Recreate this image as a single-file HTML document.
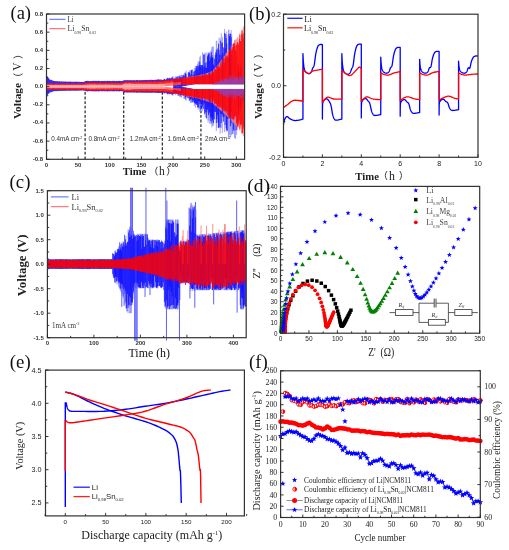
<!DOCTYPE html>
<html><head><meta charset="utf-8"><style>
html,body{margin:0;padding:0;background:#fff;width:509px;height:550px;overflow:hidden}
svg{display:block;filter:blur(0.4px)}
</style></head><body>
<svg width="509" height="550" viewBox="0 0 509 550">
<rect width="509" height="550" fill="#fff"/>
<path d="M85.11 92 V159.3" stroke="#222" stroke-width="1.2" stroke-dasharray="2.8 1.8" fill="none"/>
<path d="M123.71 92 V159.3" stroke="#222" stroke-width="1.2" stroke-dasharray="2.8 1.8" fill="none"/>
<path d="M162.32 92 V159.3" stroke="#222" stroke-width="1.2" stroke-dasharray="2.8 1.8" fill="none"/>
<path d="M200.93 92 V159.3" stroke="#222" stroke-width="1.2" stroke-dasharray="2.8 1.8" fill="none"/>
<path d="M175.05 77.17V86.65M175.05 86.65V94.20M175.60 76.30V86.65M175.60 86.65V95.19M177.80 76.42V86.65M177.80 86.65V95.83M180.00 74.83V86.65M180.00 86.65V96.52M181.10 74.66V86.57M181.10 86.73V97.88M181.65 74.89V86.47M181.65 86.83V97.25M183.85 73.84V86.07M183.85 87.23V98.98M185.50 72.55V85.77M185.50 87.53V100.11M186.05 70.58V85.67M186.05 87.63V100.89M189.35 70.49V85.07M189.35 88.23V100.60M190.45 70.15V84.87M190.45 88.43V102.67M191.00 70.41V84.76M191.00 88.54V102.98M192.10 69.20V84.56M192.10 88.74V103.03M194.30 67.89V84.16M194.30 89.14V106.01M195.40 65.73V84.11M195.40 89.19V107.73M197.60 63.74V84.11M197.60 89.19V107.11M198.15 61.16V84.11M198.15 89.19V109.59M198.70 62.51V84.11M198.70 89.19V107.94M199.25 60.79V84.11M199.25 89.19V108.34M199.80 57.04V84.11M199.80 89.19V111.61M200.35 55.65V84.11M200.35 89.19V111.68M202.55 52.13V84.11M202.55 89.19V111.26M204.75 53.34V84.11M204.75 89.19V114.65M205.30 52.66V84.11M205.30 89.19V117.34M206.95 52.34V84.11M206.95 89.19V119.42M208.05 53.32V84.11M208.05 89.19V122.65M208.60 52.35V84.11M208.60 89.19V120.47M209.70 53.18V84.11M209.70 89.19V123.50M210.25 51.12V84.11M210.25 89.19V123.95M211.35 49.70V84.11M211.35 89.19V123.97M211.90 46.81V84.11M211.90 89.19V127.38M212.45 46.69V84.11M212.45 89.19V125.93M213.55 46.44V84.11M213.55 89.19V125.68M216.30 40.96V84.11M216.30 89.19V131.09M216.85 40.61V84.11M216.85 89.19V127.82M219.05 37.58V84.11M219.05 89.19V127.51M220.15 38.03V84.11M220.15 89.19V133.83M221.25 33.13V84.11M221.25 89.19V128.02M222.35 36.69V84.11M222.35 89.19V133.04M224.55 28.99V84.11M224.55 89.19V132.08M226.20 31.56V84.11M226.20 89.19V131.62M226.75 34.65V84.11M226.75 89.19V130.32M228.40 30.06V84.11M228.40 89.19V137.41M228.95 29.51V84.11M228.95 89.19V138.92M229.50 33.69V84.11M229.50 89.19V134.77M230.60 32.91V84.11M230.60 89.19V137.10M231.15 30.07V84.11M231.15 89.19V135.22M231.70 34.47V84.11M231.70 89.19V134.89M234.45 40.51V84.11M234.45 89.19V138.15M235.00 39.51V84.11M235.00 89.19V137.26M235.55 45.17V84.11M235.55 89.19V138.88M236.65 58.25V84.11M236.65 89.19V134.83M237.20 63.36V84.11M237.20 89.19V130.14M237.75 62.98V84.11M237.75 89.19V123.55M238.30 63.76V84.11M238.30 89.19V123.65M238.85 63.62V84.11M238.85 89.19V118.65M240.50 66.96V84.11M240.50 89.19V112.48M241.05 65.58V84.11M241.05 89.19V110.55M241.60 67.36V84.11M241.60 89.19V109.58" stroke="#8080ff" stroke-width="0.7" fill="none"/>
<path d="M46.90 76.06V83.87M46.90 89.20V95.27M47.45 76.68V83.87M47.45 89.20V94.98M48.00 77.77V83.87M48.00 89.20V94.18M48.55 78.48V83.87M48.55 89.20V93.54M49.10 78.68V83.87M49.10 89.20V93.34M49.65 79.50V83.87M49.65 89.20V92.61M50.20 79.98V83.87M50.20 89.20V92.17M50.75 79.88V83.87M50.75 89.20V92.23M51.30 79.90V83.87M51.30 89.20V92.20M51.85 80.24V83.87M51.85 89.20V91.90M52.40 80.66V83.87M52.40 89.20V91.54M52.95 80.65V83.87M52.95 89.20V91.53M53.50 80.98V83.87M53.50 89.20V91.24M54.05 81.22V83.87M54.05 89.20V91.03M54.60 81.10V83.87M54.60 89.20V91.13M55.15 81.13V83.87M55.15 89.20V91.12M55.70 81.19V83.87M55.70 89.20V91.07M56.25 81.27V83.87M56.25 89.20V91.02M56.80 81.10V83.87M56.80 89.20V91.17M57.35 81.23V83.87M57.35 89.20V91.07M57.90 81.51V83.87M57.90 89.20V90.85M58.45 81.58V83.87M58.45 89.20V90.81M59.00 81.44V83.87M59.00 89.20V90.93M59.55 81.43V83.87M59.55 89.20V90.94M60.10 81.39V83.87M60.10 89.20V90.97M60.65 81.79V83.87M60.65 89.20V90.64M61.20 81.43V83.87M61.20 89.20V90.93M61.75 81.41V83.87M61.75 89.20V90.95M62.30 81.78V83.87M62.30 89.20V90.64M62.85 81.51V83.87M62.85 89.20V90.87M63.40 81.79V83.87M63.40 89.20V90.63M63.95 81.45V83.87M63.95 89.20V90.91M64.50 81.79V83.87M64.50 89.20V90.62M65.05 81.81V83.87M65.05 89.20V90.61M65.60 81.54V83.87M65.60 89.20V90.83M66.15 81.64V83.87M66.15 89.20V90.75M66.70 81.80V83.87M66.70 89.20V90.62M67.25 81.83V83.87M67.25 89.20V90.59M67.80 81.84V83.87M67.80 89.20V90.58M68.35 81.81V83.87M68.35 89.20V90.60M68.90 81.52V83.87M68.90 89.20V90.84M69.45 81.79V83.87M69.45 89.20V90.62M70.00 81.83V83.87M70.00 89.20V90.58M70.55 81.59V83.87M70.55 89.20V90.78M71.10 81.89V83.87M71.10 89.20V90.53M71.65 81.86V83.87M71.65 89.20V90.56M72.20 81.65V83.87M72.20 89.20V90.73M72.75 81.84V83.87M72.75 89.20V90.57M73.30 81.93V83.87M73.30 89.20V90.49M73.85 81.88V83.87M73.85 89.20V90.53M74.40 81.83V83.87M74.40 89.20V90.57M74.95 81.61V83.87M74.95 89.20V90.75M75.50 81.77V83.87M75.50 89.20V90.62M76.05 81.93V83.87M76.05 89.20V90.48M76.60 81.66V83.87M76.60 89.20V90.70M77.15 81.92V83.87M77.15 89.20V90.49M77.70 81.74V83.87M77.70 89.20V90.64M78.25 81.96V83.87M78.25 89.20V90.46M78.80 81.70V83.87M78.80 89.20V90.66M79.35 81.89V83.87M79.35 89.20V90.51M79.90 82.04V83.87M79.90 89.20V90.39M80.45 81.97V83.87M80.45 89.20V90.44M81.00 81.97V83.87M81.00 89.20V90.44M81.55 81.85V83.87M81.55 89.20V90.54M82.10 82.02V83.87M82.10 89.20V90.40M82.65 82.07V83.87M82.65 89.20V90.36M83.20 81.89V83.87M83.20 89.20V90.50M83.75 81.87V83.87M83.75 89.20V90.51M84.30 81.77V83.87M84.30 89.20V90.59M84.85 81.59V83.46M84.85 89.61V90.73M85.40 81.04V83.18M85.40 89.89V91.17M85.95 81.17V83.18M85.95 89.89V91.07M86.50 80.99V83.18M86.50 89.89V91.22M87.05 81.08V83.18M87.05 89.89V91.14M87.60 80.80V83.18M87.60 89.89V91.36M88.15 80.93V83.18M88.15 89.89V91.26M88.70 81.18V83.18M88.70 89.89V91.06M89.25 81.24V83.18M89.25 89.89V91.01M89.80 80.93V83.18M89.80 89.89V91.26M90.35 81.24V83.18M90.35 89.89V91.02M90.90 81.03V83.18M90.90 89.89V91.18M91.45 81.10V83.18M91.45 89.89V91.12M92.00 81.21V83.18M92.00 89.89V91.04M92.55 80.91V83.18M92.55 89.89V91.28M93.10 80.91V83.18M93.10 89.89V91.28M93.65 80.89V83.18M93.65 89.89V91.30M94.20 81.09V83.18M94.20 89.89V91.14M94.75 80.84V83.18M94.75 89.89V91.34M95.30 81.06V83.18M95.30 89.89V91.16M95.85 80.86V83.18M95.85 89.89V91.32M96.40 80.96V83.18M96.40 89.89V91.24M96.95 80.98V83.18M96.95 89.89V91.22M97.50 81.21V83.18M97.50 89.89V91.04M98.05 80.80V83.18M98.05 89.89V91.37M98.60 80.92V83.18M98.60 89.89V91.27M99.15 80.91V83.18M99.15 89.89V91.28M99.70 81.05V83.18M99.70 89.89V91.17M100.25 81.21V83.18M100.25 89.89V91.04M100.80 81.23V83.18M100.80 89.89V91.02M101.35 81.03V83.18M101.35 89.89V91.18M101.90 80.93V83.18M101.90 89.89V91.26M102.45 80.97V83.18M102.45 89.89V91.23M103.00 81.13V83.18M103.00 89.89V91.10M103.55 81.11V83.18M103.55 89.89V91.12M104.10 81.15V83.18M104.10 89.89V91.08M104.65 80.84V83.18M104.65 89.89V91.34M105.20 81.05V83.18M105.20 89.89V91.17M105.75 81.10V83.18M105.75 89.89V91.13M106.30 81.16V83.18M106.30 89.89V91.08M106.85 80.88V83.18M106.85 89.89V91.30M107.40 80.85V83.18M107.40 89.89V91.33M107.95 80.98V83.18M107.95 89.89V91.22M108.50 81.18V83.18M108.50 89.89V91.06M109.05 80.87V83.18M109.05 89.89V91.31M109.60 80.93V83.18M109.60 89.89V91.27M110.15 81.12V83.18M110.15 89.89V91.11M110.70 81.04V83.18M110.70 89.89V91.17M111.25 81.15V83.18M111.25 89.89V91.09M111.80 80.96V83.18M111.80 89.89V91.24M112.35 81.10V83.18M112.35 89.89V91.12M112.90 80.80V83.18M112.90 89.89V91.37M113.45 81.21V83.18M113.45 89.89V91.04M114.00 80.85V83.18M114.00 89.89V91.33M114.55 80.93V83.18M114.55 89.89V91.27M115.10 81.11V83.18M115.10 89.89V91.12M115.65 81.24V83.18M115.65 89.89V91.02M116.20 81.04V83.18M116.20 89.89V91.17M116.75 80.87V83.18M116.75 89.89V91.31M117.30 81.18V83.18M117.30 89.89V91.06M117.85 80.96V83.18M117.85 89.89V91.24M118.40 80.96V83.18M118.40 89.89V91.24M118.95 80.88V83.18M118.95 89.89V91.30M119.50 80.94V83.18M119.50 89.89V91.26M120.05 81.03V83.18M120.05 89.89V91.18M120.60 81.24V83.18M120.60 89.89V91.01M121.15 80.92V83.18M121.15 89.89V91.27M121.70 81.12V83.18M121.70 89.89V91.11M122.25 80.93V83.18M122.25 89.89V91.26M122.80 80.97V83.18M122.80 89.89V91.23M123.35 80.80V82.82M123.35 90.29V91.61M123.90 80.18V82.33M123.90 90.82V92.47M124.45 80.16V82.32M124.45 90.82V92.49M125.00 80.56V82.31M125.00 90.82V92.13M125.55 80.31V82.30M125.55 90.82V92.36M126.10 80.43V82.29M126.10 90.83V92.26M126.65 80.18V82.29M126.65 90.83V92.49M127.20 80.14V82.28M127.20 90.83V92.53M127.75 80.29V82.27M127.75 90.83V92.41M128.30 80.25V82.26M128.30 90.83V92.45M128.85 80.29V82.26M128.85 90.84V92.42M129.40 80.50V82.25M129.40 90.84V92.23M129.95 80.11V82.24M129.95 90.84V92.59M130.50 80.33V82.23M130.50 90.84V92.39M131.05 80.44V82.23M131.05 90.84V92.30M131.60 80.16V82.22M131.60 90.85V92.55M132.15 80.55V82.21M132.15 90.85V92.21M132.70 80.31V82.20M132.70 90.85V92.43M133.25 80.34V82.20M133.25 90.85V92.41M133.80 80.18V82.19M133.80 90.85V92.56M134.35 80.18V82.18M134.35 90.85V92.57M134.90 80.41V82.17M134.90 90.86V92.36M135.45 80.51V82.16M135.45 90.86V92.28M136.00 80.31V82.16M136.00 90.86V92.46M136.55 80.15V82.15M136.55 90.86V92.62M137.10 80.09V82.14M137.10 90.86V92.68M137.65 80.09V82.13M137.65 90.87V92.69M138.20 80.45V82.13M138.20 90.87V92.35M138.75 80.41V82.12M138.75 90.87V92.39M139.30 80.23V82.11M139.30 90.87V92.56M139.85 80.13V82.10M139.85 90.87V92.67M140.40 80.39V82.10M140.40 90.88V92.43M140.95 80.12V82.09M140.95 90.88V92.69M141.50 80.44V82.08M141.50 90.88V92.39M142.05 80.03V82.07M142.05 90.88V92.76M142.60 80.22V82.06M142.60 90.88V92.58M143.15 80.22V82.06M143.15 90.89V92.57M143.70 80.16V82.05M143.70 90.89V92.61M144.25 79.95V82.04M144.25 90.89V92.79M144.80 80.23V82.03M144.80 90.89V92.53M145.35 80.13V82.03M145.35 90.89V92.61M145.90 80.04V82.02M145.90 90.90V92.68M146.45 80.10V82.01M146.45 90.90V92.62M147.00 79.86V82.00M147.00 90.91V92.83M147.55 80.20V81.99M147.55 90.92V92.51M148.10 80.26V81.98M148.10 90.93V92.45M148.65 79.88V81.97M148.65 90.93V92.78M149.20 80.04V81.96M149.20 90.94V92.63M149.75 80.17V81.95M149.75 90.95V92.50M150.30 79.76V81.94M150.30 90.96V92.86M150.85 79.82V81.93M150.85 90.97V92.80M151.40 80.11V81.92M151.40 90.97V92.52M151.95 79.83V81.91M151.95 90.98V92.77M152.50 79.99V81.89M152.50 90.99V92.62M153.05 80.10V81.88M153.05 91.00V92.50M153.60 80.08V81.87M153.60 91.00V92.52M154.15 79.99V81.86M154.15 91.01V92.59M154.70 79.82V81.85M154.70 91.02V92.73M155.25 79.88V81.84M155.25 91.03V92.66M155.80 79.78V81.83M155.80 91.03V92.75M156.35 79.94V81.82M156.35 91.04V92.60M156.90 79.68V81.81M156.90 91.05V92.82M157.45 79.54V81.80M157.45 91.06V92.93M158.00 79.52V81.79M158.00 91.07V92.94M158.55 79.56V81.78M158.55 91.07V92.89M159.10 79.46V81.77M159.10 91.08V92.98M159.65 79.76V81.76M159.65 91.09V92.70M160.20 79.80V81.75M160.20 91.10V92.66M160.75 79.40V81.74M160.75 91.10V92.99M161.30 79.75V81.73M161.30 91.11V92.68M161.85 79.72V81.72M161.85 91.12V92.70M162.40 80.01V81.70M162.40 91.13V92.43M162.95 79.91V81.63M162.95 91.19V92.52M163.50 80.08V81.57M163.50 91.24V92.37M164.05 78.80V81.50M164.05 91.30V93.48M164.60 78.98V81.43M164.60 91.35V93.32M165.15 79.73V81.37M165.15 91.41V92.66M165.70 79.84V81.30M165.70 91.46V92.56M166.25 78.87V81.23M166.25 91.51V93.40M166.80 79.33V81.16M166.80 91.57V93.00M167.35 78.00V81.10M167.35 91.62V94.15M167.90 77.82V81.03M167.90 91.68V94.30M168.45 78.75V80.96M168.45 91.73V93.49M169.00 78.44V80.90M169.00 91.79V93.75M169.55 77.83V80.83M169.55 91.84V94.28M170.10 78.14V80.76M170.10 91.89V94.01M170.65 78.48V80.69M170.65 91.95V93.71M171.20 78.69V80.63M171.20 92.00V93.52M171.75 77.27V80.56M171.75 92.06V94.75M172.30 77.71V80.49M172.30 92.11V94.37M172.85 76.45V80.43M172.85 92.17V95.45M173.40 80.72V86.65M173.40 86.65V94.01M173.95 78.38V86.65M173.95 86.65V92.34M174.50 78.76V86.65M174.50 86.65V93.70M175.05 78.54V86.65M175.05 86.65V91.29M175.60 78.78V86.65M175.60 86.65V93.37M176.15 78.47V86.65M176.15 86.65V93.38M176.70 76.72V86.65M176.70 86.65V93.87M177.25 76.54V86.65M177.25 86.65V91.61M177.80 79.68V86.65M177.80 86.65V93.31M178.35 79.53V86.65M178.35 86.65V95.62M178.90 75.80V86.65M178.90 86.65V94.41M179.45 76.34V86.65M179.45 86.65V92.43M180.00 80.06V86.65M180.00 86.65V96.48M180.55 76.90V86.65M180.55 86.65V92.64M181.10 77.13V86.57M181.10 86.73V95.38M181.65 78.21V86.47M181.65 86.83V92.72M182.20 75.45V86.37M182.20 86.93V93.05M182.75 77.06V86.27M182.75 87.03V95.39M183.30 75.12V86.17M183.30 87.13V95.54M183.85 75.48V86.07M183.85 87.23V95.67M184.40 76.30V85.97M184.40 87.33V94.80M184.95 72.69V85.87M184.95 87.43V98.85M185.50 73.79V85.77M185.50 87.53V97.22M186.05 73.76V85.67M186.05 87.63V94.90M186.60 76.73V85.57M186.60 87.73V96.46M187.15 77.80V85.47M187.15 87.83V98.18M187.70 76.79V85.37M187.70 87.93V96.34M188.25 72.44V85.27M188.25 88.03V98.28M188.80 72.20V85.17M188.80 88.13V96.86M189.35 72.42V85.07M189.35 88.23V100.65M189.90 73.53V84.97M189.90 88.33V98.00M190.45 75.94V84.87M190.45 88.43V99.40M191.00 74.67V84.76M191.00 88.54V100.12M191.55 70.21V84.66M191.55 88.64V98.48M192.10 69.79V84.56M192.10 88.74V102.17M192.65 75.41V84.46M192.65 88.84V100.11M193.20 75.16V84.36M193.20 88.94V102.00M193.75 71.61V84.26M193.75 89.04V100.88M194.30 71.06V84.16M194.30 89.14V103.06M194.85 74.21V84.11M194.85 89.19V103.12M195.40 70.25V84.11M195.40 89.19V103.69M195.95 67.79V84.11M195.95 89.19V103.61M196.50 65.88V84.11M196.50 89.19V104.89M197.05 68.66V84.11M197.05 89.19V104.43M197.60 65.84V84.11M197.60 89.19V107.47M198.15 72.68V84.11M198.15 89.19V101.37M198.70 66.27V84.11M198.70 89.19V107.59M199.25 65.32V84.11M199.25 89.19V101.16M199.80 61.77V84.11M199.80 89.19V104.07M200.35 65.08V84.11M200.35 89.19V101.73M200.90 67.03V84.11M200.90 89.19V110.22M201.45 65.03V84.11M201.45 89.19V108.87M202.00 65.00V84.11M202.00 89.19V103.49M202.55 65.09V84.11M202.55 89.19V107.25M203.10 67.40V84.11M203.10 89.19V104.68M203.65 54.30V84.11M203.65 89.19V109.16M204.20 54.67V84.11M204.20 89.19V103.46M204.75 65.89V84.11M204.75 89.19V113.69M205.30 62.70V84.11M205.30 89.19V112.47M205.85 67.84V84.11M205.85 89.19V108.85M206.40 67.75V84.11M206.40 89.19V118.18M206.95 61.99V84.11M206.95 89.19V112.38M207.50 56.32V84.11M207.50 89.19V109.86M208.05 54.64V84.11M208.05 89.19V106.79M208.60 54.29V84.11M208.60 89.19V115.11M209.15 52.77V84.11M209.15 89.19V113.10M209.70 61.07V84.11M209.70 89.19V112.13M210.25 56.54V84.11M210.25 89.19V117.33M210.80 58.80V84.11M210.80 89.19V121.07M211.35 52.27V84.11M211.35 89.19V117.37M211.90 55.13V84.11M211.90 89.19V122.60M212.45 57.22V84.11M212.45 89.19V120.42M213.00 57.60V84.11M213.00 89.19V118.23M213.55 64.40V84.11M213.55 89.19V123.16M214.10 65.43V84.11M214.10 89.19V111.83M214.65 58.87V84.11M214.65 89.19V119.45M215.20 54.90V84.11M215.20 89.19V112.06M215.75 52.34V84.11M215.75 89.19V111.70M216.30 49.98V84.11M216.30 89.19V123.06M216.85 53.58V84.11M216.85 89.19V119.09M217.40 48.51V84.11M217.40 89.19V115.19M217.95 61.53V84.11M217.95 89.19V122.71M218.50 43.73V84.11M218.50 89.19V128.09M219.05 49.96V84.11M219.05 89.19V127.15M219.60 54.32V84.11M219.60 89.19V111.29M220.15 59.96V84.11M220.15 89.19V127.57M220.70 40.70V84.11M220.70 89.19V114.18M221.25 55.21V84.11M221.25 89.19V122.89M221.80 43.17V84.11M221.80 89.19V113.33M222.35 42.48V84.11M222.35 89.19V114.72M222.90 52.92V84.11M222.90 89.19V116.97M223.45 47.35V84.11M223.45 89.19V121.71M224.00 55.19V84.11M224.00 89.19V117.02M224.55 33.04V84.11M224.55 89.19V112.11M225.10 48.33V84.11M225.10 89.19V124.99M225.65 34.06V84.11M225.65 89.19V115.28M226.20 38.11V84.11M226.20 89.19V128.17M226.75 43.34V84.11M226.75 89.19V130.10M227.30 55.45V84.11M227.30 89.19V131.07M227.85 56.22V84.11M227.85 89.19V118.88M228.40 53.15V84.11M228.40 89.19V117.81M228.95 34.02V84.11M228.95 89.19V113.47M229.50 36.02V84.11M229.50 89.19V115.74M230.05 51.89V84.11M230.05 89.19V118.29M230.60 33.97V84.11M230.60 89.19V126.18M231.15 37.16V84.11M231.15 89.19V123.18M231.70 54.82V84.11M231.70 89.19V117.73M232.25 50.59V84.11M232.25 89.19V115.03M232.80 51.18V84.11M232.80 89.19V133.93M233.35 43.99V84.11M233.35 89.19V129.75M233.90 54.22V84.11M233.90 89.19V131.03M234.45 49.47V84.11M234.45 89.19V114.73M235.00 59.33V84.11M235.00 89.19V118.77M235.55 61.07V84.11M235.55 89.19V115.22M236.10 64.74V84.11M236.10 89.19V130.12M236.65 65.74V84.11M236.65 89.19V121.69M237.20 71.49V84.11M237.20 89.19V123.54M237.75 66.28V84.11M237.75 89.19V108.30M238.30 70.74V84.11M238.30 89.19V109.12M238.85 68.35V84.11M238.85 89.19V115.11M239.40 72.21V84.11M239.40 89.19V112.07M239.95 72.38V84.11M239.95 89.19V105.41M240.50 75.64V84.11M240.50 89.19V106.65M241.05 67.63V84.11M241.05 89.19V103.44M241.60 75.10V84.11M241.60 89.19V105.56M242.15 74.21V84.11M242.15 89.19V100.27M242.70 76.34V84.11M242.70 89.19V102.04M243.25 75.72V84.11M243.25 89.19V101.63M243.80 75.63V84.11M243.80 89.19V102.75" stroke="#0000ff" stroke-width="0.7" fill="none"/>
<path d="M183.30 77.83V84.71M183.30 88.59V95.25M184.40 77.67V84.66M184.40 88.64V95.51M186.05 77.40V84.59M186.05 88.71V95.89M186.60 77.29V84.56M186.60 88.74V96.02M187.15 77.19V84.54M187.15 88.76V96.15M187.70 77.09V84.51M187.70 88.79V96.28M188.25 76.99V84.49M188.25 88.81V96.41M188.80 76.89V84.46M188.80 88.84V96.53M189.35 76.78V84.44M189.35 88.86V96.66M189.90 76.68V84.41M189.90 88.89V96.79M190.45 76.58V84.39M190.45 88.91V96.92M191.55 76.38V84.33M191.55 88.97V97.18M192.10 76.28V84.31M192.10 88.99V97.30M192.65 76.17V84.28M192.65 89.02V97.43M193.20 76.07V84.26M193.20 89.04V97.56M193.75 75.97V84.23M193.75 89.07V97.69M195.40 75.66V84.16M195.40 89.14V98.07M197.05 75.36V84.11M197.05 89.19V98.46M198.15 75.16V84.11M198.15 89.19V98.71M199.25 74.95V84.11M199.25 89.19V98.97M200.35 74.75V84.11M200.35 89.19V99.23M200.90 74.65V84.11M200.90 89.19V99.36M201.45 74.54V84.11M201.45 89.19V99.53M203.10 74.24V84.11M203.10 89.19V100.05M203.65 74.14V84.11M203.65 89.19V100.23M204.20 74.04V84.11M204.20 89.19V100.41M205.85 73.51V84.11M205.85 89.19V100.93M206.40 73.30V84.11M206.40 89.19V101.11M206.95 73.09V84.11M206.95 89.19V101.28M207.50 72.88V84.11M207.50 89.19V101.46M208.05 72.67V84.11M208.05 89.19V101.63M208.60 72.46V84.11M208.60 89.19V101.81M210.25 71.82V84.11M210.25 89.19V102.33M211.35 71.40V84.11M211.35 89.19V102.68M211.90 71.19V84.11M211.90 89.19V102.86M213.55 69.66V84.11M213.55 89.19V104.09M214.10 69.04V84.11M214.10 89.19V104.58M214.65 68.42V84.11M214.65 89.19V105.06M215.20 67.81V84.11M215.20 89.19V105.55M215.75 67.19V84.11M215.75 89.19V106.04M216.30 66.58V84.11M216.30 89.19V106.53M217.40 65.35V84.11M217.40 89.19V107.51M217.95 64.73V84.11M217.95 89.19V107.99M219.05 63.37V84.11M219.05 89.19V108.97M219.60 62.59V84.11M219.60 89.19V109.46M220.15 61.80V84.11M220.15 89.19V109.95M220.70 61.01V84.11M220.70 89.19V110.44M221.25 60.22V84.11M221.25 89.19V110.93M221.80 59.43V84.11M221.80 89.19V111.41M223.45 57.06V84.11M223.45 89.19V112.88M224.00 56.27V84.11M224.00 89.19V113.37M224.55 55.48V84.11M224.55 89.19V113.86M225.65 53.91V84.11M225.65 89.19V114.84M226.20 53.17V84.11M226.20 89.19V115.39M226.75 52.42V84.11M226.75 89.19V115.95M227.30 51.68V84.11M227.30 89.19V116.51M227.85 50.94V84.11M227.85 89.19V117.07M228.40 50.20V84.11M228.40 89.19V117.62M231.15 46.48V84.11M231.15 89.19V120.41M232.25 45.00V84.11M232.25 89.19V121.52M232.80 44.25V84.11M232.80 89.19V122.08M233.35 43.51V84.11M233.35 89.19V122.64M233.90 42.77V84.11M233.90 89.19V123.19M234.45 42.03V84.11M234.45 89.19V123.75M235.00 41.28V84.11M235.00 89.19V124.31M235.55 40.54V84.11M235.55 89.19V124.86M236.10 39.80V84.11M236.10 89.19V125.42M236.65 38.94V84.11M236.65 89.19V126.10M237.20 37.97V84.11M237.20 89.19V126.88M237.75 37.00V84.11M237.75 89.19V127.67M239.40 34.08V84.11M239.40 89.19V130.04M239.95 33.11V84.11M239.95 89.19V130.83M241.60 30.20V84.11M241.60 89.19V133.20M242.15 29.23V84.11M242.15 89.19V133.99M243.25 27.29V84.11M243.25 89.19V135.56M243.80 26.31V84.11M243.80 89.19V136.35" stroke="#ff8080" stroke-width="0.7" fill="none"/>
<path d="M46.90 83.36V85.26M46.90 87.76V89.66M47.45 83.39V85.29M47.45 87.74V89.64M48.00 83.35V85.25M48.00 87.77V89.67M48.55 83.38V85.28M48.55 87.75V89.65M49.10 83.29V85.19M49.10 87.83V89.73M49.65 83.45V85.35M49.65 87.69V89.59M50.20 83.28V85.18M50.20 87.84V89.74M50.75 83.53V85.43M50.75 87.61V89.51M51.30 83.23V85.13M51.30 87.89V89.79M51.85 83.34V85.24M51.85 87.78V89.68M52.40 83.54V85.44M52.40 87.60V89.50M52.95 83.53V85.43M52.95 87.61V89.51M53.50 83.47V85.37M53.50 87.67V89.57M54.05 83.39V85.29M54.05 87.74V89.64M54.60 83.27V85.17M54.60 87.85V89.75M55.15 83.34V85.24M55.15 87.79V89.69M55.70 83.33V85.23M55.70 87.80V89.70M56.25 83.45V85.35M56.25 87.68V89.58M56.80 83.22V85.12M56.80 87.89V89.79M57.35 83.31V85.21M57.35 87.81V89.71M57.90 83.47V85.37M57.90 87.67V89.57M58.45 83.52V85.42M58.45 87.62V89.52M59.00 83.41V85.31M59.00 87.72V89.62M59.55 83.42V85.32M59.55 87.71V89.61M60.10 83.27V85.17M60.10 87.85V89.75M60.65 83.48V85.38M60.65 87.66V89.56M61.20 83.39V85.29M61.20 87.74V89.64M61.75 83.41V85.31M61.75 87.72V89.62M62.30 83.34V85.24M62.30 87.79V89.69M62.85 83.46V85.36M62.85 87.68V89.58M63.40 83.44V85.34M63.40 87.70V89.60M63.95 83.30V85.20M63.95 87.82V89.72M64.50 83.46V85.36M64.50 87.67V89.57M65.05 83.53V85.43M65.05 87.61V89.51M65.60 83.49V85.39M65.60 87.65V89.55M66.15 83.40V85.30M66.15 87.73V89.63M66.70 83.31V85.21M66.70 87.82V89.72M67.25 83.33V85.23M67.25 87.79V89.69M67.80 83.41V85.31M67.80 87.72V89.62M68.35 83.46V85.36M68.35 87.68V89.58M68.90 83.28V85.18M68.90 87.84V89.74M69.45 83.26V85.16M69.45 87.86V89.76M70.00 83.42V85.32M70.00 87.71V89.61M70.55 83.33V85.23M70.55 87.79V89.69M71.10 83.22V85.12M71.10 87.89V89.79M71.65 83.46V85.36M71.65 87.67V89.57M72.20 83.44V85.34M72.20 87.70V89.60M72.75 83.52V85.42M72.75 87.62V89.52M73.30 83.35V85.25M73.30 87.77V89.67M73.85 83.35V85.25M73.85 87.78V89.68M74.40 83.40V85.30M74.40 87.73V89.63M74.95 83.39V85.29M74.95 87.74V89.64M75.50 83.26V85.16M75.50 87.86V89.76M76.05 83.49V85.39M76.05 87.64V89.54M76.60 83.28V85.18M76.60 87.84V89.74M77.15 83.48V85.38M77.15 87.65V89.55M77.70 83.24V85.14M77.70 87.88V89.78M78.25 83.23V85.13M78.25 87.88V89.78M78.80 83.35V85.25M78.80 87.78V89.68M79.35 83.51V85.41M79.35 87.63V89.53M79.90 83.23V85.13M79.90 87.89V89.79M80.45 83.31V85.21M80.45 87.81V89.71M81.00 83.28V85.18M81.00 87.84V89.74M81.55 83.45V85.35M81.55 87.68V89.58M82.10 83.31V85.21M82.10 87.81V89.71M82.65 83.47V85.37M82.65 87.67V89.57M83.20 83.27V85.17M83.20 87.85V89.75M83.75 83.45V85.35M83.75 87.68V89.58M84.30 83.48V85.38M84.30 87.66V89.56M84.85 82.98V84.88M84.85 88.15V90.05M85.40 82.74V85.04M85.40 88.00V90.30M85.95 82.62V84.92M85.95 88.11V90.41M86.50 82.71V85.01M86.50 88.02V90.32M87.05 82.40V84.70M87.05 88.31V90.61M87.60 82.50V84.80M87.60 88.22V90.52M88.15 82.53V84.83M88.15 88.20V90.50M88.70 82.75V85.05M88.70 87.99V90.29M89.25 82.40V84.70M89.25 88.32V90.62M89.80 82.37V84.67M89.80 88.34V90.64M90.35 82.51V84.81M90.35 88.22V90.52M90.90 82.47V84.77M90.90 88.25V90.55M91.45 82.36V84.66M91.45 88.35V90.65M92.00 82.55V84.85M92.00 88.18V90.48M92.55 82.40V84.70M92.55 88.32V90.62M93.10 82.48V84.78M93.10 88.24V90.54M93.65 82.39V84.69M93.65 88.32V90.62M94.20 82.49V84.79M94.20 88.23V90.53M94.75 82.41V84.71M94.75 88.31V90.61M95.30 82.45V84.75M95.30 88.27V90.57M95.85 82.53V84.83M95.85 88.19V90.49M96.40 82.61V84.91M96.40 88.12V90.42M96.95 82.52V84.82M96.95 88.21V90.51M97.50 82.51V84.81M97.50 88.22V90.52M98.05 82.41V84.71M98.05 88.31V90.61M98.60 82.61V84.91M98.60 88.12V90.42M99.15 82.53V84.83M99.15 88.19V90.49M99.70 82.43V84.73M99.70 88.29V90.59M100.25 82.46V84.76M100.25 88.26V90.56M100.80 82.52V84.82M100.80 88.20V90.50M101.35 82.67V84.97M101.35 88.06V90.36M101.90 82.57V84.87M101.90 88.16V90.46M102.45 82.39V84.69M102.45 88.32V90.62M103.00 82.76V85.06M103.00 87.98V90.28M103.55 82.49V84.79M103.55 88.23V90.53M104.10 82.70V85.00M104.10 88.04V90.34M104.65 82.50V84.80M104.65 88.22V90.52M105.20 82.40V84.70M105.20 88.31V90.61M105.75 82.50V84.80M105.75 88.23V90.53M106.30 82.59V84.89M106.30 88.14V90.44M106.85 82.39V84.69M106.85 88.32V90.62M107.40 82.61V84.91M107.40 88.12V90.42M107.95 82.64V84.94M107.95 88.09V90.39M108.50 82.57V84.87M108.50 88.16V90.46M109.05 82.42V84.72M109.05 88.30V90.60M109.60 82.38V84.68M109.60 88.34V90.64M110.15 82.70V85.00M110.15 88.04V90.34M110.70 82.66V84.96M110.70 88.08V90.38M111.25 82.60V84.90M111.25 88.13V90.43M111.80 82.57V84.87M111.80 88.16V90.46M112.35 82.43V84.73M112.35 88.29V90.59M112.90 82.58V84.88M112.90 88.15V90.45M113.45 82.76V85.06M113.45 87.98V90.28M114.00 82.75V85.05M114.00 87.99V90.29M114.55 82.54V84.84M114.55 88.19V90.49M115.10 82.44V84.74M115.10 88.27V90.57M115.65 82.71V85.01M115.65 88.02V90.32M116.20 82.76V85.06M116.20 87.98V90.28M116.75 82.67V84.97M116.75 88.06V90.36M117.30 82.75V85.05M117.30 87.99V90.29M117.85 82.59V84.89M117.85 88.14V90.44M118.40 82.50V84.80M118.40 88.22V90.52M118.95 82.38V84.68M118.95 88.34V90.64M119.50 82.69V84.99M119.50 88.05V90.35M120.05 82.70V85.00M120.05 88.04V90.34M120.60 82.58V84.88M120.60 88.15V90.45M121.15 82.70V85.00M121.15 88.04V90.34M121.70 82.63V84.93M121.70 88.10V90.40M122.25 82.56V84.86M122.25 88.17V90.47M122.80 82.46V84.76M122.80 88.26V90.56M123.35 82.01V84.31M123.35 88.75V91.05M123.90 81.77V84.08M123.90 89.05V91.35M124.45 81.44V83.76M124.45 89.35V91.67M125.00 81.57V83.90M125.00 89.20V91.54M125.55 81.33V83.67M125.55 89.42V91.76M126.10 81.49V83.85M126.10 89.24V91.60M126.65 81.36V83.74M126.65 89.34V91.71M127.20 81.53V83.91M127.20 89.16V91.55M127.75 81.65V84.05M127.75 89.03V91.42M128.30 81.33V83.74M128.30 89.32V91.73M128.85 81.37V83.79M128.85 89.26V91.68M129.40 81.26V83.70M129.40 89.33V91.77M129.95 81.22V83.67M129.95 89.36V91.81M130.50 81.30V83.77M130.50 89.26V91.72M131.05 81.23V83.71M131.05 89.31V91.79M131.60 81.51V84.01M131.60 89.02V91.51M132.15 81.46V83.97M132.15 89.05V91.56M132.70 81.28V83.80M132.70 89.20V91.72M133.25 81.66V84.19M133.25 88.82V91.36M133.80 81.63V84.18M133.80 88.83V91.38M134.35 81.56V84.12M134.35 88.87V91.43M134.90 81.23V83.81M134.90 89.17V91.74M135.45 81.56V84.15M135.45 88.84V91.43M136.00 81.25V83.85M136.00 89.11V91.71M136.55 81.25V83.87M136.55 89.08V91.70M137.10 81.35V83.98M137.10 88.98V91.60M137.65 81.56V84.20M137.65 88.76V91.40M138.20 81.31V83.97M138.20 88.97V91.63M138.75 81.20V83.87M138.75 89.06V91.73M139.30 81.30V83.98M139.30 88.95V91.63M139.85 81.27V83.97M139.85 88.95V91.65M140.40 81.36V84.07M140.40 88.85V91.56M140.95 81.07V83.79M140.95 89.10V91.82M141.50 81.08V83.82M141.50 89.06V91.80M142.05 81.25V84.00M142.05 88.89V91.64M142.60 81.42V84.18M142.60 88.72V91.48M143.15 81.24V84.02M143.15 88.86V91.63M143.70 81.49V84.28M143.70 88.61V91.40M144.25 81.22V84.02M144.25 88.84V91.65M144.80 81.06V83.87M144.80 88.97V91.79M145.35 81.22V84.05M145.35 88.81V91.64M145.90 81.44V84.28M145.90 88.58V91.43M146.45 81.24V84.09M146.45 88.75V91.61M147.00 80.95V83.82M147.00 89.00V91.88M147.55 81.18V84.07M147.55 88.77V91.66M148.10 81.19V84.09M148.10 88.75V91.65M148.65 80.92V83.83M148.65 88.98V91.89M149.20 81.23V84.16M149.20 88.68V91.61M149.75 81.05V83.99M149.75 88.83V91.77M150.30 81.31V84.26M150.30 88.58V91.53M150.85 81.36V84.32M150.85 88.52V91.48M151.40 81.23V84.21M151.40 88.62V91.60M151.95 81.17V84.16M151.95 88.66V91.65M152.50 80.99V84.00M152.50 88.81V91.81M153.05 80.91V83.94M153.05 88.86V91.88M153.60 81.03V84.06M153.60 88.74V91.78M154.15 81.19V84.24M154.15 88.58V91.63M154.70 81.04V84.10M154.70 88.70V91.76M155.25 81.04V84.12M155.25 88.68V91.75M155.80 81.18V84.26M155.80 88.54V91.63M156.35 80.90V84.00M156.35 88.78V91.89M156.90 80.94V84.06M156.90 88.73V91.84M157.45 80.88V84.01M157.45 88.76V91.89M158.00 81.09V84.23M158.00 88.56V91.71M158.55 80.74V83.90M158.55 88.86V92.02M159.10 81.02V84.19M159.10 88.60V91.77M159.65 80.65V83.84M159.65 88.91V92.09M160.20 80.60V83.80M160.20 88.95V92.14M160.75 81.08V84.30M160.75 88.49V91.70M161.30 80.73V83.95M161.30 88.79V92.02M161.85 81.08V84.32M161.85 88.46V91.70M162.40 80.66V83.91M162.40 88.83V92.08M162.95 80.64V83.90M162.95 88.82V92.09M163.50 80.56V83.84M163.50 88.87V92.15M164.05 80.82V84.12M164.05 88.62V91.91M164.60 80.51V83.81M164.60 88.88V92.18M165.15 80.70V84.02M165.15 88.69V92.00M165.70 80.32V83.65M165.70 89.01V92.34M166.25 80.50V83.85M166.25 88.83V92.17M166.80 79.98V83.34M166.80 89.27V92.63M167.35 80.38V83.75M167.35 88.89V92.26M167.90 80.06V83.45M167.90 89.16V92.54M168.45 79.98V83.38M168.45 89.21V92.61M169.00 79.81V83.23M169.00 89.34V92.75M169.55 79.57V82.99M169.55 89.54V92.97M170.10 79.56V83.00M170.10 89.53V92.97M170.65 79.88V83.33M170.65 89.22V92.67M171.20 79.29V82.75M171.20 89.73V93.20M171.75 79.23V82.71M171.75 89.76V93.24M172.30 79.33V82.83M172.30 89.65V93.14M172.85 79.11V82.61M172.85 89.83V93.34M173.40 79.04V82.56M173.40 89.86V93.39M173.95 78.89V82.42M173.95 89.98V93.52M174.50 79.16V82.71M174.50 89.72V93.27M175.05 79.12V82.68M175.05 89.74V93.30M175.60 79.06V82.63M175.60 89.77V93.35M176.15 78.94V82.53M176.15 89.92V93.51M176.70 78.57V82.17M176.70 90.30V93.90M177.25 78.51V82.12M177.25 90.40V94.01M177.80 78.94V82.57M177.80 90.05V93.68M178.35 78.53V82.18M178.35 90.46V94.10M178.90 78.35V82.00M178.90 90.67V94.33M179.45 78.17V81.84M179.45 90.88V94.55M180.00 78.31V81.99M180.00 90.80V94.48M180.55 78.29V81.99M180.55 90.85V94.55M181.10 78.16V84.81M181.10 88.49V94.73M181.65 78.13V84.79M181.65 88.51V94.84M182.20 78.11V84.76M182.20 88.54V94.99M182.75 77.95V84.74M182.75 88.56V95.03M183.30 78.02V84.71M183.30 88.59V95.12M183.85 77.78V84.69M183.85 88.61V95.26M184.40 77.81V84.66M184.40 88.64V95.26M184.95 77.68V84.64M184.95 88.66V95.59M185.50 77.74V84.61M185.50 88.69V95.51M186.05 77.83V84.59M186.05 88.71V95.87M186.60 77.35V84.56M186.60 88.74V95.72M187.15 77.57V84.54M187.15 88.76V95.92M187.70 77.65V84.51M187.70 88.79V96.23M188.25 77.14V84.49M188.25 88.81V96.10M188.80 77.66V84.46M188.80 88.84V96.28M189.35 77.52V84.44M189.35 88.86V96.60M189.90 76.95V84.41M189.90 88.89V96.07M190.45 77.26V84.39M190.45 88.91V96.64M191.00 77.07V84.36M191.00 88.94V96.07M191.55 76.71V84.33M191.55 88.97V96.82M192.10 76.70V84.31M192.10 88.99V96.83M192.65 76.84V84.28M192.65 89.02V96.37M193.20 76.44V84.26M193.20 89.04V97.53M193.75 76.87V84.23M193.75 89.07V96.54M194.30 77.17V84.21M194.30 89.09V97.69M194.85 76.14V84.18M194.85 89.12V97.60M195.40 76.74V84.16M195.40 89.14V97.25M195.95 76.25V84.13M195.95 89.17V96.76M196.50 77.01V84.11M196.50 89.19V96.58M197.05 76.13V84.11M197.05 89.19V97.66M197.60 76.07V84.11M197.60 89.19V98.00M198.15 75.51V84.11M198.15 89.19V98.58M198.70 75.50V84.11M198.70 89.19V98.33M199.25 76.58V84.11M199.25 89.19V98.27M199.80 75.61V84.11M199.80 89.19V97.81M200.35 75.64V84.11M200.35 89.19V97.94M200.90 75.22V84.11M200.90 89.19V99.33M201.45 76.05V84.11M201.45 89.19V99.11M202.00 75.77V84.11M202.00 89.19V97.95M202.55 76.52V84.11M202.55 89.19V97.46M203.10 74.51V84.11M203.10 89.19V98.63M203.65 75.00V84.11M203.65 89.19V97.80M204.20 74.65V84.11M204.20 89.19V98.67M204.75 74.85V84.11M204.75 89.19V99.03M205.30 76.76V84.11M205.30 89.19V97.91M205.85 74.28V84.11M205.85 89.19V98.93M206.40 73.99V84.11M206.40 89.19V98.88M206.95 75.35V84.11M206.95 89.19V100.34M207.50 74.81V84.11M207.50 89.19V98.78M208.05 75.14V84.11M208.05 89.19V100.96M208.60 72.90V84.11M208.60 89.19V100.27M209.15 74.58V84.11M209.15 89.19V99.04M209.70 74.59V84.11M209.70 89.19V98.35M210.25 74.24V84.11M210.25 89.19V101.92M210.80 73.91V84.11M210.80 89.19V101.88M211.35 74.12V84.11M211.35 89.19V98.73M211.90 71.96V84.11M211.90 89.19V102.52M212.45 72.71V84.11M212.45 89.19V102.60M213.00 71.35V84.11M213.00 89.19V99.75M213.55 72.09V84.11M213.55 89.19V100.47M214.10 73.18V84.11M214.10 89.19V101.62M214.65 68.50V84.11M214.65 89.19V104.14M215.20 69.05V84.11M215.20 89.19V102.87M215.75 70.11V84.11M215.75 89.19V103.76M216.30 70.87V84.11M216.30 89.19V104.50M216.85 66.25V84.11M216.85 89.19V103.32M217.40 65.72V84.11M217.40 89.19V106.86M217.95 66.04V84.11M217.95 89.19V106.36M218.50 69.00V84.11M218.50 89.19V106.18M219.05 66.50V84.11M219.05 89.19V103.66M219.60 67.49V84.11M219.60 89.19V107.19M220.15 67.87V84.11M220.15 89.19V107.20M220.70 63.28V84.11M220.70 89.19V107.63M221.25 60.92V84.11M221.25 89.19V106.52M221.80 65.81V84.11M221.80 89.19V108.66M222.35 64.18V84.11M222.35 89.19V109.55M222.90 62.65V84.11M222.90 89.19V110.61M223.45 57.40V84.11M223.45 89.19V108.95M224.00 58.14V84.11M224.00 89.19V111.50M224.55 62.72V84.11M224.55 89.19V110.46M225.10 58.82V84.11M225.10 89.19V110.84M225.65 55.26V84.11M225.65 89.19V110.55M226.20 58.02V84.11M226.20 89.19V111.81M226.75 56.67V84.11M226.75 89.19V112.77M227.30 56.43V84.11M227.30 89.19V110.60M227.85 55.63V84.11M227.85 89.19V115.05M228.40 57.37V84.11M228.40 89.19V117.15M228.95 50.80V84.11M228.95 89.19V114.59M229.50 49.44V84.11M229.50 89.19V118.46M230.05 50.30V84.11M230.05 89.19V115.53M230.60 47.80V84.11M230.60 89.19V117.00M231.15 54.33V84.11M231.15 89.19V118.59M231.70 50.31V84.11M231.70 89.19V112.44M232.25 48.78V84.11M232.25 89.19V119.13M232.80 47.10V84.11M232.80 89.19V118.88M233.35 43.73V84.11M233.35 89.19V119.74M233.90 43.37V84.11M233.90 89.19V119.59M234.45 43.54V84.11M234.45 89.19V117.20M235.00 45.67V84.11M235.00 89.19V116.15M235.55 49.86V84.11M235.55 89.19V115.54M236.10 50.99V84.11M236.10 89.19V117.00M236.65 44.87V84.11M236.65 89.19V123.34M237.20 43.11V84.11M237.20 89.19V125.37M237.75 42.02V84.11M237.75 89.19V127.11M238.30 43.19V84.11M238.30 89.19V125.73M238.85 45.01V84.11M238.85 89.19V122.57M239.40 39.10V84.11M239.40 89.19V120.17M239.95 35.12V84.11M239.95 89.19V128.70M240.50 41.00V84.11M240.50 89.19V125.46M241.05 41.10V84.11M241.05 89.19V124.45M241.60 34.23V84.11M241.60 89.19V124.48M242.15 31.04V84.11M242.15 89.19V133.24M242.70 35.27V84.11M242.70 89.19V132.82M243.25 33.11V84.11M243.25 89.19V126.81M243.80 38.81V84.11M243.80 89.19V129.30" stroke="#ff0000" stroke-width="0.75" fill="none"/>
<path d="M212.45 84.07V84.47M212.45 88.83V89.27M213.00 83.76V84.47M213.00 88.83V89.51M213.55 83.59V84.47M213.55 88.83V89.51M214.10 83.29V84.47M214.10 88.83V90.13M214.65 83.46V84.47M214.65 88.83V90.09M215.20 82.81V84.47M215.20 88.83V89.90M215.75 82.58V84.47M215.75 88.83V90.93M216.30 82.42V84.47M216.30 88.83V91.55M216.85 81.93V84.47M216.85 88.83V91.32M217.40 82.06V84.47M217.40 88.83V91.17M217.95 82.36V84.47M217.95 88.83V90.64M218.50 82.22V84.47M218.50 88.83V92.46M219.05 82.00V84.47M219.05 88.83V91.55M219.60 80.97V84.47M219.60 88.83V91.00M220.15 81.51V84.47M220.15 88.83V93.89M220.70 79.65V84.47M220.70 88.83V94.47M221.25 79.29V84.47M221.25 88.83V94.36M221.80 81.20V84.47M221.80 88.83V92.54M222.35 78.75V84.47M222.35 88.83V93.87M222.90 81.35V84.47M222.90 88.83V95.80M223.45 80.59V84.47M223.45 88.83V95.34M224.00 80.68V84.47M224.00 88.83V96.08M224.55 78.96V84.47M224.55 88.83V95.17M225.10 78.16V84.47M225.10 88.83V94.80M225.65 79.03V84.47M225.65 88.83V96.39M226.20 78.07V84.47M226.20 88.83V96.36M226.75 79.49V84.47M226.75 88.83V97.13M227.30 79.91V84.47M227.30 88.83V94.50M227.85 80.07V84.47M227.85 88.83V97.88M228.40 78.49V84.47M228.40 88.83V94.20M228.95 80.26V84.47M228.95 88.83V94.35M229.50 76.32V84.47M229.50 88.83V97.49M230.05 78.49V84.47M230.05 88.83V94.97M230.60 75.77V84.47M230.60 88.83V96.58M231.15 79.48V84.47M231.15 88.83V96.32M231.70 75.78V84.47M231.70 88.83V94.12M232.25 79.48V84.47M232.25 88.83V94.49M232.80 75.37V84.47M232.80 88.83V95.11M233.35 80.02V84.47M233.35 88.83V98.43M233.90 80.25V84.47M233.90 88.83V93.78M234.45 76.52V84.47M234.45 88.83V97.06M235.00 78.88V84.47M235.00 88.83V95.02M235.55 76.82V84.47M235.55 88.83V98.67M236.10 77.03V84.47M236.10 88.83V93.40M236.65 78.28V84.47M236.65 88.83V95.84M237.20 76.65V84.47M237.20 88.83V96.34M237.75 77.28V84.47M237.75 88.83V95.80M238.30 79.46V84.47M238.30 88.83V95.81M238.85 78.24V84.47M238.85 88.83V95.47M239.40 79.74V84.47M239.40 88.83V96.05M239.95 76.77V84.47M239.95 88.83V94.32M240.50 77.42V84.47M240.50 88.83V98.11M241.05 75.22V84.47M241.05 88.83V98.06M241.60 79.18V84.47M241.60 88.83V94.41M242.15 79.92V84.47M242.15 88.83V97.30M242.70 75.74V84.47M242.70 88.83V93.16M243.25 76.58V84.47M243.25 88.83V94.90M243.80 76.62V84.47M243.80 88.83V96.78" stroke="#6a5cff" stroke-opacity="0.6" stroke-width="0.7" fill="none"/>
<path d="M46.90 85.26V87.76M47.45 85.29V87.74M48.00 85.25V87.77M48.55 85.28V87.75M49.10 85.19V87.83M49.65 85.35V87.69M50.20 85.18V87.84M50.75 85.43V87.61M51.30 85.13V87.89M51.85 85.24V87.78M52.40 85.44V87.60M52.95 85.43V87.61M53.50 85.37V87.67M54.05 85.29V87.74M54.60 85.17V87.85M55.15 85.24V87.79M55.70 85.23V87.80M56.25 85.35V87.68M56.80 85.12V87.89M57.35 85.21V87.81M57.90 85.37V87.67M58.45 85.42V87.62M59.00 85.31V87.72M59.55 85.32V87.71M60.10 85.17V87.85M60.65 85.38V87.66M61.20 85.29V87.74M61.75 85.31V87.72M62.30 85.24V87.79M62.85 85.36V87.68M63.40 85.34V87.70M63.95 85.20V87.82M64.50 85.36V87.67M65.05 85.43V87.61M65.60 85.39V87.65M66.15 85.30V87.73M66.70 85.21V87.82M67.25 85.23V87.79M67.80 85.31V87.72M68.35 85.36V87.68M68.90 85.18V87.84M69.45 85.16V87.86M70.00 85.32V87.71M70.55 85.23V87.79M71.10 85.12V87.89M71.65 85.36V87.67M72.20 85.34V87.70M72.75 85.42V87.62M73.30 85.25V87.77M73.85 85.25V87.78M74.40 85.30V87.73M74.95 85.29V87.74M75.50 85.16V87.86M76.05 85.39V87.64M76.60 85.18V87.84M77.15 85.38V87.65M77.70 85.14V87.88M78.25 85.13V87.88M78.80 85.25V87.78M79.35 85.41V87.63M79.90 85.13V87.89M80.45 85.21V87.81M81.00 85.18V87.84M81.55 85.35V87.68M82.10 85.21V87.81M82.65 85.37V87.67M83.20 85.17V87.85M83.75 85.35V87.68M84.30 85.38V87.66M84.85 84.88V88.15M85.40 85.04V88.00M85.95 84.92V88.11M86.50 85.01V88.02M87.05 84.70V88.31M87.60 84.80V88.22M88.15 84.83V88.20M88.70 85.05V87.99M89.25 84.70V88.32M89.80 84.67V88.34M90.35 84.81V88.22M90.90 84.77V88.25M91.45 84.66V88.35M92.00 84.85V88.18M92.55 84.70V88.32M93.10 84.78V88.24M93.65 84.69V88.32M94.20 84.79V88.23M94.75 84.71V88.31M95.30 84.75V88.27M95.85 84.83V88.19M96.40 84.91V88.12M96.95 84.82V88.21M97.50 84.81V88.22M98.05 84.71V88.31M98.60 84.91V88.12M99.15 84.83V88.19M99.70 84.73V88.29M100.25 84.76V88.26M100.80 84.82V88.20M101.35 84.97V88.06M101.90 84.87V88.16M102.45 84.69V88.32M103.00 85.06V87.98M103.55 84.79V88.23M104.10 85.00V88.04M104.65 84.80V88.22M105.20 84.70V88.31M105.75 84.80V88.23M106.30 84.89V88.14M106.85 84.69V88.32M107.40 84.91V88.12M107.95 84.94V88.09M108.50 84.87V88.16M109.05 84.72V88.30M109.60 84.68V88.34M110.15 85.00V88.04M110.70 84.96V88.08M111.25 84.90V88.13M111.80 84.87V88.16M112.35 84.73V88.29M112.90 84.88V88.15M113.45 85.06V87.98M114.00 85.05V87.99M114.55 84.84V88.19M115.10 84.74V88.27M115.65 85.01V88.02M116.20 85.06V87.98M116.75 84.97V88.06M117.30 85.05V87.99M117.85 84.89V88.14M118.40 84.80V88.22M118.95 84.68V88.34M119.50 84.99V88.05M120.05 85.00V88.04M120.60 84.88V88.15M121.15 85.00V88.04M121.70 84.93V88.10M122.25 84.86V88.17M122.80 84.76V88.26M123.35 84.31V88.75M123.90 84.08V89.05M124.45 83.76V89.35M125.00 83.90V89.20M125.55 83.67V89.42M126.10 83.85V89.24M126.65 83.74V89.34M127.20 83.91V89.16M127.75 84.05V89.03M128.30 83.74V89.32M128.85 83.79V89.26M129.40 83.70V89.33M129.95 83.67V89.36M130.50 83.77V89.26M131.05 83.71V89.31M131.60 84.01V89.02M132.15 83.97V89.05M132.70 83.80V89.20M133.25 84.19V88.82M133.80 84.18V88.83M134.35 84.12V88.87M134.90 83.81V89.17M135.45 84.15V88.84M136.00 83.85V89.11M136.55 83.87V89.08M137.10 83.98V88.98M137.65 84.20V88.76M138.20 83.97V88.97M138.75 83.87V89.06M139.30 83.98V88.95M139.85 83.97V88.95M140.40 84.07V88.85M140.95 83.79V89.10M141.50 83.82V89.06M142.05 84.00V88.89M142.60 84.18V88.72M143.15 84.02V88.86M143.70 84.28V88.61M144.25 84.02V88.84M144.80 83.87V88.97M145.35 84.05V88.81M145.90 84.28V88.58M146.45 84.09V88.75M147.00 83.82V89.00M147.55 84.07V88.77M148.10 84.09V88.75M148.65 83.83V88.98M149.20 84.16V88.68M149.75 83.99V88.83M150.30 84.26V88.58M150.85 84.32V88.52M151.40 84.21V88.62M151.95 84.16V88.66M152.50 84.00V88.81M153.05 83.94V88.86M153.60 84.06V88.74M154.15 84.24V88.58M154.70 84.10V88.70M155.25 84.12V88.68M155.80 84.26V88.54M156.35 84.00V88.78M156.90 84.06V88.73M157.45 84.01V88.76M158.00 84.23V88.56M158.55 83.90V88.86M159.10 84.19V88.60M159.65 83.84V88.91M160.20 83.80V88.95M160.75 84.30V86.62M160.75 86.68V88.49M161.30 83.95V86.57M161.30 86.73V88.79M161.85 84.32V86.52M161.85 86.78V88.46M162.40 83.91V86.47M162.40 86.83V88.83M162.95 83.90V86.42M162.95 86.88V88.82M163.50 83.84V86.37M163.50 86.93V88.87M164.05 84.12V86.32M164.05 86.98V88.62M164.60 83.81V86.28M164.60 87.02V88.88M165.15 84.02V86.23M165.15 87.07V88.69" stroke="#f59a9c" stroke-width="0.9" fill="none"/>
<path d="M165.70 83.65V86.18M165.70 87.12V89.01M166.25 83.85V86.13M166.25 87.17V88.83M166.80 83.34V86.08M166.80 87.22V89.27M167.35 83.75V86.03M167.35 87.27V88.89M167.90 83.45V85.98M167.90 87.32V89.16M168.45 83.38V85.93M168.45 87.37V89.21M169.00 83.23V85.88M169.00 87.42V89.34M169.55 82.99V85.83M169.55 87.47V89.54M170.10 83.00V85.78M170.10 87.52V89.53M170.65 83.33V85.73M170.65 87.57V89.22M171.20 82.75V85.68M171.20 87.62V89.73M171.75 82.71V85.63M171.75 87.67V89.76M172.30 82.83V85.58M172.30 87.72V89.65M172.85 82.61V85.54M172.85 87.76V89.83" stroke="#f77070" stroke-width="0.9" fill="none"/>
<path d="M173.40 82.56V85.49M173.40 87.81V89.86M173.95 82.42V85.44M173.95 87.86V89.98M174.50 82.71V85.39M174.50 87.91V89.72M175.05 82.68V85.34M175.05 87.96V89.74M175.60 82.63V85.29M175.60 88.01V89.77M176.15 82.53V85.24M176.15 88.06V89.92M176.70 82.17V85.19M176.70 88.11V90.30M177.25 82.12V85.14M177.25 88.16V90.40M177.80 82.57V85.09M177.80 88.21V90.05M178.35 82.18V85.04M178.35 88.26V90.46M178.90 82.00V84.99M178.90 88.31V90.67M179.45 81.84V84.94M179.45 88.36V90.88M180.00 81.99V84.89M180.00 88.41V90.80M180.55 81.99V84.85M180.55 88.45V90.85" stroke="#fa4444" stroke-width="0.9" fill="none"/>
<path d="M47.50 86.29H160.42" stroke="#fbd4d8" stroke-width="1.0" stroke-dasharray="1 0.8" fill="none"/>
<rect x="46.50" y="14.00" width="198.10" height="145.30" fill="none" stroke="#333" stroke-width="1.2"/>
<path d="M46.50 159.29h3.00M46.50 141.13h3.00M46.50 122.97h3.00M46.50 104.81h3.00M46.50 86.65h3.00M46.50 68.49h3.00M46.50 50.33h3.00M46.50 32.17h3.00M46.50 14.01h3.00" stroke="#222" stroke-width="0.9" fill="none"/>
<path d="M46.50 150.21h1.80M46.50 132.05h1.80M46.50 113.89h1.80M46.50 95.73h1.80M46.50 77.57h1.80M46.50 59.41h1.80M46.50 41.25h1.80M46.50 23.09h1.80" stroke="#222" stroke-width="0.9" fill="none"/>
<path d="M46.50 159.30v-3.00M78.14 159.30v-3.00M109.79 159.30v-3.00M141.44 159.30v-3.00M173.08 159.30v-3.00M204.72 159.30v-3.00M236.37 159.30v-3.00" stroke="#222" stroke-width="0.9" fill="none"/>
<path d="M62.32 159.30v-1.80M93.97 159.30v-1.80M125.61 159.30v-1.80M157.26 159.30v-1.80M188.90 159.30v-1.80M220.55 159.30v-1.80" stroke="#222" stroke-width="0.9" fill="none"/>
<text x="43.00" y="160.79" style="font-family:'Liberation Sans',sans-serif;font-size:6px;font-weight:bold" text-anchor="end" fill="#333">-0.8</text>
<text x="43.00" y="142.63" style="font-family:'Liberation Sans',sans-serif;font-size:6px;font-weight:bold" text-anchor="end" fill="#333">-0.6</text>
<text x="43.00" y="124.47" style="font-family:'Liberation Sans',sans-serif;font-size:6px;font-weight:bold" text-anchor="end" fill="#333">-0.4</text>
<text x="43.00" y="106.31" style="font-family:'Liberation Sans',sans-serif;font-size:6px;font-weight:bold" text-anchor="end" fill="#333">-0.2</text>
<text x="43.00" y="88.15" style="font-family:'Liberation Sans',sans-serif;font-size:6px;font-weight:bold" text-anchor="end" fill="#333">0.0</text>
<text x="43.00" y="69.99" style="font-family:'Liberation Sans',sans-serif;font-size:6px;font-weight:bold" text-anchor="end" fill="#333">0.2</text>
<text x="43.00" y="51.83" style="font-family:'Liberation Sans',sans-serif;font-size:6px;font-weight:bold" text-anchor="end" fill="#333">0.4</text>
<text x="43.00" y="33.67" style="font-family:'Liberation Sans',sans-serif;font-size:6px;font-weight:bold" text-anchor="end" fill="#333">0.6</text>
<text x="43.00" y="15.51" style="font-family:'Liberation Sans',sans-serif;font-size:6px;font-weight:bold" text-anchor="end" fill="#333">0.8</text>
<text x="46.50" y="167.20" style="font-family:'Liberation Sans',sans-serif;font-size:6px;font-weight:bold" text-anchor="middle" fill="#333">0</text>
<text x="78.14" y="167.20" style="font-family:'Liberation Sans',sans-serif;font-size:6px;font-weight:bold" text-anchor="middle" fill="#333">50</text>
<text x="109.79" y="167.20" style="font-family:'Liberation Sans',sans-serif;font-size:6px;font-weight:bold" text-anchor="middle" fill="#333">100</text>
<text x="141.44" y="167.20" style="font-family:'Liberation Sans',sans-serif;font-size:6px;font-weight:bold" text-anchor="middle" fill="#333">150</text>
<text x="173.08" y="167.20" style="font-family:'Liberation Sans',sans-serif;font-size:6px;font-weight:bold" text-anchor="middle" fill="#333">200</text>
<text x="204.72" y="167.20" style="font-family:'Liberation Sans',sans-serif;font-size:6px;font-weight:bold" text-anchor="middle" fill="#333">250</text>
<text x="236.37" y="167.20" style="font-family:'Liberation Sans',sans-serif;font-size:6px;font-weight:bold" text-anchor="middle" fill="#333">300</text>
<path d="M49.3 19.3H65.5" stroke="#4050ff" stroke-width="0.9"/>
<path d="M49.3 28.7H65.5" stroke="#ff4848" stroke-width="0.9"/>
<text x="67.50" y="22.10" style="font-family:'Liberation Serif',serif;font-size:8px;font-weight:normal" text-anchor="start" fill="#333" textLength="6.20" lengthAdjust="spacingAndGlyphs">Li</text>
<text x="67.50" y="31.40" style="font-family:'Liberation Serif',serif;font-size:8px;font-weight:normal" text-anchor="start" fill="#333" textLength="28.60" lengthAdjust="spacingAndGlyphs">Li<tspan font-size="4.0" dy="2.4">0.98</tspan><tspan dy="-2.4">Sn</tspan><tspan font-size="4.0" dy="2.4">0.02</tspan></text>
<text x="51.20" y="141.20" style="font-family:'Liberation Sans',sans-serif;font-size:6.8px;font-weight:normal" text-anchor="start" fill="#333" textLength="31.20" lengthAdjust="spacingAndGlyphs">0.4mA cm<tspan font-size="4" dy="-2.2">-2</tspan></text>
<text x="88.40" y="141.20" style="font-family:'Liberation Sans',sans-serif;font-size:6.8px;font-weight:normal" text-anchor="start" fill="#333" textLength="31.20" lengthAdjust="spacingAndGlyphs">0.8mA cm<tspan font-size="4" dy="-2.2">-2</tspan></text>
<text x="129.70" y="141.20" style="font-family:'Liberation Sans',sans-serif;font-size:6.8px;font-weight:normal" text-anchor="start" fill="#333" textLength="31.20" lengthAdjust="spacingAndGlyphs">1.2mA cm<tspan font-size="4" dy="-2.2">-2</tspan></text>
<text x="167.60" y="141.20" style="font-family:'Liberation Sans',sans-serif;font-size:6.8px;font-weight:normal" text-anchor="start" fill="#333" textLength="31.20" lengthAdjust="spacingAndGlyphs">1.6mA cm<tspan font-size="4" dy="-2.2">-2</tspan></text>
<text x="205.00" y="141.20" style="font-family:'Liberation Sans',sans-serif;font-size:6.8px;font-weight:normal" text-anchor="start" fill="#333" textLength="25.50" lengthAdjust="spacingAndGlyphs">2mA cm<tspan font-size="4" dy="-2.2">-2</tspan></text>
<text x="122.80" y="175.00" style="font-family:'Liberation Serif',serif;font-size:10.8px;font-weight:bold" text-anchor="start" fill="#222" textLength="23.50" lengthAdjust="spacingAndGlyphs">Time</text>
<path d="M157.40 166.80Q153.98 171.15 157.40 175.50" stroke="#333" stroke-width="0.9" fill="none"/>
<text x="159.00" y="175.10" style="font-family:'Liberation Serif',serif;font-size:11.5px;font-weight:normal" text-anchor="start" fill="#222">h</text>
<path d="M167.20 166.80Q170.62 171.15 167.20 175.50" stroke="#333" stroke-width="0.9" fill="none"/>
<g transform="translate(21.4 119.0) rotate(-90)">
<text x="0.00" y="0.00" style="font-family:'Liberation Serif',serif;font-size:11.2px;font-weight:bold" text-anchor="start" fill="#222" textLength="36.00" lengthAdjust="spacingAndGlyphs">Voltage</text>
<path d="M45.20 -8.00Q41.78 -3.40 45.20 1.20" stroke="#333" stroke-width="0.9" fill="none"/>
<text x="48.30" y="0.00" style="font-family:'Liberation Serif',serif;font-size:11.5px;font-weight:normal" text-anchor="start" fill="#222">V</text>
<path d="M61.00 -8.00Q64.42 -3.40 61.00 1.20" stroke="#333" stroke-width="0.9" fill="none"/>
</g>
<text x="10.50" y="18.60" style="font-family:'Liberation Serif',serif;font-size:18.5px;font-weight:normal" text-anchor="start" fill="#111">(a)</text>
<path d="M283.50 124.39L283.58 123.99L283.68 123.44L283.80 122.78L283.94 122.06L284.09 121.32L284.27 120.60L284.46 119.94L284.67 119.38L284.90 118.88L285.16 118.39L285.44 117.93L285.74 117.50L286.05 117.13L286.36 116.83L286.68 116.62L287.00 116.52L287.31 116.55L287.61 116.71L287.92 116.97L288.23 117.30L288.56 117.66L288.91 118.03L289.30 118.38L289.72 118.66L290.20 118.92L290.71 119.19L291.26 119.45L291.83 119.71L292.41 119.95L293.01 120.16L293.61 120.33L294.20 120.45L294.79 120.51L295.41 120.53L296.04 120.51L296.67 120.45L297.29 120.37L297.90 120.28L298.50 120.19L299.06 120.09L299.62 119.99L300.19 119.85L300.76 119.70L301.31 119.54L301.82 119.38L302.27 119.23L302.66 119.11L302.95 119.02L302.95 53.55L302.98 54.27L303.03 55.24L303.08 56.40L303.14 57.68L303.20 59.01L303.28 60.31L303.35 61.52L303.44 62.57L303.52 63.48L303.61 64.34L303.71 65.16L303.81 65.92L303.92 66.65L304.04 67.33L304.17 67.97L304.31 68.58L304.46 69.14L304.62 69.65L304.79 70.13L304.96 70.56L305.15 70.95L305.37 71.32L305.60 71.66L305.87 71.98L306.17 72.29L306.51 72.58L306.89 72.85L307.28 73.09L307.67 73.29L308.06 73.44L308.44 73.54L308.79 73.59L309.11 73.57L309.43 73.50L309.74 73.38L310.04 73.22L310.33 73.01L310.60 72.76L310.87 72.47L311.12 72.16L311.35 71.78L311.56 71.33L311.76 70.84L311.95 70.31L312.13 69.76L312.30 69.22L312.49 68.70L312.68 68.22L312.87 67.83L313.06 67.53L313.26 67.27L313.45 67.00L313.65 66.68L313.84 66.25L314.04 65.67L314.23 64.89L314.42 63.86L314.61 62.59L314.80 61.16L314.98 59.63L315.18 58.07L315.37 56.55L315.57 55.13L315.79 53.88L316.01 52.76L316.24 51.68L316.48 50.66L316.72 49.70L316.97 48.81L317.22 47.99L317.48 47.27L317.73 46.64L317.99 46.12L318.24 45.72L318.50 45.41L318.77 45.17L319.03 44.99L319.30 44.85L319.58 44.73L319.87 44.61L320.19 44.51L320.54 44.47L320.90 44.46L321.27 44.48L321.62 44.52L321.94 44.56L322.20 44.59L322.40 44.61L322.40 119.02L322.41 117.87L322.42 116.26L322.43 114.33L322.45 112.23L322.47 110.11L322.50 108.10L322.54 106.35L322.59 105.00L322.66 104.04L322.73 103.33L322.80 102.81L322.89 102.44L322.98 102.17L323.10 101.94L323.22 101.69L323.37 101.39L323.54 101.05L323.74 100.74L323.95 100.45L324.17 100.19L324.41 99.95L324.65 99.74L324.89 99.55L325.12 99.39L325.36 99.24L325.60 99.11L325.84 99.01L326.08 98.93L326.33 98.88L326.58 98.87L326.82 98.90L327.07 98.99L327.31 99.12L327.55 99.30L327.80 99.52L328.04 99.77L328.28 100.07L328.53 100.39L328.77 100.75L329.01 101.13L329.26 101.52L329.50 101.91L329.75 102.32L330.00 102.77L330.24 103.27L330.49 103.85L330.72 104.53L330.96 105.32L331.18 106.29L331.40 107.43L331.62 108.71L331.83 110.04L332.05 111.38L332.26 112.66L332.48 113.83L332.71 114.82L332.94 115.66L333.17 116.41L333.41 117.09L333.64 117.69L333.89 118.23L334.14 118.70L334.39 119.11L334.65 119.46L334.91 119.74L335.15 119.94L335.39 120.07L335.64 120.13L335.91 120.15L336.22 120.15L336.57 120.12L336.99 120.09L337.51 120.04L338.14 119.93L338.84 119.78L339.56 119.62L340.27 119.45L340.92 119.29L341.46 119.15L341.85 119.06L341.85 53.55L341.88 54.29L341.93 55.30L341.98 56.51L342.04 57.83L342.10 59.21L342.18 60.56L342.25 61.81L342.34 62.89L342.42 63.84L342.51 64.73L342.61 65.57L342.71 66.37L342.82 67.11L342.94 67.82L343.07 68.49L343.21 69.11L343.36 69.70L343.52 70.23L343.69 70.72L343.86 71.16L344.05 71.57L344.27 71.95L344.50 72.31L344.77 72.64L345.07 72.96L345.41 73.26L345.79 73.54L346.18 73.78L346.57 73.99L346.96 74.15L347.34 74.26L347.69 74.30L348.01 74.29L348.33 74.22L348.64 74.10L348.94 73.94L349.23 73.73L349.50 73.48L349.77 73.19L350.02 72.87L350.25 72.50L350.46 72.06L350.66 71.57L350.85 71.04L351.03 70.50L351.20 69.96L351.39 69.43L351.57 68.94L351.77 68.52L351.96 68.19L352.16 67.89L352.35 67.58L352.55 67.21L352.74 66.74L352.94 66.11L353.13 65.29L353.32 64.20L353.51 62.89L353.70 61.40L353.88 59.82L354.08 58.20L354.27 56.63L354.47 55.16L354.69 53.87L354.91 52.70L355.14 51.59L355.38 50.53L355.62 49.53L355.87 48.60L356.12 47.76L356.38 47.01L356.63 46.35L356.89 45.82L357.14 45.40L357.40 45.08L357.67 44.83L357.93 44.65L358.20 44.50L358.48 44.38L358.77 44.25L359.09 44.15L359.44 44.10L359.80 44.10L360.17 44.12L360.52 44.16L360.84 44.20L361.10 44.24L361.30 44.25L361.30 117.95L361.31 116.84L361.32 115.28L361.33 113.43L361.35 111.40L361.37 109.35L361.40 107.42L361.44 105.73L361.49 104.42L361.56 103.50L361.63 102.81L361.70 102.32L361.79 101.96L361.88 101.70L362.00 101.47L362.12 101.24L362.27 100.95L362.44 100.62L362.64 100.32L362.85 100.04L363.07 99.79L363.31 99.56L363.55 99.35L363.79 99.17L364.02 99.02L364.26 98.88L364.50 98.75L364.74 98.65L364.98 98.57L365.23 98.52L365.48 98.51L365.72 98.55L365.97 98.63L366.21 98.77L366.45 98.97L366.70 99.22L366.94 99.50L367.18 99.80L367.43 100.13L367.67 100.45L367.91 100.78L368.16 101.07L368.40 101.34L368.65 101.60L368.90 101.89L369.14 102.21L369.39 102.60L369.62 103.08L369.86 103.67L370.08 104.42L370.30 105.33L370.52 106.34L370.73 107.41L370.95 108.48L371.16 109.51L371.38 110.45L371.61 111.24L371.84 111.91L372.07 112.51L372.31 113.05L372.54 113.53L372.79 113.96L373.04 114.33L373.29 114.66L373.55 114.94L373.81 115.16L374.05 115.32L374.29 115.42L374.54 115.48L374.81 115.50L375.12 115.49L375.47 115.47L375.89 115.44L376.41 115.39L377.04 115.30L377.74 115.17L378.46 115.03L379.17 114.88L379.82 114.75L380.36 114.63L380.75 114.55L380.75 57.13L380.78 57.71L380.83 58.49L380.88 59.42L380.94 60.45L381.00 61.52L381.08 62.56L381.15 63.53L381.24 64.37L381.32 65.11L381.41 65.80L381.51 66.45L381.61 67.07L381.72 67.65L381.84 68.20L381.97 68.72L382.11 69.20L382.26 69.66L382.42 70.07L382.59 70.45L382.76 70.79L382.95 71.11L383.17 71.41L383.40 71.68L383.67 71.94L383.97 72.19L384.31 72.43L384.69 72.65L385.08 72.85L385.47 73.01L385.86 73.13L386.24 73.21L386.58 73.23L386.91 73.20L387.23 73.12L387.54 73.00L387.84 72.84L388.13 72.64L388.40 72.40L388.67 72.12L388.92 71.80L389.15 71.41L389.36 70.95L389.56 70.44L389.75 69.89L389.93 69.33L390.10 68.79L390.29 68.30L390.48 67.86L390.67 67.54L390.86 67.34L391.06 67.19L391.25 67.05L391.45 66.86L391.64 66.58L391.84 66.14L392.03 65.50L392.22 64.61L392.41 63.50L392.60 62.23L392.78 60.86L392.98 59.46L393.17 58.10L393.37 56.83L393.59 55.71L393.81 54.72L394.04 53.76L394.28 52.85L394.52 51.99L394.77 51.20L395.02 50.48L395.28 49.83L395.53 49.27L395.79 48.81L396.04 48.45L396.30 48.18L396.57 47.97L396.83 47.81L397.10 47.69L397.38 47.58L397.67 47.47L397.99 47.38L398.34 47.34L398.70 47.34L399.07 47.36L399.42 47.39L399.74 47.43L400.00 47.46L400.20 47.47L400.20 116.16L400.21 115.21L400.22 113.89L400.23 112.31L400.25 110.58L400.27 108.84L400.30 107.19L400.34 105.75L400.39 104.64L400.46 103.85L400.53 103.27L400.60 102.84L400.69 102.54L400.78 102.32L400.90 102.12L401.02 101.93L401.17 101.68L401.34 101.40L401.54 101.14L401.75 100.91L401.97 100.69L402.21 100.49L402.45 100.32L402.69 100.17L402.92 100.03L403.16 99.91L403.40 99.80L403.64 99.70L403.88 99.63L404.13 99.59L404.38 99.58L404.62 99.62L404.87 99.70L405.11 99.85L405.35 100.07L405.60 100.34L405.84 100.63L406.08 100.95L406.33 101.27L406.57 101.57L406.81 101.85L407.06 102.07L407.30 102.25L407.55 102.40L407.80 102.57L408.04 102.76L408.29 103.01L408.52 103.34L408.76 103.78L408.98 104.37L409.20 105.09L409.42 105.91L409.63 106.77L409.85 107.65L410.06 108.49L410.28 109.25L410.51 109.90L410.74 110.44L410.97 110.93L411.21 111.36L411.44 111.75L411.69 112.09L411.94 112.40L412.19 112.66L412.45 112.89L412.71 113.07L412.95 113.20L413.19 113.29L413.44 113.33L413.71 113.35L414.02 113.34L414.37 113.32L414.79 113.30L415.31 113.25L415.94 113.16L416.64 113.04L417.36 112.91L418.07 112.77L418.72 112.65L419.26 112.54L419.65 112.47L419.65 59.28L419.68 59.78L419.73 60.45L419.78 61.26L419.84 62.15L419.90 63.08L419.98 63.99L420.05 64.83L420.14 65.56L420.22 66.19L420.31 66.79L420.41 67.36L420.51 67.89L420.62 68.40L420.74 68.87L420.87 69.32L421.01 69.74L421.16 70.13L421.32 70.49L421.49 70.82L421.66 71.12L421.85 71.39L422.07 71.65L422.30 71.89L422.57 72.11L422.87 72.33L423.21 72.54L423.59 72.74L423.98 72.91L424.37 73.05L424.76 73.16L425.14 73.22L425.49 73.23L425.81 73.19L426.13 73.11L426.44 72.99L426.74 72.83L427.03 72.63L427.30 72.39L427.57 72.11L427.82 71.80L428.05 71.41L428.26 70.93L428.46 70.38L428.65 69.81L428.83 69.25L429.00 68.71L429.19 68.24L429.38 67.86L429.57 67.63L429.76 67.54L429.96 67.53L430.15 67.54L430.35 67.52L430.54 67.41L430.74 67.15L430.93 66.68L431.12 65.97L431.31 65.04L431.50 63.97L431.68 62.80L431.88 61.60L432.07 60.43L432.27 59.34L432.49 58.39L432.71 57.54L432.94 56.73L433.18 55.96L433.42 55.24L433.67 54.57L433.92 53.95L434.18 53.41L434.43 52.93L434.69 52.54L434.94 52.24L435.20 52.01L435.47 51.83L435.73 51.69L436.00 51.59L436.28 51.50L436.57 51.41L436.89 51.33L437.24 51.30L437.60 51.29L437.97 51.31L438.32 51.34L438.64 51.37L438.90 51.40L439.10 51.41L439.10 115.09L439.11 114.18L439.12 112.91L439.13 111.40L439.15 109.75L439.17 108.08L439.20 106.50L439.24 105.13L439.29 104.07L439.36 103.31L439.43 102.75L439.50 102.35L439.59 102.06L439.68 101.84L439.80 101.66L439.92 101.47L440.07 101.23L440.24 100.97L440.44 100.72L440.65 100.50L440.87 100.29L441.11 100.10L441.35 99.93L441.59 99.79L441.82 99.66L442.06 99.54L442.30 99.43L442.54 99.34L442.78 99.27L443.03 99.23L443.28 99.22L443.52 99.26L443.77 99.34L444.01 99.50L444.25 99.73L444.50 100.01L444.74 100.32L444.98 100.65L445.23 100.96L445.47 101.25L445.71 101.49L445.96 101.66L446.20 101.76L446.45 101.84L446.70 101.90L446.94 101.99L447.19 102.13L447.42 102.35L447.66 102.67L447.88 103.13L448.10 103.71L448.32 104.38L448.53 105.09L448.75 105.81L448.96 106.50L449.18 107.13L449.41 107.66L449.64 108.10L449.87 108.50L450.11 108.86L450.34 109.17L450.59 109.45L450.84 109.70L451.09 109.92L451.35 110.10L451.61 110.25L451.85 110.36L452.09 110.43L452.34 110.47L452.61 110.48L452.92 110.48L453.27 110.46L453.69 110.43L454.21 110.39L454.84 110.31L455.54 110.20L456.26 110.09L456.97 109.96L457.62 109.85L458.16 109.76L458.55 109.69L458.55 61.07L458.58 61.50L458.63 62.09L458.68 62.80L458.74 63.57L458.80 64.38L458.88 65.17L458.95 65.90L459.04 66.54L459.12 67.09L459.21 67.62L459.31 68.11L459.41 68.58L459.52 69.02L459.64 69.43L459.77 69.82L459.91 70.19L460.06 70.53L460.22 70.84L460.39 71.13L460.56 71.39L460.75 71.63L460.97 71.85L461.20 72.06L461.47 72.26L461.77 72.45L462.11 72.63L462.49 72.81L462.88 72.96L463.27 73.09L463.66 73.18L464.04 73.23L464.38 73.23L464.71 73.18L465.03 73.10L465.34 72.98L465.64 72.82L465.93 72.62L466.20 72.39L466.47 72.11L466.72 71.80L466.95 71.40L467.16 70.89L467.36 70.32L467.55 69.73L467.73 69.14L467.90 68.61L468.09 68.17L468.27 67.86L468.47 67.74L468.66 67.78L468.86 67.94L469.05 68.13L469.25 68.31L469.44 68.40L469.64 68.34L469.83 68.08L470.02 67.57L470.21 66.87L470.40 66.03L470.58 65.10L470.78 64.13L470.97 63.18L471.17 62.31L471.39 61.55L471.61 60.89L471.84 60.25L472.08 59.64L472.32 59.07L472.57 58.54L472.82 58.06L473.08 57.63L473.33 57.26L473.59 56.95L473.84 56.71L474.10 56.53L474.37 56.39L474.63 56.28L474.90 56.20L475.18 56.13L475.47 56.06L475.79 56.00L476.14 55.97L476.50 55.97L476.87 55.98L477.22 56.00L477.54 56.03L477.80 56.05L478.00 56.06" stroke="#0000ff" stroke-width="1.3" fill="none" stroke-linejoin="round"/>
<path d="M283.50 107.57L283.89 107.28L284.41 106.88L285.04 106.41L285.76 105.88L286.55 105.30L287.39 104.71L288.28 104.02L289.24 103.20L290.27 102.34L291.37 101.53L292.55 100.86L293.81 100.42L295.28 100.26L296.99 100.31L298.78 100.51L300.48 100.76L301.92 101.00L302.95 101.13L302.95 69.29L303.26 69.62L303.68 70.09L304.19 70.64L304.74 71.20L305.31 71.73L305.87 72.16L306.42 72.52L307.00 72.88L307.59 73.21L308.19 73.45L308.79 73.59L309.37 73.59L309.86 73.39L310.25 73.02L310.63 72.54L311.10 72.01L311.75 71.50L312.68 71.08L314.04 70.72L315.80 70.37L317.74 70.03L319.64 69.73L321.27 69.48L322.40 69.29L322.40 102.56L322.72 102.11L323.16 101.45L323.68 100.69L324.24 99.90L324.80 99.19L325.32 98.63L325.77 98.21L326.18 97.85L326.59 97.56L327.05 97.34L327.58 97.22L328.24 97.20L329.02 97.33L329.89 97.62L330.85 98.00L331.87 98.40L332.95 98.75L334.07 98.99L335.34 99.09L336.81 99.12L338.32 99.10L339.76 99.05L340.98 99.01L341.85 98.99L341.85 70.37L342.26 70.73L342.82 71.25L343.49 71.86L344.23 72.50L344.99 73.10L345.74 73.59L346.48 74.05L347.25 74.57L348.04 75.04L348.86 75.39L349.71 75.53L350.60 75.38L351.58 74.82L352.65 73.90L353.75 72.78L354.82 71.60L355.80 70.51L356.63 69.65L357.29 69.00L357.81 68.43L358.25 67.95L358.63 67.57L358.98 67.30L359.36 67.15L359.75 67.17L360.13 67.39L360.50 67.71L360.82 68.06L361.10 68.38L361.30 68.58L361.30 101.13L361.62 100.81L362.06 100.34L362.58 99.79L363.14 99.23L363.70 98.70L364.22 98.27L364.67 97.91L365.08 97.56L365.49 97.24L365.95 97.00L366.48 96.86L367.13 96.84L367.92 97.01L368.79 97.34L369.75 97.78L370.77 98.24L371.85 98.67L372.97 98.99L374.24 99.20L375.71 99.36L377.22 99.48L378.66 99.57L379.88 99.64L380.75 99.70L380.75 72.87L381.17 73.08L381.76 73.39L382.45 73.74L383.20 74.10L383.95 74.42L384.64 74.66L385.27 74.83L385.86 74.98L386.46 75.08L387.09 75.14L387.77 75.12L388.53 75.02L389.39 74.80L390.33 74.46L391.33 74.06L392.35 73.63L393.37 73.22L394.37 72.87L395.41 72.57L396.53 72.29L397.65 72.02L398.69 71.78L399.57 71.59L400.20 71.44L400.20 100.42L400.62 100.13L401.21 99.72L401.90 99.23L402.65 98.73L403.40 98.28L404.09 97.91L404.72 97.62L405.31 97.34L405.91 97.11L406.54 96.93L407.22 96.84L407.98 96.84L408.84 96.98L409.78 97.25L410.78 97.60L411.80 97.98L412.82 98.34L413.81 98.63L414.86 98.86L415.98 99.08L417.10 99.28L418.14 99.45L419.02 99.59L419.65 99.70L419.65 72.87L420.07 73.08L420.66 73.39L421.35 73.74L422.10 74.10L422.85 74.42L423.54 74.66L424.17 74.84L424.76 74.99L425.36 75.11L425.99 75.16L426.67 75.14L427.43 75.02L428.29 74.75L429.23 74.34L430.23 73.85L431.25 73.35L432.27 72.88L433.26 72.51L434.31 72.24L435.43 72.01L436.55 71.82L437.59 71.67L438.47 71.54L439.10 71.44L439.10 100.06L439.63 99.78L440.36 99.37L441.23 98.90L442.16 98.40L443.10 97.94L443.96 97.56L444.76 97.21L445.55 96.87L446.33 96.55L447.13 96.30L447.96 96.14L448.82 96.12L449.76 96.29L450.77 96.63L451.80 97.06L452.82 97.53L453.79 97.95L454.66 98.27L455.47 98.48L456.24 98.64L456.97 98.76L457.61 98.85L458.15 98.93L458.55 98.99L458.55 72.87L458.97 73.08L459.56 73.39L460.25 73.74L461.00 74.10L461.75 74.42L462.44 74.66L463.07 74.81L463.66 74.92L464.26 75.00L464.89 75.03L465.57 75.04L466.33 75.02L467.19 74.96L468.13 74.85L469.13 74.70L470.15 74.55L471.17 74.41L472.16 74.30L473.21 74.22L474.33 74.14L475.45 74.08L476.49 74.02L477.37 73.98L478.00 73.94" stroke="#ff0000" stroke-width="1.3" fill="none" stroke-linejoin="round"/>
<rect x="283.50" y="14.20" width="194.50" height="143.10" fill="none" stroke="#333" stroke-width="1.2"/>
<path d="M283.50 157.30h3.00M283.50 85.75h3.00M283.50 14.20h3.00" stroke="#222" stroke-width="0.9" fill="none"/>
<path d="M283.50 121.53h1.80M283.50 49.98h1.80" stroke="#222" stroke-width="0.9" fill="none"/>
<path d="M283.50 157.30v-3.00M322.40 157.30v-3.00M361.30 157.30v-3.00M400.20 157.30v-3.00M439.10 157.30v-3.00M478.00 157.30v-3.00" stroke="#222" stroke-width="0.9" fill="none"/>
<path d="M302.95 157.30v-1.80M341.85 157.30v-1.80M380.75 157.30v-1.80M419.65 157.30v-1.80M458.55 157.30v-1.80" stroke="#222" stroke-width="0.9" fill="none"/>
<text x="281.00" y="159.80" style="font-family:'Liberation Sans',sans-serif;font-size:7px;font-weight:normal" text-anchor="end" fill="#222">-0.2</text>
<text x="281.00" y="88.25" style="font-family:'Liberation Sans',sans-serif;font-size:7px;font-weight:normal" text-anchor="end" fill="#222">0.0</text>
<text x="281.00" y="16.70" style="font-family:'Liberation Sans',sans-serif;font-size:7px;font-weight:normal" text-anchor="end" fill="#222">0.2</text>
<text x="283.50" y="166.30" style="font-family:'Liberation Sans',sans-serif;font-size:7px;font-weight:normal" text-anchor="middle" fill="#222">0</text>
<text x="322.40" y="166.30" style="font-family:'Liberation Sans',sans-serif;font-size:7px;font-weight:normal" text-anchor="middle" fill="#222">2</text>
<text x="361.30" y="166.30" style="font-family:'Liberation Sans',sans-serif;font-size:7px;font-weight:normal" text-anchor="middle" fill="#222">4</text>
<text x="400.20" y="166.30" style="font-family:'Liberation Sans',sans-serif;font-size:7px;font-weight:normal" text-anchor="middle" fill="#222">6</text>
<text x="439.10" y="166.30" style="font-family:'Liberation Sans',sans-serif;font-size:7px;font-weight:normal" text-anchor="middle" fill="#222">8</text>
<text x="478.00" y="166.30" style="font-family:'Liberation Sans',sans-serif;font-size:7px;font-weight:normal" text-anchor="middle" fill="#222">10</text>
<path d="M287.3 18.3H302.6" stroke="#2020ff" stroke-width="1.3"/>
<path d="M287.3 27.8H302.6" stroke="#ff2020" stroke-width="1.3"/>
<text x="304.20" y="22.20" style="font-family:'Liberation Serif',serif;font-size:8.5px;font-weight:normal" text-anchor="start" fill="#222">Li</text>
<text x="304.00" y="31.40" style="font-family:'Liberation Serif',serif;font-size:8.5px;font-weight:normal" text-anchor="start" fill="#222" textLength="29.30" lengthAdjust="spacingAndGlyphs">Li<tspan font-size="4.2" dy="2.5">0.98</tspan><tspan dy="-2.5">Sn</tspan><tspan font-size="4.2" dy="2.5">0.02</tspan></text>
<text x="355.30" y="179.70" style="font-family:'Liberation Serif',serif;font-size:10.8px;font-weight:bold" text-anchor="start" fill="#222" textLength="23.60" lengthAdjust="spacingAndGlyphs">Time</text>
<path d="M387.00 171.00Q383.58 175.50 387.00 180.00" stroke="#333" stroke-width="0.9" fill="none"/>
<text x="388.90" y="179.70" style="font-family:'Liberation Serif',serif;font-size:11.8px;font-weight:normal" text-anchor="start" fill="#222">h</text>
<path d="M399.80 171.00Q403.22 175.50 399.80 180.00" stroke="#333" stroke-width="0.9" fill="none"/>
<g transform="translate(261.8 119.0) rotate(-90)">
<text x="0.00" y="0.00" style="font-family:'Liberation Serif',serif;font-size:11.2px;font-weight:bold" text-anchor="start" fill="#222" textLength="36.00" lengthAdjust="spacingAndGlyphs">Voltage</text>
<path d="M44.40 -8.00Q40.98 -3.40 44.40 1.20" stroke="#333" stroke-width="0.9" fill="none"/>
<text x="47.60" y="0.00" style="font-family:'Liberation Serif',serif;font-size:11.5px;font-weight:normal" text-anchor="start" fill="#222">V</text>
<path d="M61.50 -8.00Q64.92 -3.40 61.50 1.20" stroke="#333" stroke-width="0.9" fill="none"/>
</g>
<text x="249.00" y="19.50" style="font-family:'Liberation Serif',serif;font-size:18.5px;font-weight:normal" text-anchor="start" fill="#111">(b)</text>
<path d="M114.90 250.75V282.94M115.45 250.44V283.34M117.10 249.53V284.55M118.75 246.80V286.77M119.30 245.88V288.00M119.85 245.15V289.23M120.40 244.52V290.47M120.95 243.88V291.70M121.50 243.25V292.93M122.05 242.62V294.48M123.15 241.36V298.34M124.80 239.09V304.14M125.90 235.90V308.00M128.10 229.53V313.20M129.75 226.64V313.20M130.30 226.16V313.20M131.40 227.71V313.20M133.05 230.66V299.12M133.60 233.82V293.90M134.15 233.82V290.88M137.45 233.82V288.21M138.00 233.82V288.21M139.10 233.82V288.21M140.20 233.82V288.21M140.75 233.82V288.21M141.85 233.82V288.21M142.40 233.82V288.21M144.05 233.82V288.21M145.70 233.82V288.21M149.00 239.70V288.21M150.65 239.70V288.21M151.20 239.70V288.21M152.30 239.70V288.21M152.85 239.70V288.21M153.40 239.70V288.21M156.70 239.70V288.21M157.25 239.70V288.21M157.80 239.70V288.21M161.65 239.70V288.21M167.15 219.61V309.28M167.70 219.61V309.28M168.80 219.61V309.28M169.35 219.61V309.28M169.90 219.61V309.28M170.45 219.61V309.28M171.55 219.61V309.28M172.10 219.61V309.28M173.20 219.61V309.28M175.40 219.61V309.28M175.95 219.61V309.28M177.05 219.61V309.28M177.60 219.61V309.28M178.15 219.61V309.28M180.35 240.68V283.31M180.90 240.68V283.31M181.45 240.68V283.31M183.65 240.68V283.31M184.20 240.68V283.31M185.85 240.68V283.31M188.05 240.68V283.31M188.60 240.68V283.31M190.80 205.40V291.06M192.45 205.40V290.90M194.10 205.40V290.74M195.20 205.40V290.63M197.40 234.66V290.42M199.05 234.50V290.26M199.60 234.44V290.20M200.15 234.39V290.17M200.70 234.34V290.17M201.25 234.28V290.17M201.80 234.23V290.17M202.35 234.17V290.17M203.45 234.07V290.17M204.00 234.01V290.17M204.55 233.96V290.17M206.20 233.80V290.17M206.75 233.74V290.17M208.40 233.58V290.17M209.50 233.47V290.17M212.25 233.20V290.17M212.80 233.15V290.17M214.45 232.99V290.17M215.55 232.88V290.17M216.65 232.77V290.17M217.75 232.66V290.17M218.30 232.61V290.17M218.85 232.56V290.17M220.50 232.40V290.17M221.60 232.29V290.17M223.25 232.13V290.17M224.35 232.02V290.17M224.90 231.96V290.17M225.45 231.91V290.17M226.55 231.80V290.17M227.10 231.75V290.17M227.65 231.69V290.17M228.75 231.59V290.17M230.40 231.42V290.17M230.95 231.37V290.17M231.50 231.32V290.17M232.05 231.26V290.17M234.25 231.05V290.17M235.35 230.94V290.17M235.90 230.89V290.17M238.65 230.62V290.17M240.85 230.40V309.28M241.40 230.35V309.28M241.95 230.29V309.28M242.50 230.24V309.28M243.05 230.18V309.28M243.60 230.13V309.28" stroke="#7070ff" stroke-width="0.7" fill="none"/>
<path d="M47.80 258.29V269.25M48.35 258.58V269.19M48.90 258.91V269.09M49.45 259.50V268.66M50.00 259.25V268.90M50.55 259.34V268.82M51.10 259.29V268.87M51.65 259.48V268.68M52.20 259.45V268.71M52.75 259.33V268.83M53.30 259.44V268.73M53.85 259.32V268.83M54.40 259.53V268.63M54.95 259.50V268.66M55.50 259.20V268.95M56.05 259.34V268.82M56.60 259.29V268.86M57.15 259.19V268.96M57.70 259.37V268.79M58.25 259.52V268.65M58.80 259.16V268.99M59.35 259.26V268.90M59.90 259.22V268.93M60.45 259.24V268.91M61.00 259.07V269.07M61.55 259.37V268.79M62.10 259.17V268.98M62.65 259.36V268.79M63.20 259.26V268.89M63.75 259.22V268.93M64.30 259.39V268.77M64.85 259.50V268.66M65.40 259.31V268.84M65.95 259.19V268.96M66.50 259.26V268.90M67.05 259.33V268.83M67.60 259.23V268.92M68.15 259.46V268.71M68.70 259.46V268.71M69.25 259.39V268.77M69.80 259.15V269.00M70.35 259.45V268.71M70.90 259.49V268.68M71.45 259.50V268.67M72.00 259.53V268.64M72.55 259.41V268.75M73.10 259.26V268.89M73.65 259.14V269.00M74.20 259.38V268.78M74.75 259.36V268.79M75.30 259.40V268.76M75.85 259.40V268.76M76.40 259.16V268.98M76.95 259.28V268.88M77.50 259.42V268.74M78.05 259.49V268.67M78.60 259.16V268.99M79.15 259.20V268.95M79.70 259.14V269.01M80.25 259.43V268.73M80.80 259.28V268.88M81.35 259.09V269.05M81.90 259.25V268.90M82.45 259.08V269.06M83.00 259.46V268.70M83.55 259.07V269.08M84.10 259.52V268.65M84.65 259.34V268.82M85.20 259.53V268.63M85.75 259.15V269.00M86.30 259.21V268.94M86.85 259.07V269.08M87.40 259.15V269.00M87.95 259.08V269.06M88.50 259.28V268.87M89.05 259.06V269.08M89.60 259.18V268.97M90.15 259.38V268.78M90.70 259.07V269.08M91.25 259.36V268.80M91.80 259.45V268.71M92.35 259.51V268.66M92.90 259.32V268.84M93.45 259.45V268.71M94.00 259.09V269.06M94.55 259.08V269.06M95.10 259.44V268.72M95.65 259.49V268.67M96.20 259.29V268.87M96.75 259.46V268.70M97.30 259.28V268.88M97.85 259.15V269.00M98.40 259.42V268.74M98.95 259.34V268.82M99.50 259.10V269.04M100.05 259.33V268.83M100.60 259.38V268.78M101.15 259.11V269.04M101.70 259.15V269.00M102.25 259.11V269.04M102.80 259.21V268.94M103.35 259.34V268.81M103.90 259.21V268.94M104.45 259.14V269.01M105.00 259.23V268.92M105.55 259.43V268.73M106.10 259.40V268.76M106.65 259.34V268.81M107.20 259.17V268.98M107.75 259.27V268.88M108.30 259.28V268.88M108.85 259.14V269.01M109.40 259.49V268.67M109.95 259.24V268.92M110.50 259.38V268.78M111.05 259.27V268.88M111.60 259.14V269.01M112.15 259.42V268.74M112.70 253.20V273.93M113.25 253.96V276.37M113.80 254.08V278.18M114.35 256.29V277.97M114.90 255.37V281.94M115.45 252.20V277.01M116.00 253.39V276.57M116.55 252.82V281.67M117.10 252.13V280.69M117.65 249.29V277.37M118.20 248.63V281.25M118.75 249.08V283.20M119.30 250.86V281.81M119.85 245.46V282.64M120.40 249.09V288.54M120.95 247.51V283.51M121.50 250.88V283.93M122.05 243.90V288.45M122.60 246.76V285.08M123.15 246.45V296.41M123.70 242.12V289.42M124.25 243.62V287.65M124.80 246.37V293.95M125.35 239.23V290.84M125.90 242.74V302.39M126.45 245.33V308.38M127.00 243.17V311.41M127.55 241.94V293.97M128.10 241.47V307.95M128.65 232.55V304.77M129.20 230.13V305.42M129.75 236.76V296.23M130.30 228.34V297.64M130.85 237.12V305.74M131.40 229.77V302.15M131.95 233.46V304.92M132.50 238.87V302.51M133.05 230.90V286.95M133.60 236.57V291.89M134.15 234.66V283.25M134.70 236.68V288.80M135.25 235.60V287.97M135.80 236.33V282.41M136.35 234.97V287.60M136.90 240.98V285.96M137.45 235.70V285.89M138.00 240.01V282.62M138.55 235.03V287.22M139.10 236.49V286.95M139.65 235.92V287.61M140.20 236.26V288.16M140.75 235.36V287.71M141.30 248.74V281.68M141.85 234.76V282.61M142.40 237.23V287.80M142.95 234.44V285.40M143.50 236.03V288.19M144.05 246.61V283.23M144.60 246.87V285.96M145.15 233.89V287.75M145.70 235.12V282.32M146.25 244.71V287.04M146.80 234.27V286.59M147.35 234.33V287.74M147.90 237.82V288.15M148.45 240.91V281.22M149.00 239.87V284.26M149.55 240.13V285.35M150.10 240.90V286.30M150.65 244.42V286.40M151.20 247.45V287.13M151.75 240.70V283.66M152.30 240.77V287.63M152.85 239.88V287.58M153.40 248.64V286.84M153.95 247.99V286.71M154.50 239.99V276.43M155.05 245.16V287.57M155.60 239.79V282.29M156.15 241.42V287.06M156.70 240.63V288.08M157.25 246.07V286.62M157.80 241.33V286.00M158.35 239.88V282.59M158.90 241.87V286.36M159.45 239.98V286.03M160.00 241.52V285.55M160.55 242.31V287.56M161.10 248.62V287.22M161.65 241.23V287.71M162.20 241.87V286.85M162.75 241.90V286.61M163.30 247.48V282.16M163.85 243.12V290.02M164.40 244.26V301.94M164.95 240.58V306.92M165.50 226.77V305.81M166.05 223.21V308.73M166.60 219.65V308.19M167.15 221.74V307.53M167.70 239.84V306.52M168.25 219.78V289.99M168.80 223.00V306.10M169.35 223.28V308.88M169.90 223.12V286.79M170.45 241.44V306.24M171.00 223.71V291.61M171.55 223.65V305.15M172.10 223.68V296.27M172.65 220.45V304.98M173.20 221.81V308.60M173.75 222.67V304.92M174.30 232.12V308.54M174.85 233.21V308.35M175.40 236.29V297.97M175.95 237.91V308.85M176.50 234.83V307.89M177.05 223.65V305.78M177.60 223.67V305.01M178.15 223.65V303.00M178.70 247.55V287.83M179.25 250.00V306.31M179.80 250.97V300.07M180.35 250.95V273.94M180.90 242.48V282.08M181.45 246.97V282.77M182.00 245.26V277.20M182.55 241.95V283.21M183.10 241.25V281.10M183.65 240.98V282.48M184.20 246.60V281.72M184.75 245.07V281.83M185.30 241.79V282.01M185.85 242.25V283.20M186.40 242.39V282.33M186.95 241.34V282.49M187.50 242.61V282.17M188.05 242.07V275.12M188.60 241.41V282.80M189.15 207.62V282.23M189.70 225.65V278.35M190.25 209.04V285.85M190.80 208.80V289.00M191.35 231.47V288.38M191.90 210.82V288.23M192.45 218.25V288.96M193.00 207.53V289.15M193.55 209.63V288.76M194.10 206.95V284.54M194.65 232.92V290.38M195.20 206.42V285.06M195.75 209.26V282.80M196.30 247.02V288.41M196.85 234.72V289.92M197.40 235.87V288.78M197.95 243.39V289.44M198.50 236.20V284.09M199.05 236.27V289.42M199.60 236.76V287.73M200.15 236.01V288.18M200.70 236.54V289.56M201.25 235.93V283.75M201.80 241.08V285.93M202.35 234.80V289.91M202.90 241.69V289.73M203.45 236.52V278.70M204.00 236.98V287.69M204.55 236.93V288.32M205.10 235.93V289.99M205.65 234.88V288.22M206.20 236.00V287.69M206.75 239.59V290.16M207.30 245.01V281.88M207.85 235.49V289.60M208.40 235.39V287.74M208.95 235.67V289.92M209.50 244.77V288.64M210.05 235.65V277.72M210.60 234.10V288.90M211.15 235.96V277.38M211.70 237.79V281.03M212.25 234.49V289.79M212.80 236.04V289.87M213.35 233.14V278.80M213.90 234.27V288.29M214.45 234.39V289.53M215.00 242.53V288.39M215.55 237.22V289.23M216.10 241.79V290.11M216.65 233.36V288.30M217.20 234.45V288.95M217.75 235.66V287.88M218.30 233.08V289.68M218.85 237.64V283.16M219.40 234.29V290.09M219.95 235.22V288.11M220.50 233.84V289.94M221.05 235.01V287.92M221.60 234.70V286.04M222.15 237.86V289.19M222.70 234.32V288.17M223.25 234.72V287.64M223.80 233.29V282.74M224.35 235.00V285.14M224.90 232.99V278.89M225.45 233.38V278.71M226.00 245.73V289.61M226.55 233.56V289.24M227.10 231.98V288.60M227.65 232.94V278.38M228.20 234.36V287.99M228.75 231.67V288.25M229.30 234.01V289.42M229.85 231.98V288.34M230.40 232.19V289.27M230.95 232.36V278.31M231.50 232.72V290.04M232.05 237.13V289.69M232.60 240.12V285.43M233.15 244.32V288.02M233.70 232.78V287.64M234.25 232.42V289.87M234.80 231.66V289.72M235.35 233.77V288.34M235.90 237.58V285.11M236.45 244.31V288.79M237.00 233.93V277.33M237.55 230.86V282.01M238.10 233.15V290.15M238.65 240.18V287.84M239.20 236.40V288.73M239.75 232.81V288.01M240.30 232.07V304.95M240.85 233.24V308.77M241.40 232.11V297.85M241.95 232.49V291.65M242.50 230.91V298.65M243.05 234.79V305.66M243.60 233.04V307.90M244.15 231.14V304.28M244.70 233.25V305.64M245.25 245.33V306.67M245.80 242.49V306.63" stroke="#0000ff" stroke-width="0.7" fill="none"/>
<path d="M119.71 242.15V249.09M124.59 234.80V244.60M130.63 187.76V234.15M131.33 187.76V234.93M132.50 187.76V236.24M145.98 187.76V239.90M165.79 187.76V228.53M195.50 201.97V217.16M236.66 200.50V237.49M191.09 202.95V217.16M166.91 200.50V228.53M121.80 306.83V287.72M134.68 340.64V285.09M135.19 340.64V284.66M136.22 340.64V283.80M137.15 340.64V283.41M149.98 295.07V283.41M166.44 340.64V300.26M179.46 340.64V300.26M189.92 298.50V285.76M194.81 307.81V285.38M213.68 304.38V284.98M237.12 312.71V284.98M145.05 297.03V283.41M124.12 305.85V294.25" stroke="#6060ff" stroke-width="1.0" fill="none"/>
<path d="M182.34 236.24V264.20M183.12 230.14V264.20M187.80 230.39V264.20M201.06 225.39V264.20M206.52 225.73V264.20M212.76 223.91V264.20M219.00 229.57V264.20M222.90 229.96V264.20M224.46 224.10V264.20M225.24 224.26V264.20M239.28 226.48V264.20M244.74 224.43V264.20" stroke="#ff7070" stroke-width="0.8" fill="none"/>
<path d="M47.60 260.18V267.68M48.20 260.07V267.77M48.80 260.15V267.71M49.40 260.09V267.76M50.00 260.08V267.78M50.60 260.23V267.65M51.20 260.20V267.67M51.80 260.13V267.73M52.40 260.10V267.77M53.00 260.14V267.73M53.60 260.24V267.65M54.20 260.19V267.70M54.80 260.18V267.70M55.40 260.23V267.66M56.00 260.25V267.64M56.60 260.36V267.55M57.20 260.36V267.56M57.80 260.32V267.59M58.40 260.35V267.57M59.00 260.23V267.67M59.60 259.99V267.88M60.20 260.22V267.68M60.80 260.02V267.86M61.40 260.11V267.79M62.00 260.01V267.87M62.60 260.12V267.78M63.20 260.00V267.89M63.80 260.06V267.84M64.40 260.35V267.58M65.00 260.38V267.56M65.60 260.00V267.90M66.20 260.25V267.68M66.80 260.12V267.79M67.40 260.00V267.90M68.00 259.99V267.91M68.60 260.17V267.75M69.20 260.25V267.68M69.80 260.15V267.78M70.40 260.10V267.82M71.00 260.35V267.61M71.60 260.06V267.86M72.20 260.38V267.58M72.80 260.23V267.72M73.40 260.04V267.88M74.00 260.03V267.90M74.60 260.04V267.89M75.20 260.04V267.89M75.80 260.20V267.75M76.40 260.21V267.74M77.00 260.19V267.76M77.60 260.18V267.78M78.20 260.30V267.67M78.80 260.23V267.73M79.40 260.19V267.77M80.00 260.38V267.60M80.60 260.15V267.80M81.20 260.36V267.62M81.80 260.16V267.80M82.40 260.36V267.63M83.00 260.31V267.67M83.60 260.20V267.77M84.20 260.08V267.88M84.80 259.99V267.97M85.40 260.08V267.89M86.00 260.05V267.91M86.60 260.21V267.77M87.20 260.17V267.81M87.80 260.16V267.82M88.40 259.99V267.97M89.00 260.04V267.93M89.60 260.38V267.63M90.20 260.11V267.88M90.80 260.09V267.89M91.40 260.02V267.95M92.00 260.01V267.97M92.60 260.22V267.78M93.20 260.22V267.79M93.80 260.29V267.72M94.40 260.31V267.71M95.00 260.03V267.96M95.60 260.08V267.91M96.20 260.05V267.95M96.80 260.25V267.76M97.40 260.08V267.93M98.00 260.38V267.66M98.60 260.18V267.83M99.20 260.26V267.77M99.80 260.26V267.76M100.40 259.99V268.02M101.00 260.38V267.66M101.60 260.00V268.01M102.20 260.11V267.91M102.80 259.98V268.03M103.40 260.22V267.81M104.00 260.02V268.00M104.60 260.16V267.87M105.20 260.15V267.88M105.80 260.13V267.90M106.40 260.28V267.77M107.00 260.14V267.90M107.60 260.31V267.74M108.20 260.37V267.69M108.80 260.09V267.94M109.40 260.37V267.69M110.00 260.01V268.02M110.60 260.29V267.77M111.20 260.02V268.02M111.80 260.26V267.80M112.40 260.10V267.95M113.00 260.20V267.85M113.60 259.99V268.02M114.20 260.14V267.87M114.80 260.06V267.93M115.40 259.98V267.99M116.00 259.60V268.31M116.60 259.57V268.32M117.20 259.74V268.16M117.80 259.41V268.43M118.40 259.36V268.46M119.00 259.67V268.18M119.60 259.38V268.42M120.20 259.51V268.29M120.80 259.38V268.38M121.40 259.34V268.41M122.00 259.32V268.41M122.60 259.07V268.61M123.20 259.20V268.49M123.80 259.08V268.58M124.40 259.12V268.54M125.00 258.99V268.64M125.60 258.65V268.91M126.20 258.85V268.73M126.80 260.70V268.86M127.40 258.63V268.90M128.00 258.58V268.95M128.61 258.52V268.98M129.22 258.49V268.98M129.83 259.07V269.03M130.44 258.24V269.09M131.05 258.15V269.25M131.66 259.49V269.46M132.28 257.78V269.50M132.90 257.68V269.74M133.52 257.61V269.80M134.14 258.99V270.06M134.77 257.14V270.21M135.39 257.08V270.29M136.02 256.76V270.38M136.65 256.86V270.72M137.29 256.60V270.69M137.92 256.40V270.83M138.56 256.29V271.01M139.20 255.96V271.19M139.84 255.77V271.11M140.48 255.96V271.69M141.13 256.08V271.55M141.78 255.37V272.01M142.42 254.95V271.73M143.08 255.66V272.11M143.73 258.18V272.24M144.39 255.26V272.43M145.04 255.23V272.14M145.70 254.72V272.66M146.37 254.05V273.18M147.03 254.60V273.08M147.70 253.99V272.87M148.36 253.80V273.37M149.04 253.82V273.47M149.71 254.09V273.57M150.38 253.59V273.36M151.06 254.28V273.67M151.74 252.52V274.47M152.42 253.26V273.80M153.11 253.18V274.88M153.79 252.38V273.95M154.48 253.29V274.10M155.17 255.90V274.82M155.86 252.60V275.63M156.56 251.84V274.49M157.25 253.12V275.41M157.95 251.56V275.72M158.66 252.24V275.43M159.36 254.12V276.90M160.07 251.04V275.41M160.77 251.28V276.34M161.48 252.64V276.79M162.20 251.94V277.64M162.91 251.35V278.11M163.63 251.61V276.91M164.35 251.39V278.13M165.07 249.06V277.68M165.80 248.49V279.25M166.52 248.80V279.11M167.25 249.63V279.43M167.99 248.74V280.06M168.72 248.68V277.54M169.46 249.77V279.40M170.19 251.04V277.79M170.94 246.21V280.65M171.68 245.98V278.86M172.42 250.70V280.25M173.17 243.91V281.09M173.92 252.09V280.51M174.68 247.27V279.00M175.43 245.28V279.32M176.19 244.83V281.61M176.95 246.43V279.74M177.71 245.54V280.92M178.48 243.49V280.92M179.25 246.29V283.00M180.02 242.23V281.23M180.79 241.14V283.62M181.57 243.83V282.98M182.34 245.03V282.39M183.12 242.13V282.39M183.90 241.43V280.85M184.68 244.32V282.50M185.46 244.29V285.00M186.24 243.68V280.13M187.02 239.35V282.16M187.80 246.37V282.94M188.58 239.89V282.15M189.36 244.55V284.25M190.14 242.84V280.61M190.92 245.95V283.27M191.70 244.91V285.03M192.48 245.75V284.58M193.26 240.07V282.66M194.04 241.04V282.22M194.82 237.75V283.19M195.60 247.29V284.29M196.38 240.48V286.08M197.16 242.77V283.47M197.94 237.74V285.53M198.72 238.28V284.51M199.50 244.32V287.73M200.28 239.58V284.70M201.06 238.71V284.78M201.84 245.02V283.70M202.62 245.10V284.71M203.40 241.78V286.64M204.18 244.77V283.35M204.96 236.16V286.76M205.74 242.21V286.45M206.52 240.61V286.53M207.30 235.49V286.50M208.08 240.70V285.49M208.86 236.38V283.49M209.64 237.67V284.98M210.42 241.34V283.62M211.20 237.53V282.71M211.98 238.84V283.62M212.76 239.06V288.61M213.54 244.25V288.24M214.32 240.78V285.86M215.10 244.12V283.16M215.88 240.53V285.49M216.66 234.94V285.20M217.44 246.27V285.10M218.22 239.26V285.46M219.00 244.33V285.49M219.78 239.85V287.16M220.56 234.93V283.58M221.34 237.61V288.71M222.12 237.34V288.00M222.90 245.03V284.99M223.68 239.01V286.76M224.46 233.50V287.29M225.24 242.73V286.82M226.02 236.56V284.55M226.80 234.50V287.34M227.58 242.44V286.15M228.36 245.30V282.40M229.14 236.92V282.62M229.92 242.62V286.68M230.70 237.90V284.28M231.48 234.59V286.13M232.26 232.94V283.41M233.04 241.33V281.73M233.82 241.56V283.04M234.60 234.32V283.90M235.38 238.85V282.55M236.16 241.89V281.78M236.94 241.29V284.64M237.72 242.94V282.34M238.50 238.01V284.59M239.28 245.59V283.61M240.06 243.97V280.58M240.84 236.70V280.92M241.62 241.77V284.84M242.40 241.02V281.90M243.18 244.35V284.24M243.96 237.32V281.05M244.74 241.72V279.87M245.52 240.08V282.99" stroke="#ff0000" stroke-width="0.85" fill="none"/>
<rect x="47.40" y="190.70" width="198.80" height="147.00" fill="none" stroke="#333" stroke-width="1.2"/>
<path d="M47.40 337.70h3.00M47.40 313.20h3.00M47.40 288.70h3.00M47.40 264.20h3.00M47.40 239.70h3.00M47.40 215.20h3.00M47.40 190.70h3.00" stroke="#222" stroke-width="0.9" fill="none"/>
<path d="M47.40 325.45h1.80M47.40 300.95h1.80M47.40 276.45h1.80M47.40 251.95h1.80M47.40 227.45h1.80M47.40 202.95h1.80" stroke="#222" stroke-width="0.9" fill="none"/>
<path d="M47.40 337.70v-3.00M93.90 337.70v-3.00M140.40 337.70v-3.00M186.90 337.70v-3.00M233.40 337.70v-3.00" stroke="#222" stroke-width="0.9" fill="none"/>
<path d="M70.65 337.70v-1.80M117.15 337.70v-1.80M163.65 337.70v-1.80M210.15 337.70v-1.80" stroke="#222" stroke-width="0.9" fill="none"/>
<text x="43.80" y="339.70" style="font-family:'Liberation Sans',sans-serif;font-size:6px;font-weight:bold" text-anchor="end" fill="#333">-1.5</text>
<text x="43.80" y="315.20" style="font-family:'Liberation Sans',sans-serif;font-size:6px;font-weight:bold" text-anchor="end" fill="#333">-1.0</text>
<text x="43.80" y="290.70" style="font-family:'Liberation Sans',sans-serif;font-size:6px;font-weight:bold" text-anchor="end" fill="#333">-0.5</text>
<text x="43.80" y="266.20" style="font-family:'Liberation Sans',sans-serif;font-size:6px;font-weight:bold" text-anchor="end" fill="#333">0.0</text>
<text x="43.80" y="241.70" style="font-family:'Liberation Sans',sans-serif;font-size:6px;font-weight:bold" text-anchor="end" fill="#333">0.5</text>
<text x="43.80" y="217.20" style="font-family:'Liberation Sans',sans-serif;font-size:6px;font-weight:bold" text-anchor="end" fill="#333">1.0</text>
<text x="43.80" y="192.70" style="font-family:'Liberation Sans',sans-serif;font-size:6px;font-weight:bold" text-anchor="end" fill="#333">1.5</text>
<text x="47.40" y="344.70" style="font-family:'Liberation Sans',sans-serif;font-size:6px;font-weight:bold" text-anchor="middle" fill="#333">0</text>
<text x="93.90" y="344.70" style="font-family:'Liberation Sans',sans-serif;font-size:6px;font-weight:bold" text-anchor="middle" fill="#333">100</text>
<text x="140.40" y="344.70" style="font-family:'Liberation Sans',sans-serif;font-size:6px;font-weight:bold" text-anchor="middle" fill="#333">200</text>
<text x="186.90" y="344.70" style="font-family:'Liberation Sans',sans-serif;font-size:6px;font-weight:bold" text-anchor="middle" fill="#333">300</text>
<text x="233.40" y="344.70" style="font-family:'Liberation Sans',sans-serif;font-size:6px;font-weight:bold" text-anchor="middle" fill="#333">400</text>
<path d="M50.9 196.9H68.6" stroke="#4050ff" stroke-width="0.9"/>
<path d="M50.9 206.7H68.6" stroke="#ff4848" stroke-width="0.9"/>
<text x="71.60" y="199.90" style="font-family:'Liberation Serif',serif;font-size:8.3px;font-weight:normal" text-anchor="start" fill="#333">Li</text>
<text x="71.60" y="209.70" style="font-family:'Liberation Serif',serif;font-size:8.3px;font-weight:normal" text-anchor="start" fill="#333" textLength="31.40" lengthAdjust="spacingAndGlyphs">Li<tspan font-size="4.2" dy="2.6">0.98</tspan><tspan dy="-2.6">Sn</tspan><tspan font-size="4.2" dy="2.6">0.02</tspan></text>
<text x="51.90" y="327.50" style="font-family:'Liberation Serif',serif;font-size:8px;font-weight:normal" text-anchor="start" fill="#333" textLength="27.50" lengthAdjust="spacingAndGlyphs">1mA cm<tspan font-size="4.5" dy="-2.8">-2</tspan></text>
<text x="128.50" y="357.00" style="font-family:'Liberation Serif',serif;font-size:12px;font-weight:normal" text-anchor="start" fill="#111" textLength="41.50" lengthAdjust="spacingAndGlyphs">Time (h)</text>
<text x="26.30" y="296.30" style="font-family:'Liberation Serif',serif;font-size:12.5px;font-weight:bold" text-anchor="start" fill="#222" transform="rotate(-90 26.30 296.30)" textLength="61.80" lengthAdjust="spacingAndGlyphs">Voltage (V)</text>
<text x="9.60" y="188.30" style="font-family:'Liberation Serif',serif;font-size:18.8px;font-weight:normal" text-anchor="start" fill="#111">(c)</text>
<rect x="282.26" y="329.97" width="3.50" height="3.50" fill="#000"/><rect x="282.28" y="329.68" width="3.50" height="3.50" fill="#000"/><rect x="282.30" y="329.33" width="3.50" height="3.50" fill="#000"/><rect x="282.33" y="328.92" width="3.50" height="3.50" fill="#000"/><rect x="282.36" y="328.43" width="3.50" height="3.50" fill="#000"/><rect x="282.41" y="327.83" width="3.50" height="3.50" fill="#000"/><rect x="282.46" y="327.13" width="3.50" height="3.50" fill="#000"/><rect x="282.54" y="326.28" width="3.50" height="3.50" fill="#000"/><rect x="282.63" y="325.28" width="3.50" height="3.50" fill="#000"/><rect x="282.75" y="324.08" width="3.50" height="3.50" fill="#000"/><rect x="282.92" y="322.65" width="3.50" height="3.50" fill="#000"/><rect x="283.13" y="320.96" width="3.50" height="3.50" fill="#000"/><rect x="283.42" y="318.96" width="3.50" height="3.50" fill="#000"/><rect x="283.82" y="316.62" width="3.50" height="3.50" fill="#000"/><rect x="284.34" y="313.88" width="3.50" height="3.50" fill="#000"/><rect x="285.06" y="310.71" width="3.50" height="3.50" fill="#000"/><rect x="286.01" y="307.10" width="3.50" height="3.50" fill="#000"/><rect x="287.29" y="303.06" width="3.50" height="3.50" fill="#000"/><rect x="288.98" y="298.66" width="3.50" height="3.50" fill="#000"/><rect x="291.16" y="294.04" width="3.50" height="3.50" fill="#000"/><rect x="293.91" y="289.44" width="3.50" height="3.50" fill="#000"/><rect x="297.28" y="285.20" width="3.50" height="3.50" fill="#000"/><rect x="301.24" y="281.71" width="3.50" height="3.50" fill="#000"/><rect x="305.67" y="279.38" width="3.50" height="3.50" fill="#000"/><rect x="310.37" y="278.53" width="3.50" height="3.50" fill="#000"/><rect x="315.07" y="279.26" width="3.50" height="3.50" fill="#000"/><rect x="319.51" y="281.45" width="3.50" height="3.50" fill="#000"/><rect x="323.48" y="284.81" width="3.50" height="3.50" fill="#000"/><rect x="326.87" y="288.93" width="3.50" height="3.50" fill="#000"/><rect x="329.66" y="293.39" width="3.50" height="3.50" fill="#000"/><rect x="331.87" y="297.86" width="3.50" height="3.50" fill="#000"/><rect x="333.60" y="302.11" width="3.50" height="3.50" fill="#000"/><rect x="334.92" y="305.99" width="3.50" height="3.50" fill="#000"/><rect x="335.94" y="309.43" width="3.50" height="3.50" fill="#000"/><rect x="336.71" y="312.41" width="3.50" height="3.50" fill="#000"/><rect x="337.32" y="314.96" width="3.50" height="3.50" fill="#000"/><rect x="337.79" y="317.09" width="3.50" height="3.50" fill="#000"/><rect x="338.18" y="318.86" width="3.50" height="3.50" fill="#000"/><rect x="338.50" y="320.31" width="3.50" height="3.50" fill="#000"/><rect x="338.78" y="321.46" width="3.50" height="3.50" fill="#000"/><rect x="339.03" y="322.37" width="3.50" height="3.50" fill="#000"/><rect x="339.27" y="323.06" width="3.50" height="3.50" fill="#000"/><rect x="339.51" y="323.55" width="3.50" height="3.50" fill="#000"/><rect x="339.74" y="323.87" width="3.50" height="3.50" fill="#000"/><rect x="339.98" y="324.05" width="3.50" height="3.50" fill="#000"/><rect x="340.23" y="324.08" width="3.50" height="3.50" fill="#000"/><rect x="340.50" y="323.99" width="3.50" height="3.50" fill="#000"/><rect x="340.79" y="323.78" width="3.50" height="3.50" fill="#000"/><rect x="341.10" y="323.47" width="3.50" height="3.50" fill="#000"/><rect x="341.44" y="323.04" width="3.50" height="3.50" fill="#000"/><rect x="341.81" y="322.51" width="3.50" height="3.50" fill="#000"/><rect x="342.21" y="321.87" width="3.50" height="3.50" fill="#000"/><rect x="342.65" y="321.13" width="3.50" height="3.50" fill="#000"/><rect x="343.14" y="320.27" width="3.50" height="3.50" fill="#000"/><rect x="343.67" y="319.29" width="3.50" height="3.50" fill="#000"/><rect x="344.25" y="318.20" width="3.50" height="3.50" fill="#000"/><rect x="344.89" y="316.97" width="3.50" height="3.50" fill="#000"/><rect x="345.60" y="315.60" width="3.50" height="3.50" fill="#000"/><rect x="346.37" y="314.08" width="3.50" height="3.50" fill="#000"/><rect x="347.22" y="312.39" width="3.50" height="3.50" fill="#000"/><rect x="348.16" y="310.52" width="3.50" height="3.50" fill="#000"/><rect x="349.19" y="308.46" width="3.50" height="3.50" fill="#000"/><polygon points="281.24,328.84 283.62,332.97 278.87,332.97" fill="#008000"/><polygon points="281.26,328.48 283.64,332.61 278.89,332.61" fill="#008000"/><polygon points="281.29,328.05 283.66,332.18 278.91,332.18" fill="#008000"/><polygon points="281.32,327.53 283.69,331.66 278.94,331.66" fill="#008000"/><polygon points="281.35,326.91 283.73,331.03 278.98,331.03" fill="#008000"/><polygon points="281.39,326.16 283.77,330.28 279.02,330.28" fill="#008000"/><polygon points="281.45,325.25 283.82,329.38 279.07,329.38" fill="#008000"/><polygon points="281.52,324.16 283.89,328.29 279.14,328.29" fill="#008000"/><polygon points="281.61,322.85 283.98,326.98 279.23,326.98" fill="#008000"/><polygon points="281.73,321.27 284.10,325.40 279.35,325.40" fill="#008000"/><polygon points="281.89,319.38 284.27,323.50 279.52,323.50" fill="#008000"/><polygon points="282.11,317.10 284.49,321.22 279.74,321.22" fill="#008000"/><polygon points="282.43,314.36 284.80,318.49 280.05,318.49" fill="#008000"/><polygon points="282.86,311.10 285.24,315.23 280.49,315.23" fill="#008000"/><polygon points="283.48,307.22 285.85,311.35 281.10,311.35" fill="#008000"/><polygon points="284.35,302.65 286.72,306.78 281.97,306.78" fill="#008000"/><polygon points="285.57,297.32 287.95,301.44 283.20,301.44" fill="#008000"/><polygon points="287.29,291.20 289.66,295.33 284.91,295.33" fill="#008000"/><polygon points="289.66,284.35 292.03,288.48 287.28,288.48" fill="#008000"/><polygon points="292.87,276.94 295.25,281.07 290.50,281.07" fill="#008000"/><polygon points="297.12,269.33 299.50,273.46 294.75,273.46" fill="#008000"/><polygon points="302.54,262.08 304.92,266.21 300.17,266.21" fill="#008000"/><polygon points="309.13,255.94 311.51,260.07 306.76,260.07" fill="#008000"/><polygon points="316.70,251.71 319.07,255.83 314.32,255.83" fill="#008000"/><polygon points="324.83,250.02 327.21,254.15 322.46,254.15" fill="#008000"/><polygon points="332.98,251.12 335.35,255.25 330.60,255.25" fill="#008000"/><polygon points="340.59,254.76 342.97,258.89 338.22,258.89" fill="#008000"/><polygon points="347.26,260.30 349.63,264.43 344.88,264.43" fill="#008000"/><polygon points="352.78,266.93 355.16,271.06 350.41,271.06" fill="#008000"/><polygon points="357.18,273.90 359.55,278.03 354.80,278.03" fill="#008000"/><polygon points="360.57,280.64 362.94,284.77 358.19,284.77" fill="#008000"/><polygon points="363.15,286.79 365.52,290.91 360.77,290.91" fill="#008000"/><polygon points="365.11,292.16 367.49,296.29 362.74,296.29" fill="#008000"/><polygon points="366.63,296.70 369.00,300.83 364.25,300.83" fill="#008000"/><polygon points="367.83,300.43 370.20,304.55 365.45,304.55" fill="#008000"/><polygon points="368.82,303.39 371.19,307.52 366.44,307.52" fill="#008000"/><polygon points="369.68,305.68 372.06,309.80 367.31,309.80" fill="#008000"/><polygon points="370.47,307.35 372.85,311.47 368.10,311.47" fill="#008000"/><polygon points="371.23,308.48 373.61,312.60 368.86,312.60" fill="#008000"/><polygon points="372.00,309.13 374.37,313.25 369.62,313.25" fill="#008000"/><polygon points="372.78,309.34 375.16,313.47 370.41,313.47" fill="#008000"/><polygon points="373.61,309.17 375.99,313.29 371.24,313.29" fill="#008000"/><polygon points="374.51,308.63 376.88,312.76 372.13,312.76" fill="#008000"/><polygon points="375.47,307.76 377.84,311.89 373.09,311.89" fill="#008000"/><polygon points="376.52,306.56 378.89,310.69 374.14,310.69" fill="#008000"/><polygon points="377.67,305.05 380.04,309.18 375.29,309.18" fill="#008000"/><polygon points="378.93,303.23 381.30,307.36 376.55,307.36" fill="#008000"/><polygon points="380.31,301.09 382.68,305.22 377.93,305.22" fill="#008000"/><polygon points="381.83,298.63 384.20,302.75 379.45,302.75" fill="#008000"/><polygon points="383.50,295.83 385.87,299.95 381.12,299.95" fill="#008000"/><polygon points="385.33,292.67 387.71,296.79 382.96,296.79" fill="#008000"/><polygon points="387.35,289.13 389.73,293.25 384.98,293.25" fill="#008000"/><polygon points="389.58,285.18 391.95,289.31 387.20,289.31" fill="#008000"/><polygon points="392.02,280.80 394.40,284.92 389.65,284.92" fill="#008000"/><polygon points="394.72,275.94 397.09,280.06 392.34,280.06" fill="#008000"/><polygon points="397.68,270.56 400.06,274.68 395.31,274.68" fill="#008000"/><circle cx="284.89" cy="332.17" r="1.90" fill="#ff0000"/><circle cx="284.90" cy="331.98" r="1.90" fill="#ff0000"/><circle cx="284.90" cy="331.75" r="1.90" fill="#ff0000"/><circle cx="284.91" cy="331.48" r="1.90" fill="#ff0000"/><circle cx="284.92" cy="331.15" r="1.90" fill="#ff0000"/><circle cx="284.93" cy="330.77" r="1.90" fill="#ff0000"/><circle cx="284.94" cy="330.31" r="1.90" fill="#ff0000"/><circle cx="284.96" cy="329.76" r="1.90" fill="#ff0000"/><circle cx="284.99" cy="329.11" r="1.90" fill="#ff0000"/><circle cx="285.02" cy="328.33" r="1.90" fill="#ff0000"/><circle cx="285.07" cy="327.41" r="1.90" fill="#ff0000"/><circle cx="285.13" cy="326.31" r="1.90" fill="#ff0000"/><circle cx="285.22" cy="325.01" r="1.90" fill="#ff0000"/><circle cx="285.35" cy="323.47" r="1.90" fill="#ff0000"/><circle cx="285.52" cy="321.66" r="1.90" fill="#ff0000"/><circle cx="285.76" cy="319.52" r="1.90" fill="#ff0000"/><circle cx="286.10" cy="317.03" r="1.90" fill="#ff0000"/><circle cx="286.58" cy="314.15" r="1.90" fill="#ff0000"/><circle cx="287.23" cy="310.86" r="1.90" fill="#ff0000"/><circle cx="288.11" cy="307.17" r="1.90" fill="#ff0000"/><circle cx="289.30" cy="303.14" r="1.90" fill="#ff0000"/><circle cx="290.87" cy="298.89" r="1.90" fill="#ff0000"/><circle cx="292.88" cy="294.64" r="1.90" fill="#ff0000"/><circle cx="295.37" cy="290.69" r="1.90" fill="#ff0000"/><circle cx="298.33" cy="287.44" r="1.90" fill="#ff0000"/><circle cx="301.66" cy="285.27" r="1.90" fill="#ff0000"/><circle cx="305.20" cy="284.47" r="1.90" fill="#ff0000"/><circle cx="308.74" cy="285.15" r="1.90" fill="#ff0000"/><circle cx="312.07" cy="287.21" r="1.90" fill="#ff0000"/><circle cx="315.04" cy="290.34" r="1.90" fill="#ff0000"/><circle cx="317.54" cy="294.16" r="1.90" fill="#ff0000"/><circle cx="319.57" cy="298.28" r="1.90" fill="#ff0000"/><circle cx="321.17" cy="302.40" r="1.90" fill="#ff0000"/><circle cx="322.39" cy="306.30" r="1.90" fill="#ff0000"/><circle cx="323.31" cy="309.85" r="1.90" fill="#ff0000"/><circle cx="324.00" cy="312.98" r="1.90" fill="#ff0000"/><circle cx="324.52" cy="315.70" r="1.90" fill="#ff0000"/><circle cx="324.91" cy="318.02" r="1.90" fill="#ff0000"/><circle cx="325.21" cy="319.97" r="1.90" fill="#ff0000"/><circle cx="325.45" cy="321.59" r="1.90" fill="#ff0000"/><circle cx="325.65" cy="322.92" r="1.90" fill="#ff0000"/><circle cx="325.82" cy="324.00" r="1.90" fill="#ff0000"/><circle cx="325.97" cy="324.85" r="1.90" fill="#ff0000"/><circle cx="326.12" cy="325.50" r="1.90" fill="#ff0000"/><circle cx="326.26" cy="325.99" r="1.90" fill="#ff0000"/><circle cx="326.41" cy="326.33" r="1.90" fill="#ff0000"/><circle cx="326.56" cy="326.54" r="1.90" fill="#ff0000"/><circle cx="326.72" cy="326.63" r="1.90" fill="#ff0000"/><circle cx="326.89" cy="326.62" r="1.90" fill="#ff0000"/><circle cx="327.08" cy="326.51" r="1.90" fill="#ff0000"/><circle cx="327.27" cy="326.30" r="1.90" fill="#ff0000"/><circle cx="327.49" cy="326.01" r="1.90" fill="#ff0000"/><circle cx="327.73" cy="325.64" r="1.90" fill="#ff0000"/><circle cx="327.98" cy="325.19" r="1.90" fill="#ff0000"/><circle cx="328.26" cy="324.65" r="1.90" fill="#ff0000"/><circle cx="328.57" cy="324.03" r="1.90" fill="#ff0000"/><circle cx="328.90" cy="323.32" r="1.90" fill="#ff0000"/><circle cx="329.26" cy="322.53" r="1.90" fill="#ff0000"/><circle cx="329.66" cy="321.64" r="1.90" fill="#ff0000"/><circle cx="330.09" cy="320.66" r="1.90" fill="#ff0000"/><circle cx="330.57" cy="319.57" r="1.90" fill="#ff0000"/><circle cx="331.09" cy="318.36" r="1.90" fill="#ff0000"/><circle cx="331.65" cy="317.04" r="1.90" fill="#ff0000"/><circle cx="332.27" cy="315.59" r="1.90" fill="#ff0000"/><circle cx="332.94" cy="313.99" r="1.90" fill="#ff0000"/><circle cx="333.68" cy="312.24" r="1.90" fill="#ff0000"/><polygon points="283.26,327.78 283.90,329.49 285.74,329.57 284.30,330.72 284.79,332.48 283.26,331.47 281.73,332.48 282.22,330.72 280.79,329.57 282.62,329.49" fill="#0000ff"/><polygon points="283.30,327.24 283.94,328.96 285.77,329.04 284.34,330.18 284.83,331.94 283.30,330.93 281.77,331.94 282.26,330.18 280.82,329.04 282.66,328.96" fill="#0000ff"/><polygon points="283.34,326.59 283.98,328.31 285.81,328.39 284.38,329.53 284.87,331.30 283.34,330.29 281.81,331.30 282.30,329.53 280.87,328.39 282.70,328.31" fill="#0000ff"/><polygon points="283.39,325.82 284.03,327.53 285.86,327.61 284.42,328.75 284.91,330.52 283.39,329.51 281.86,330.52 282.35,328.75 280.91,327.61 282.74,327.53" fill="#0000ff"/><polygon points="283.44,324.88 284.08,326.60 285.91,326.68 284.48,327.82 284.97,329.59 283.44,328.58 281.91,329.59 282.40,327.82 280.97,326.68 282.80,326.60" fill="#0000ff"/><polygon points="283.51,323.76 284.15,325.48 285.98,325.56 284.55,326.70 285.04,328.46 283.51,327.45 281.98,328.46 282.47,326.70 281.04,325.56 282.87,325.48" fill="#0000ff"/><polygon points="283.60,322.41 284.24,324.13 286.07,324.21 284.64,325.35 285.13,327.11 283.60,326.10 282.07,327.11 282.56,325.35 281.12,324.21 282.96,324.13" fill="#0000ff"/><polygon points="283.71,320.79 284.35,322.50 286.18,322.58 284.74,323.72 285.23,325.49 283.71,324.48 282.18,325.49 282.67,323.72 281.23,322.58 283.06,322.50" fill="#0000ff"/><polygon points="283.85,318.83 284.49,320.55 286.32,320.63 284.89,321.77 285.38,323.54 283.85,322.52 282.32,323.54 282.81,321.77 281.37,320.63 283.21,320.55" fill="#0000ff"/><polygon points="284.03,316.48 284.68,318.20 286.51,318.28 285.07,319.42 285.56,321.18 284.03,320.17 282.51,321.18 283.00,319.42 281.56,318.28 283.39,318.20" fill="#0000ff"/><polygon points="284.29,313.66 284.93,315.37 286.76,315.45 285.32,316.59 285.81,318.36 284.29,317.35 282.76,318.36 283.25,316.59 281.81,315.45 283.64,315.37" fill="#0000ff"/><polygon points="284.63,310.26 285.27,311.98 287.10,312.06 285.67,313.20 286.16,314.97 284.63,313.96 283.10,314.97 283.59,313.20 282.15,312.06 283.99,311.98" fill="#0000ff"/><polygon points="285.10,306.20 285.74,307.92 287.57,308.00 286.14,309.14 286.63,310.91 285.10,309.89 283.57,310.91 284.06,309.14 282.63,308.00 284.46,307.92" fill="#0000ff"/><polygon points="285.76,301.35 286.40,303.07 288.23,303.15 286.80,304.29 287.29,306.06 285.76,305.04 284.23,306.06 284.72,304.29 283.29,303.15 285.12,303.07" fill="#0000ff"/><polygon points="286.68,295.59 287.33,297.31 289.16,297.39 287.72,298.53 288.21,300.30 286.68,299.28 285.16,300.30 285.65,298.53 284.21,297.39 286.04,297.31" fill="#0000ff"/><polygon points="287.99,288.80 288.63,290.52 290.46,290.60 289.02,291.74 289.51,293.50 287.99,292.49 286.46,293.50 286.95,291.74 285.51,290.60 287.34,290.52" fill="#0000ff"/><polygon points="289.81,280.88 290.46,282.60 292.29,282.68 290.85,283.82 291.34,285.59 289.81,284.57 288.29,285.59 288.78,283.82 287.34,282.68 289.17,282.60" fill="#0000ff"/><polygon points="292.37,271.80 293.01,273.52 294.84,273.60 293.41,274.74 293.90,276.50 292.37,275.49 290.84,276.50 291.33,274.74 289.89,273.60 291.73,273.52" fill="#0000ff"/><polygon points="295.89,261.63 296.53,263.35 298.37,263.43 296.93,264.57 297.42,266.33 295.89,265.32 294.36,266.33 294.85,264.57 293.42,263.43 295.25,263.35" fill="#0000ff"/><polygon points="300.67,250.63 301.31,252.35 303.15,252.43 301.71,253.57 302.20,255.34 300.67,254.32 299.14,255.34 299.63,253.57 298.20,252.43 300.03,252.35" fill="#0000ff"/><polygon points="306.99,239.33 307.63,241.04 309.46,241.12 308.02,242.26 308.51,244.03 306.99,243.02 305.46,244.03 305.95,242.26 304.51,241.12 306.34,241.04" fill="#0000ff"/><polygon points="315.03,228.55 315.67,230.27 317.50,230.35 316.07,231.49 316.56,233.26 315.03,232.24 313.50,233.26 313.99,231.49 312.56,230.35 314.39,230.27" fill="#0000ff"/><polygon points="324.80,219.41 325.45,221.13 327.28,221.21 325.84,222.35 326.33,224.12 324.80,223.10 323.28,224.12 323.77,222.35 322.33,221.21 324.16,221.13" fill="#0000ff"/><polygon points="336.03,213.09 336.67,214.81 338.50,214.89 337.07,216.03 337.56,217.80 336.03,216.78 334.50,217.80 334.99,216.03 333.56,214.89 335.39,214.81" fill="#0000ff"/><polygon points="348.09,210.53 348.74,212.25 350.57,212.33 349.13,213.47 349.62,215.23 348.09,214.22 346.57,215.23 347.06,213.47 345.62,212.33 347.45,212.25" fill="#0000ff"/><polygon points="360.19,212.08 360.83,213.80 362.66,213.88 361.23,215.02 361.72,216.78 360.19,215.77 358.66,216.78 359.15,215.02 357.71,213.88 359.55,213.80" fill="#0000ff"/><polygon points="371.49,217.38 372.13,219.10 373.96,219.18 372.53,220.32 373.02,222.09 371.49,221.07 369.96,222.09 370.45,220.32 369.02,219.18 370.85,219.10" fill="#0000ff"/><polygon points="381.40,225.48 382.04,227.20 383.87,227.28 382.44,228.42 382.93,230.19 381.40,229.18 379.87,230.19 380.36,228.42 378.93,227.28 380.76,227.20" fill="#0000ff"/><polygon points="389.63,235.19 390.27,236.91 392.10,236.99 390.67,238.13 391.16,239.90 389.63,238.88 388.10,239.90 388.59,238.13 387.16,236.99 388.99,236.91" fill="#0000ff"/><polygon points="396.19,245.39 396.83,247.11 398.66,247.19 397.22,248.33 397.71,250.09 396.19,249.08 394.66,250.09 395.15,248.33 393.71,247.19 395.54,247.11" fill="#0000ff"/><polygon points="401.27,255.24 401.91,256.95 403.74,257.03 402.31,258.17 402.80,259.94 401.27,258.93 399.74,259.94 400.23,258.17 398.80,257.03 400.63,256.95" fill="#0000ff"/><polygon points="405.16,264.20 405.80,265.91 407.63,265.99 406.20,267.13 406.69,268.90 405.16,267.89 403.63,268.90 404.12,267.13 402.68,265.99 404.52,265.91" fill="#0000ff"/><polygon points="408.14,272.00 408.78,273.71 410.61,273.79 409.18,274.93 409.67,276.70 408.14,275.69 406.61,276.70 407.10,274.93 405.67,273.79 407.50,273.71" fill="#0000ff"/><polygon points="410.46,278.55 411.11,280.27 412.94,280.35 411.50,281.49 411.99,283.25 410.46,282.24 408.94,283.25 409.43,281.49 407.99,280.35 409.82,280.27" fill="#0000ff"/><polygon points="412.34,283.88 412.98,285.60 414.81,285.68 413.38,286.82 413.87,288.59 412.34,287.57 410.81,288.59 411.30,286.82 409.86,285.68 411.69,285.60" fill="#0000ff"/><polygon points="413.91,288.08 414.55,289.79 416.38,289.87 414.95,291.01 415.44,292.78 413.91,291.77 412.38,292.78 412.87,291.01 411.44,289.87 413.27,289.79" fill="#0000ff"/><polygon points="415.31,291.24 415.95,292.95 417.78,293.03 416.34,294.18 416.83,295.94 415.31,294.93 413.78,295.94 414.27,294.18 412.83,293.03 414.66,292.95" fill="#0000ff"/><polygon points="416.60,293.47 417.25,295.19 419.08,295.27 417.64,296.41 418.13,298.18 416.60,297.17 415.08,298.18 415.56,296.41 414.13,295.27 415.96,295.19" fill="#0000ff"/><polygon points="417.87,294.88 418.51,296.60 420.34,296.68 418.91,297.82 419.40,299.59 417.87,298.58 416.34,299.59 416.83,297.82 415.40,296.68 417.23,296.60" fill="#0000ff"/><polygon points="419.15,295.56 419.80,297.27 421.63,297.35 420.19,298.49 420.68,300.26 419.15,299.25 417.63,300.26 418.11,298.49 416.68,297.35 418.51,297.27" fill="#0000ff"/><polygon points="420.49,295.56 421.13,297.28 422.96,297.36 421.53,298.50 422.02,300.26 420.49,299.25 418.96,300.26 419.45,298.50 418.02,297.36 419.85,297.28" fill="#0000ff"/><polygon points="421.91,294.95 422.55,296.67 424.38,296.75 422.95,297.89 423.44,299.66 421.91,298.65 420.38,299.66 420.87,297.89 419.43,296.75 421.27,296.67" fill="#0000ff"/><polygon points="423.43,293.78 424.07,295.50 425.91,295.58 424.47,296.72 424.96,298.48 423.43,297.47 421.90,298.48 422.39,296.72 420.96,295.58 422.79,295.50" fill="#0000ff"/><polygon points="425.09,292.07 425.73,293.78 427.56,293.86 426.13,295.00 426.62,296.77 425.09,295.76 423.56,296.77 424.05,295.00 422.61,293.86 424.45,293.78" fill="#0000ff"/><polygon points="426.89,289.83 427.53,291.55 429.36,291.63 427.93,292.77 428.42,294.54 426.89,293.53 425.36,294.54 425.85,292.77 424.42,291.63 426.25,291.55" fill="#0000ff"/><polygon points="428.87,287.09 429.51,288.81 431.34,288.89 429.91,290.03 430.40,291.79 428.87,290.78 427.34,291.79 427.83,290.03 426.39,288.89 428.22,288.81" fill="#0000ff"/><polygon points="431.03,283.83 431.67,285.55 433.51,285.63 432.07,286.77 432.56,288.54 431.03,287.52 429.50,288.54 429.99,286.77 428.56,285.63 430.39,285.55" fill="#0000ff"/><polygon points="433.41,280.05 434.05,281.77 435.88,281.85 434.45,282.99 434.94,284.75 433.41,283.74 431.88,284.75 432.37,282.99 430.94,281.85 432.77,281.77" fill="#0000ff"/><polygon points="436.03,275.73 436.67,277.44 438.50,277.52 437.07,278.66 437.55,280.43 436.03,279.42 434.50,280.43 434.99,278.66 433.55,277.52 435.38,277.44" fill="#0000ff"/><polygon points="438.90,270.83 439.54,272.55 441.38,272.63 439.94,273.77 440.43,275.54 438.90,274.52 437.37,275.54 437.86,273.77 436.43,272.63 438.26,272.55" fill="#0000ff"/><polygon points="442.07,265.34 442.71,267.05 444.54,267.13 443.10,268.27 443.59,270.04 442.07,269.03 440.54,270.04 441.03,268.27 439.59,267.13 441.42,267.05" fill="#0000ff"/><polygon points="445.55,259.19 446.19,260.91 448.02,260.99 446.59,262.13 447.08,263.90 445.55,262.89 444.02,263.90 444.51,262.13 443.07,260.99 444.91,260.91" fill="#0000ff"/><polygon points="449.38,252.36 450.02,254.08 451.85,254.16 450.42,255.30 450.91,257.06 449.38,256.05 447.85,257.06 448.34,255.30 446.91,254.16 448.74,254.08" fill="#0000ff"/><polygon points="453.59,244.78 454.24,246.49 456.07,246.57 454.63,247.71 455.12,249.48 453.59,248.47 452.07,249.48 452.56,247.71 451.12,246.57 452.95,246.49" fill="#0000ff"/><polygon points="458.23,236.38 458.88,238.09 460.71,238.17 459.27,239.31 459.76,241.08 458.23,240.07 456.71,241.08 457.20,239.31 455.76,238.17 457.59,238.09" fill="#0000ff"/><polygon points="463.34,227.09 463.98,228.80 465.81,228.88 464.38,230.02 464.87,231.79 463.34,230.78 461.81,231.79 462.30,230.02 460.87,228.88 462.70,228.80" fill="#0000ff"/><polygon points="468.96,216.83 469.60,218.55 471.44,218.63 470.00,219.77 470.49,221.53 468.96,220.52 467.43,221.53 467.92,219.77 466.49,218.63 468.32,218.55" fill="#0000ff"/><polygon points="475.15,205.51 475.79,207.23 477.62,207.31 476.19,208.45 476.68,210.21 475.15,209.20 473.62,210.21 474.11,208.45 472.68,207.31 474.51,207.23" fill="#0000ff"/>
<polygon points="415.80,187.70 416.44,189.42 418.27,189.50 416.84,190.64 417.33,192.40 415.80,191.39 414.27,192.40 414.76,190.64 413.33,189.50 415.16,189.42" fill="#0000ff"/><rect x="414.05" y="197.85" width="3.50" height="3.50" fill="#000"/><polygon points="415.80,208.80 418.18,212.93 413.43,212.93" fill="#008000"/><circle cx="415.80" cy="222.30" r="1.90" fill="#ff0000"/>
<text x="426.20" y="193.30" style="font-family:'Liberation Serif',serif;font-size:8.3px;font-weight:normal" text-anchor="start" fill="#444">Li</text>
<text x="426.20" y="203.00" style="font-family:'Liberation Serif',serif;font-size:8.3px;font-weight:normal" text-anchor="start" fill="#444" textLength="28.10" lengthAdjust="spacingAndGlyphs">Li<tspan font-size="4.0" dy="2.4">0.98</tspan><tspan dy="-2.4">Al</tspan><tspan font-size="4.0" dy="2.4">0.02</tspan></text>
<text x="426.20" y="214.30" style="font-family:'Liberation Serif',serif;font-size:8.3px;font-weight:normal" text-anchor="start" fill="#444" textLength="30.20" lengthAdjust="spacingAndGlyphs">Li<tspan font-size="4.0" dy="2.4">0.98</tspan><tspan dy="-2.4">Mg</tspan><tspan font-size="4.0" dy="2.4">0.02</tspan></text>
<text x="426.20" y="225.30" style="font-family:'Liberation Serif',serif;font-size:8.3px;font-weight:normal" text-anchor="start" fill="#444" textLength="28.10" lengthAdjust="spacingAndGlyphs">Li<tspan font-size="4.0" dy="2.4">0.98</tspan><tspan dy="-2.4">Sn</tspan><tspan font-size="4.0" dy="2.4">0.02</tspan></text>
<path d="M389.5 312.6H395.4M413 312.6H419M448.4 312.6H454.8M472 312.6H477.9" stroke="#333" stroke-width="0.8" fill="none"/>
<rect x="395.4" y="309.6" width="17.6" height="5.8" fill="#fff" stroke="#333" stroke-width="0.8"/>
<rect x="454.8" y="309.6" width="17.2" height="5.8" fill="#fff" stroke="#333" stroke-width="0.8"/>
<path d="M419 303.2V322.4H428.4M445.3 322.4H448.4V303.2H436.2M434 303.2H419" stroke="#333" stroke-width="0.8" fill="none"/>
<path d="M434.2 298.6V307.5M436.0 298.6V307.5" stroke="#333" stroke-width="0.9" fill="none"/>
<rect x="428.4" y="319.6" width="16.9" height="5.6" fill="#fff" stroke="#333" stroke-width="0.8"/>
<text x="398.50" y="306.50" style="font-family:'Liberation Serif',serif;font-size:6px;font-weight:normal" text-anchor="start" fill="#333" font-style="italic">R<tspan font-size="3" dy="1">sf</tspan></text>
<text x="431.50" y="317.00" style="font-family:'Liberation Serif',serif;font-size:6px;font-weight:normal" text-anchor="start" fill="#333" font-style="italic">R<tspan font-size="3" dy="1">ct</tspan></text>
<text x="458.50" y="307.00" style="font-family:'Liberation Serif',serif;font-size:6px;font-weight:normal" text-anchor="start" fill="#333" font-style="italic">Z<tspan font-size="3" dy="1">W</tspan></text>
<rect x="280.50" y="186.40" width="199.20" height="146.80" fill="none" stroke="#333" stroke-width="1.2"/>
<path d="M280.50 333.20h3.00M280.50 322.71h3.00M280.50 312.22h3.00M280.50 301.73h3.00M280.50 291.24h3.00M280.50 280.75h3.00M280.50 270.26h3.00M280.50 259.77h3.00M280.50 249.28h3.00M280.50 238.79h3.00M280.50 228.30h3.00M280.50 217.81h3.00M280.50 207.32h3.00M280.50 196.83h3.00M280.50 186.34h3.00" stroke="#222" stroke-width="0.9" fill="none"/>
<path d="M280.50 327.95h1.80M280.50 317.46h1.80M280.50 306.97h1.80M280.50 296.49h1.80M280.50 286.00h1.80M280.50 275.50h1.80M280.50 265.01h1.80M280.50 254.52h1.80M280.50 244.03h1.80M280.50 233.55h1.80M280.50 223.06h1.80M280.50 212.56h1.80M280.50 202.07h1.80M280.50 191.59h1.80" stroke="#222" stroke-width="0.9" fill="none"/>
<path d="M280.50 333.20v-3.00M308.95 333.20v-3.00M337.40 333.20v-3.00M365.85 333.20v-3.00M394.30 333.20v-3.00M422.75 333.20v-3.00M451.20 333.20v-3.00M479.65 333.20v-3.00" stroke="#222" stroke-width="0.9" fill="none"/>
<path d="M294.73 333.20v-1.80M323.18 333.20v-1.80M351.62 333.20v-1.80M380.07 333.20v-1.80M408.52 333.20v-1.80M436.98 333.20v-1.80M465.42 333.20v-1.80" stroke="#222" stroke-width="0.9" fill="none"/>
<text x="277.60" y="335.50" style="font-family:'Liberation Sans',sans-serif;font-size:6.3px;font-weight:normal" text-anchor="end" fill="#222">0</text>
<text x="277.60" y="325.01" style="font-family:'Liberation Sans',sans-serif;font-size:6.3px;font-weight:normal" text-anchor="end" fill="#222">10</text>
<text x="277.60" y="314.52" style="font-family:'Liberation Sans',sans-serif;font-size:6.3px;font-weight:normal" text-anchor="end" fill="#222">20</text>
<text x="277.60" y="304.03" style="font-family:'Liberation Sans',sans-serif;font-size:6.3px;font-weight:normal" text-anchor="end" fill="#222">30</text>
<text x="277.60" y="293.54" style="font-family:'Liberation Sans',sans-serif;font-size:6.3px;font-weight:normal" text-anchor="end" fill="#222">40</text>
<text x="277.60" y="283.05" style="font-family:'Liberation Sans',sans-serif;font-size:6.3px;font-weight:normal" text-anchor="end" fill="#222">50</text>
<text x="277.60" y="272.56" style="font-family:'Liberation Sans',sans-serif;font-size:6.3px;font-weight:normal" text-anchor="end" fill="#222">60</text>
<text x="277.60" y="262.07" style="font-family:'Liberation Sans',sans-serif;font-size:6.3px;font-weight:normal" text-anchor="end" fill="#222">70</text>
<text x="277.60" y="251.58" style="font-family:'Liberation Sans',sans-serif;font-size:6.3px;font-weight:normal" text-anchor="end" fill="#222">80</text>
<text x="277.60" y="241.09" style="font-family:'Liberation Sans',sans-serif;font-size:6.3px;font-weight:normal" text-anchor="end" fill="#222">90</text>
<text x="277.60" y="230.60" style="font-family:'Liberation Sans',sans-serif;font-size:6.3px;font-weight:normal" text-anchor="end" fill="#222">100</text>
<text x="277.60" y="220.11" style="font-family:'Liberation Sans',sans-serif;font-size:6.3px;font-weight:normal" text-anchor="end" fill="#222">110</text>
<text x="277.60" y="209.62" style="font-family:'Liberation Sans',sans-serif;font-size:6.3px;font-weight:normal" text-anchor="end" fill="#222">120</text>
<text x="277.60" y="199.13" style="font-family:'Liberation Sans',sans-serif;font-size:6.3px;font-weight:normal" text-anchor="end" fill="#222">130</text>
<text x="277.60" y="188.64" style="font-family:'Liberation Sans',sans-serif;font-size:6.3px;font-weight:normal" text-anchor="end" fill="#222">140</text>
<text x="280.50" y="341.20" style="font-family:'Liberation Sans',sans-serif;font-size:6.5px;font-weight:normal" text-anchor="middle" fill="#222">0</text>
<text x="308.95" y="341.20" style="font-family:'Liberation Sans',sans-serif;font-size:6.5px;font-weight:normal" text-anchor="middle" fill="#222">50</text>
<text x="337.40" y="341.20" style="font-family:'Liberation Sans',sans-serif;font-size:6.5px;font-weight:normal" text-anchor="middle" fill="#222">100</text>
<text x="365.85" y="341.20" style="font-family:'Liberation Sans',sans-serif;font-size:6.5px;font-weight:normal" text-anchor="middle" fill="#222">150</text>
<text x="394.30" y="341.20" style="font-family:'Liberation Sans',sans-serif;font-size:6.5px;font-weight:normal" text-anchor="middle" fill="#222">200</text>
<text x="422.75" y="341.20" style="font-family:'Liberation Sans',sans-serif;font-size:6.5px;font-weight:normal" text-anchor="middle" fill="#222">250</text>
<text x="451.20" y="341.20" style="font-family:'Liberation Sans',sans-serif;font-size:6.5px;font-weight:normal" text-anchor="middle" fill="#222">300</text>
<text x="479.65" y="341.20" style="font-family:'Liberation Sans',sans-serif;font-size:6.5px;font-weight:normal" text-anchor="middle" fill="#222">350</text>
<text x="368.30" y="355.80" style="font-family:'Liberation Serif',serif;font-size:11.5px;font-weight:normal" text-anchor="start" fill="#222" textLength="7.50" lengthAdjust="spacingAndGlyphs">Z'</text>
<text x="380.50" y="355.80" style="font-family:'Liberation Serif',serif;font-size:11.5px;font-weight:normal" text-anchor="start" fill="#222" textLength="13.70" lengthAdjust="spacingAndGlyphs">(Ω)</text>
<text x="259.60" y="278.60" style="font-family:'Liberation Serif',serif;font-size:11px;font-weight:normal" text-anchor="start" fill="#222" transform="rotate(-90 259.60 278.60)" textLength="10.40" lengthAdjust="spacingAndGlyphs">Z''</text>
<text x="259.60" y="256.80" style="font-family:'Liberation Serif',serif;font-size:11px;font-weight:normal" text-anchor="start" fill="#222" transform="rotate(-90 259.60 256.80)" textLength="13.20" lengthAdjust="spacingAndGlyphs">(Ω)</text>
<text x="247.30" y="191.80" style="font-family:'Liberation Serif',serif;font-size:19.5px;font-weight:normal" text-anchor="start" fill="#111">(d)</text>
<path d="M65.30 506.88V402.37" stroke="#0000ff" stroke-width="1.4" fill="none"/>
<path d="M66.03 402.37L66.16 403.01L66.35 403.94L66.57 405.01L66.81 406.12L67.07 407.14L67.31 407.95L67.55 408.54L67.79 409.01L68.04 409.40L68.31 409.72L68.60 410.00L68.93 410.27L69.22 410.52L69.44 410.73L69.70 410.91L70.07 411.05L70.64 411.17L71.51 411.27L72.59 411.34L73.80 411.39L75.22 411.40L76.91 411.41L78.96 411.40L81.42 411.40L84.45 411.42L88.01 411.45L91.92 411.47L95.99 411.46L100.05 411.40L103.91 411.27L107.62 411.06L111.33 410.78L115.03 410.45L118.68 410.08L122.27 409.69L125.75 409.28L129.11 408.83L132.35 408.35L135.52 407.84L138.66 407.31L141.81 406.79L145.01 406.29L148.26 405.82L151.52 405.37L154.78 404.92L158.05 404.46L161.33 403.97L164.60 403.43L167.87 402.85L171.15 402.22L174.43 401.57L177.71 400.89L180.99 400.21L184.27 399.52L187.59 398.80L190.96 398.06L194.34 397.30L197.66 396.55L200.88 395.82L203.93 395.13L206.85 394.47L209.67 393.82L212.38 393.20L214.98 392.61L217.43 392.08L219.73 391.61L221.94 391.22L224.10 390.88L226.12 390.60L227.91 390.36L229.41 390.17L230.53 390.02" stroke="#0000ff" stroke-width="1.4" fill="none"/>
<path d="M65.30 392.01L66.23 392.24L67.47 392.51L68.96 392.85L70.66 393.29L72.51 393.86L74.49 394.60L76.66 395.57L79.07 396.74L81.65 398.05L84.30 399.42L86.94 400.75L89.48 401.97L91.87 403.08L94.16 404.13L96.45 405.15L98.79 406.17L101.28 407.20L103.99 408.28L106.94 409.41L110.07 410.58L113.35 411.77L116.72 412.96L120.14 414.12L123.57 415.25L127.15 416.35L130.94 417.45L134.78 418.53L138.51 419.57L141.98 420.56L145.01 421.49L147.56 422.34L149.72 423.11L151.62 423.83L153.36 424.54L155.04 425.25L156.78 426.01L158.59 426.82L160.39 427.67L162.14 428.52L163.79 429.37L165.30 430.18L166.61 430.92L167.72 431.61L168.65 432.26L169.43 432.88L170.11 433.46L170.71 434.00L171.29 434.51L171.79 434.93L172.17 435.25L172.49 435.53L172.78 435.84L173.09 436.26L173.47 436.83L173.92 437.59L174.43 438.46L174.95 439.44L175.47 440.49L175.95 441.58L176.37 442.68L176.72 443.81L177.03 445.01L177.30 446.25L177.55 447.51L177.77 448.76L177.98 449.98L178.16 451.11L178.30 452.16L178.41 453.20L178.52 454.31L178.64 455.58L178.78 457.08L178.96 458.99L179.16 461.28L179.37 463.73L179.57 466.10L179.76 468.16L179.91 469.70L180.03 470.50L180.13 470.72L180.20 470.63L180.27 470.53L180.33 470.70L180.40 471.43L180.47 472.69L180.53 474.24L180.60 476.07L180.66 478.15L180.73 480.46L180.80 482.98L180.88 486.05L180.97 489.74L181.07 493.66L181.16 497.43L181.23 500.64L181.28 502.90" stroke="#0000ff" stroke-width="1.4" fill="none"/>
<path d="M65.30 471.03V420.10" stroke="#ff0000" stroke-width="1.4" fill="none"/>
<path d="M65.62 420.10L65.82 420.35L66.07 420.71L66.37 421.13L66.74 421.56L67.19 421.94L67.72 422.22L68.26 422.42L68.80 422.59L69.42 422.70L70.18 422.76L71.17 422.76L72.47 422.69L74.10 422.53L75.99 422.30L78.11 422.00L80.41 421.65L82.87 421.28L85.45 420.90L88.17 420.49L91.07 420.05L94.12 419.59L97.30 419.10L100.57 418.61L103.91 418.11L107.38 417.60L111.03 417.09L114.78 416.57L118.53 416.03L122.22 415.48L125.75 414.92L129.11 414.38L132.35 413.86L135.52 413.32L138.66 412.74L141.81 412.07L145.01 411.27L148.26 410.30L151.52 409.19L154.78 407.99L158.05 406.76L161.33 405.55L164.60 404.43L167.94 403.39L171.37 402.39L174.80 401.42L178.15 400.45L181.33 399.49L184.27 398.52L186.98 397.49L189.56 396.40L191.97 395.32L194.19 394.28L196.20 393.36L197.97 392.61L199.40 392.04L200.50 391.63L201.38 391.32L202.16 391.08L202.98 390.89L203.93 390.68L205.10 390.49L206.40 390.34L207.73 390.23L208.97 390.15L210.03 390.08L210.78 390.02" stroke="#ff0000" stroke-width="1.4" fill="none"/>
<path d="M65.30 392.01L66.49 392.33L68.11 392.76L70.05 393.27L72.16 393.85L74.33 394.48L76.42 395.13L78.47 395.85L80.58 396.64L82.74 397.47L84.95 398.33L87.20 399.18L89.48 399.98L91.76 400.72L94.02 401.42L96.33 402.10L98.72 402.81L101.26 403.58L103.99 404.43L106.94 405.38L110.07 406.40L113.35 407.47L116.72 408.59L120.14 409.73L123.57 410.87L127.06 412.06L130.65 413.31L134.29 414.58L137.94 415.84L141.53 417.03L145.01 418.11L148.43 419.07L151.82 419.95L155.16 420.77L158.42 421.54L161.58 422.28L164.60 423.02L167.57 423.75L170.52 424.46L173.36 425.14L176.01 425.79L178.39 426.42L180.40 427.00L181.96 427.54L183.14 428.03L184.03 428.49L184.77 428.94L185.45 429.39L186.20 429.86L186.98 430.34L187.70 430.79L188.38 431.26L189.01 431.75L189.63 432.30L190.23 432.91L190.83 433.65L191.42 434.49L191.99 435.38L192.53 436.27L193.02 437.11L193.45 437.83L193.81 438.35L194.10 438.69L194.34 438.98L194.56 439.33L194.79 439.86L195.07 440.68L195.39 441.90L195.73 443.44L196.09 445.15L196.45 446.91L196.78 448.56L197.08 449.98L197.34 451.04L197.56 451.84L197.76 452.54L197.95 453.30L198.15 454.30L198.37 455.69L198.62 457.70L198.90 460.23L199.19 463.00L199.46 465.70L199.70 468.03L199.90 469.70L200.05 470.46L200.15 470.51L200.22 470.19L200.28 469.85L200.33 469.84L200.39 470.50L200.45 471.81L200.51 473.52L200.56 475.54L200.61 477.84L200.66 480.33L200.71 482.98L200.77 486.10L200.83 489.81L200.89 493.72L200.95 497.46L201.00 500.65L201.03 502.90" stroke="#ff0000" stroke-width="1.4" fill="none"/>
<rect x="45.50" y="370.10" width="198.90" height="145.80" fill="none" stroke="#333" stroke-width="1.2"/>
<path d="M45.50 502.90h3.00M45.50 469.70h3.00M45.50 436.50h3.00M45.50 403.30h3.00M45.50 370.10h3.00" stroke="#222" stroke-width="0.9" fill="none"/>
<path d="M45.50 486.30h1.80M45.50 453.10h1.80M45.50 419.90h1.80M45.50 386.70h1.80" stroke="#222" stroke-width="0.9" fill="none"/>
<path d="M65.30 515.90v-3.00M105.60 515.90v-3.00M145.90 515.90v-3.00M186.20 515.90v-3.00M226.50 515.90v-3.00" stroke="#222" stroke-width="0.9" fill="none"/>
<path d="M45.15 515.90v-1.80M85.45 515.90v-1.80M125.75 515.90v-1.80M166.05 515.90v-1.80M206.35 515.90v-1.80M246.65 515.90v-1.80" stroke="#222" stroke-width="0.9" fill="none"/>
<text x="41.60" y="505.40" style="font-family:'Liberation Sans',sans-serif;font-size:7.2px;font-weight:normal" text-anchor="end" fill="#222">2.5</text>
<text x="41.60" y="472.20" style="font-family:'Liberation Sans',sans-serif;font-size:7.2px;font-weight:normal" text-anchor="end" fill="#222">3.0</text>
<text x="41.60" y="439.00" style="font-family:'Liberation Sans',sans-serif;font-size:7.2px;font-weight:normal" text-anchor="end" fill="#222">3.5</text>
<text x="41.60" y="405.80" style="font-family:'Liberation Sans',sans-serif;font-size:7.2px;font-weight:normal" text-anchor="end" fill="#222">4.0</text>
<text x="41.60" y="372.60" style="font-family:'Liberation Sans',sans-serif;font-size:7.2px;font-weight:normal" text-anchor="end" fill="#222">4.5</text>
<text x="65.30" y="524.40" style="font-family:'Liberation Sans',sans-serif;font-size:6.2px;font-weight:normal" text-anchor="middle" fill="#222">0</text>
<text x="105.60" y="524.40" style="font-family:'Liberation Sans',sans-serif;font-size:6.2px;font-weight:normal" text-anchor="middle" fill="#222">50</text>
<text x="145.90" y="524.40" style="font-family:'Liberation Sans',sans-serif;font-size:6.2px;font-weight:normal" text-anchor="middle" fill="#222">100</text>
<text x="186.20" y="524.40" style="font-family:'Liberation Sans',sans-serif;font-size:6.2px;font-weight:normal" text-anchor="middle" fill="#222">150</text>
<text x="226.50" y="524.40" style="font-family:'Liberation Sans',sans-serif;font-size:6.2px;font-weight:normal" text-anchor="middle" fill="#222">200</text>
<path d="M73.5 487.2H89.8" stroke="#2020ff" stroke-width="1.3"/>
<path d="M73.5 496.6H89.8" stroke="#ff2020" stroke-width="1.3"/>
<text x="91.80" y="490.00" style="font-family:'Liberation Sans',sans-serif;font-size:7.8px;font-weight:normal" text-anchor="start" fill="#222">Li</text>
<text x="91.80" y="499.40" style="font-family:'Liberation Sans',sans-serif;font-size:7.8px;font-weight:normal" text-anchor="start" fill="#222" textLength="31.80" lengthAdjust="spacingAndGlyphs">Li<tspan font-size="4.2" dy="1.8">0.98</tspan><tspan dy="-1.8">Sn</tspan><tspan font-size="4.2" dy="1.8">0.02</tspan></text>
<text x="81.30" y="538.50" style="font-family:'Liberation Serif',serif;font-size:12px;font-weight:normal" text-anchor="start" fill="#222" textLength="141.00" lengthAdjust="spacingAndGlyphs">Discharge capacity (mAh g<tspan font-size="6.5" dy="-4">-1</tspan><tspan dy="4">)</tspan></text>
<text x="23.00" y="469.70" style="font-family:'Liberation Serif',serif;font-size:10.2px;font-weight:normal" text-anchor="start" fill="#222" transform="rotate(-90 23.00 469.70)" textLength="47.90" lengthAdjust="spacingAndGlyphs">Voltage (V)</text>
<text x="9.80" y="368.30" style="font-family:'Liberation Serif',serif;font-size:18.8px;font-weight:normal" text-anchor="start" fill="#111">(e)</text>
<circle cx="282.82" cy="411.58" r="1.75" fill="#fff" stroke="#ff0000" stroke-width="0.9"/><path d="M282.82 409.38A2.20 2.20 0 0 1 282.82 413.78Z" fill="#ff0000"/><circle cx="285.04" cy="392.99" r="1.75" fill="#fff" stroke="#ff0000" stroke-width="0.9"/><path d="M285.04 390.79A2.20 2.20 0 0 1 285.04 395.19Z" fill="#ff0000"/><circle cx="287.26" cy="393.97" r="1.75" fill="#fff" stroke="#ff0000" stroke-width="0.9"/><path d="M287.26 391.77A2.20 2.20 0 0 1 287.26 396.17Z" fill="#ff0000"/><circle cx="289.48" cy="395.93" r="1.75" fill="#fff" stroke="#ff0000" stroke-width="0.9"/><path d="M289.48 393.73A2.20 2.20 0 0 1 289.48 398.13Z" fill="#ff0000"/><circle cx="291.70" cy="400.17" r="1.75" fill="#fff" stroke="#ff0000" stroke-width="0.9"/><path d="M291.70 397.97A2.20 2.20 0 0 1 291.70 402.37Z" fill="#ff0000"/><circle cx="293.91" cy="400.82" r="1.75" fill="#fff" stroke="#ff0000" stroke-width="0.9"/><path d="M293.91 398.62A2.20 2.20 0 0 1 293.91 403.02Z" fill="#ff0000"/><circle cx="296.13" cy="401.47" r="1.75" fill="#fff" stroke="#ff0000" stroke-width="0.9"/><path d="M296.13 399.27A2.20 2.20 0 0 1 296.13 403.67Z" fill="#ff0000"/><circle cx="298.35" cy="404.40" r="1.75" fill="#fff" stroke="#ff0000" stroke-width="0.9"/><path d="M298.35 402.20A2.20 2.20 0 0 1 298.35 406.60Z" fill="#ff0000"/><circle cx="300.57" cy="404.73" r="1.75" fill="#fff" stroke="#ff0000" stroke-width="0.9"/><path d="M300.57 402.53A2.20 2.20 0 0 1 300.57 406.93Z" fill="#ff0000"/><circle cx="302.79" cy="402.12" r="1.75" fill="#fff" stroke="#ff0000" stroke-width="0.9"/><path d="M302.79 399.92A2.20 2.20 0 0 1 302.79 404.32Z" fill="#ff0000"/><circle cx="305.01" cy="400.82" r="1.75" fill="#fff" stroke="#ff0000" stroke-width="0.9"/><path d="M305.01 398.62A2.20 2.20 0 0 1 305.01 403.02Z" fill="#ff0000"/><circle cx="307.23" cy="402.45" r="1.75" fill="#fff" stroke="#ff0000" stroke-width="0.9"/><path d="M307.23 400.25A2.20 2.20 0 0 1 307.23 404.65Z" fill="#ff0000"/><circle cx="309.45" cy="405.46" r="1.75" fill="#fff" stroke="#ff0000" stroke-width="0.9"/><path d="M309.45 403.26A2.20 2.20 0 0 1 309.45 407.66Z" fill="#ff0000"/><circle cx="311.67" cy="405.27" r="1.75" fill="#fff" stroke="#ff0000" stroke-width="0.9"/><path d="M311.67 403.07A2.20 2.20 0 0 1 311.67 407.47Z" fill="#ff0000"/><circle cx="313.88" cy="406.65" r="1.75" fill="#fff" stroke="#ff0000" stroke-width="0.9"/><path d="M313.88 404.45A2.20 2.20 0 0 1 313.88 408.85Z" fill="#ff0000"/><circle cx="316.10" cy="405.96" r="1.75" fill="#fff" stroke="#ff0000" stroke-width="0.9"/><path d="M316.10 403.76A2.20 2.20 0 0 1 316.10 408.16Z" fill="#ff0000"/><circle cx="318.32" cy="404.69" r="1.75" fill="#fff" stroke="#ff0000" stroke-width="0.9"/><path d="M318.32 402.49A2.20 2.20 0 0 1 318.32 406.89Z" fill="#ff0000"/><circle cx="320.54" cy="404.61" r="1.75" fill="#fff" stroke="#ff0000" stroke-width="0.9"/><path d="M320.54 402.41A2.20 2.20 0 0 1 320.54 406.81Z" fill="#ff0000"/><circle cx="322.76" cy="405.08" r="1.75" fill="#fff" stroke="#ff0000" stroke-width="0.9"/><path d="M322.76 402.88A2.20 2.20 0 0 1 322.76 407.28Z" fill="#ff0000"/><circle cx="324.98" cy="406.68" r="1.75" fill="#fff" stroke="#ff0000" stroke-width="0.9"/><path d="M324.98 404.48A2.20 2.20 0 0 1 324.98 408.88Z" fill="#ff0000"/><circle cx="327.20" cy="406.14" r="1.75" fill="#fff" stroke="#ff0000" stroke-width="0.9"/><path d="M327.20 403.94A2.20 2.20 0 0 1 327.20 408.34Z" fill="#ff0000"/><circle cx="329.42" cy="404.12" r="1.75" fill="#fff" stroke="#ff0000" stroke-width="0.9"/><path d="M329.42 401.92A2.20 2.20 0 0 1 329.42 406.32Z" fill="#ff0000"/><circle cx="331.64" cy="405.93" r="1.75" fill="#fff" stroke="#ff0000" stroke-width="0.9"/><path d="M331.64 403.73A2.20 2.20 0 0 1 331.64 408.13Z" fill="#ff0000"/><circle cx="333.86" cy="405.28" r="1.75" fill="#fff" stroke="#ff0000" stroke-width="0.9"/><path d="M333.86 403.08A2.20 2.20 0 0 1 333.86 407.48Z" fill="#ff0000"/><circle cx="336.08" cy="406.15" r="1.75" fill="#fff" stroke="#ff0000" stroke-width="0.9"/><path d="M336.08 403.95A2.20 2.20 0 0 1 336.08 408.35Z" fill="#ff0000"/><circle cx="338.29" cy="404.88" r="1.75" fill="#fff" stroke="#ff0000" stroke-width="0.9"/><path d="M338.29 402.68A2.20 2.20 0 0 1 338.29 407.08Z" fill="#ff0000"/><circle cx="340.51" cy="404.17" r="1.75" fill="#fff" stroke="#ff0000" stroke-width="0.9"/><path d="M340.51 401.97A2.20 2.20 0 0 1 340.51 406.37Z" fill="#ff0000"/><circle cx="342.73" cy="404.36" r="1.75" fill="#fff" stroke="#ff0000" stroke-width="0.9"/><path d="M342.73 402.16A2.20 2.20 0 0 1 342.73 406.56Z" fill="#ff0000"/><circle cx="344.95" cy="402.06" r="1.75" fill="#fff" stroke="#ff0000" stroke-width="0.9"/><path d="M344.95 399.86A2.20 2.20 0 0 1 344.95 404.26Z" fill="#ff0000"/><circle cx="347.17" cy="402.67" r="1.75" fill="#fff" stroke="#ff0000" stroke-width="0.9"/><path d="M347.17 400.47A2.20 2.20 0 0 1 347.17 404.87Z" fill="#ff0000"/><circle cx="349.39" cy="403.13" r="1.75" fill="#fff" stroke="#ff0000" stroke-width="0.9"/><path d="M349.39 400.93A2.20 2.20 0 0 1 349.39 405.33Z" fill="#ff0000"/><circle cx="351.61" cy="400.67" r="1.75" fill="#fff" stroke="#ff0000" stroke-width="0.9"/><path d="M351.61 398.47A2.20 2.20 0 0 1 351.61 402.87Z" fill="#ff0000"/><circle cx="353.83" cy="400.33" r="1.75" fill="#fff" stroke="#ff0000" stroke-width="0.9"/><path d="M353.83 398.13A2.20 2.20 0 0 1 353.83 402.53Z" fill="#ff0000"/><circle cx="356.05" cy="402.01" r="1.75" fill="#fff" stroke="#ff0000" stroke-width="0.9"/><path d="M356.05 399.81A2.20 2.20 0 0 1 356.05 404.21Z" fill="#ff0000"/><circle cx="358.26" cy="401.23" r="1.75" fill="#fff" stroke="#ff0000" stroke-width="0.9"/><path d="M358.26 399.03A2.20 2.20 0 0 1 358.26 403.43Z" fill="#ff0000"/><circle cx="360.48" cy="401.23" r="1.75" fill="#fff" stroke="#ff0000" stroke-width="0.9"/><path d="M360.48 399.03A2.20 2.20 0 0 1 360.48 403.43Z" fill="#ff0000"/><circle cx="362.70" cy="403.17" r="1.75" fill="#fff" stroke="#ff0000" stroke-width="0.9"/><path d="M362.70 400.97A2.20 2.20 0 0 1 362.70 405.37Z" fill="#ff0000"/><circle cx="364.92" cy="403.32" r="1.75" fill="#fff" stroke="#ff0000" stroke-width="0.9"/><path d="M364.92 401.12A2.20 2.20 0 0 1 364.92 405.52Z" fill="#ff0000"/><circle cx="367.14" cy="399.57" r="1.75" fill="#fff" stroke="#ff0000" stroke-width="0.9"/><path d="M367.14 397.37A2.20 2.20 0 0 1 367.14 401.77Z" fill="#ff0000"/><circle cx="369.36" cy="399.83" r="1.75" fill="#fff" stroke="#ff0000" stroke-width="0.9"/><path d="M369.36 397.63A2.20 2.20 0 0 1 369.36 402.03Z" fill="#ff0000"/><circle cx="371.58" cy="400.79" r="1.75" fill="#fff" stroke="#ff0000" stroke-width="0.9"/><path d="M371.58 398.59A2.20 2.20 0 0 1 371.58 402.99Z" fill="#ff0000"/><circle cx="373.80" cy="403.21" r="1.75" fill="#fff" stroke="#ff0000" stroke-width="0.9"/><path d="M373.80 401.01A2.20 2.20 0 0 1 373.80 405.41Z" fill="#ff0000"/><circle cx="376.02" cy="399.07" r="1.75" fill="#fff" stroke="#ff0000" stroke-width="0.9"/><path d="M376.02 396.87A2.20 2.20 0 0 1 376.02 401.27Z" fill="#ff0000"/><circle cx="378.24" cy="399.98" r="1.75" fill="#fff" stroke="#ff0000" stroke-width="0.9"/><path d="M378.24 397.78A2.20 2.20 0 0 1 378.24 402.18Z" fill="#ff0000"/><circle cx="380.46" cy="399.13" r="1.75" fill="#fff" stroke="#ff0000" stroke-width="0.9"/><path d="M380.46 396.93A2.20 2.20 0 0 1 380.46 401.33Z" fill="#ff0000"/><circle cx="382.67" cy="401.81" r="1.75" fill="#fff" stroke="#ff0000" stroke-width="0.9"/><path d="M382.67 399.61A2.20 2.20 0 0 1 382.67 404.01Z" fill="#ff0000"/><circle cx="384.89" cy="399.89" r="1.75" fill="#fff" stroke="#ff0000" stroke-width="0.9"/><path d="M384.89 397.69A2.20 2.20 0 0 1 384.89 402.09Z" fill="#ff0000"/><circle cx="387.11" cy="400.01" r="1.75" fill="#fff" stroke="#ff0000" stroke-width="0.9"/><path d="M387.11 397.81A2.20 2.20 0 0 1 387.11 402.21Z" fill="#ff0000"/><circle cx="389.33" cy="399.50" r="1.75" fill="#fff" stroke="#ff0000" stroke-width="0.9"/><path d="M389.33 397.30A2.20 2.20 0 0 1 389.33 401.70Z" fill="#ff0000"/><circle cx="391.55" cy="399.11" r="1.75" fill="#fff" stroke="#ff0000" stroke-width="0.9"/><path d="M391.55 396.91A2.20 2.20 0 0 1 391.55 401.31Z" fill="#ff0000"/><circle cx="393.77" cy="401.87" r="1.75" fill="#fff" stroke="#ff0000" stroke-width="0.9"/><path d="M393.77 399.67A2.20 2.20 0 0 1 393.77 404.07Z" fill="#ff0000"/><circle cx="395.99" cy="399.24" r="1.75" fill="#fff" stroke="#ff0000" stroke-width="0.9"/><path d="M395.99 397.04A2.20 2.20 0 0 1 395.99 401.44Z" fill="#ff0000"/><circle cx="398.21" cy="399.21" r="1.75" fill="#fff" stroke="#ff0000" stroke-width="0.9"/><path d="M398.21 397.01A2.20 2.20 0 0 1 398.21 401.41Z" fill="#ff0000"/><circle cx="400.43" cy="402.00" r="1.75" fill="#fff" stroke="#ff0000" stroke-width="0.9"/><path d="M400.43 399.80A2.20 2.20 0 0 1 400.43 404.20Z" fill="#ff0000"/><circle cx="402.64" cy="402.62" r="1.75" fill="#fff" stroke="#ff0000" stroke-width="0.9"/><path d="M402.64 400.42A2.20 2.20 0 0 1 402.64 404.82Z" fill="#ff0000"/><circle cx="404.86" cy="402.75" r="1.75" fill="#fff" stroke="#ff0000" stroke-width="0.9"/><path d="M404.86 400.55A2.20 2.20 0 0 1 404.86 404.95Z" fill="#ff0000"/><circle cx="407.08" cy="398.88" r="1.75" fill="#fff" stroke="#ff0000" stroke-width="0.9"/><path d="M407.08 396.68A2.20 2.20 0 0 1 407.08 401.08Z" fill="#ff0000"/><circle cx="409.30" cy="403.20" r="1.75" fill="#fff" stroke="#ff0000" stroke-width="0.9"/><path d="M409.30 401.00A2.20 2.20 0 0 1 409.30 405.40Z" fill="#ff0000"/><circle cx="411.52" cy="400.99" r="1.75" fill="#fff" stroke="#ff0000" stroke-width="0.9"/><path d="M411.52 398.79A2.20 2.20 0 0 1 411.52 403.19Z" fill="#ff0000"/><circle cx="413.74" cy="402.34" r="1.75" fill="#fff" stroke="#ff0000" stroke-width="0.9"/><path d="M413.74 400.14A2.20 2.20 0 0 1 413.74 404.54Z" fill="#ff0000"/><circle cx="415.96" cy="399.65" r="1.75" fill="#fff" stroke="#ff0000" stroke-width="0.9"/><path d="M415.96 397.45A2.20 2.20 0 0 1 415.96 401.85Z" fill="#ff0000"/><circle cx="418.18" cy="401.50" r="1.75" fill="#fff" stroke="#ff0000" stroke-width="0.9"/><path d="M418.18 399.30A2.20 2.20 0 0 1 418.18 403.70Z" fill="#ff0000"/><circle cx="420.40" cy="399.25" r="1.75" fill="#fff" stroke="#ff0000" stroke-width="0.9"/><path d="M420.40 397.05A2.20 2.20 0 0 1 420.40 401.45Z" fill="#ff0000"/><circle cx="422.62" cy="401.17" r="1.75" fill="#fff" stroke="#ff0000" stroke-width="0.9"/><path d="M422.62 398.97A2.20 2.20 0 0 1 422.62 403.37Z" fill="#ff0000"/><circle cx="424.84" cy="402.83" r="1.75" fill="#fff" stroke="#ff0000" stroke-width="0.9"/><path d="M424.84 400.63A2.20 2.20 0 0 1 424.84 405.03Z" fill="#ff0000"/><circle cx="427.05" cy="399.09" r="1.75" fill="#fff" stroke="#ff0000" stroke-width="0.9"/><path d="M427.05 396.89A2.20 2.20 0 0 1 427.05 401.29Z" fill="#ff0000"/><circle cx="429.27" cy="399.83" r="1.75" fill="#fff" stroke="#ff0000" stroke-width="0.9"/><path d="M429.27 397.63A2.20 2.20 0 0 1 429.27 402.03Z" fill="#ff0000"/><circle cx="431.49" cy="401.44" r="1.75" fill="#fff" stroke="#ff0000" stroke-width="0.9"/><path d="M431.49 399.24A2.20 2.20 0 0 1 431.49 403.64Z" fill="#ff0000"/><circle cx="433.71" cy="399.57" r="1.75" fill="#fff" stroke="#ff0000" stroke-width="0.9"/><path d="M433.71 397.37A2.20 2.20 0 0 1 433.71 401.77Z" fill="#ff0000"/><circle cx="435.93" cy="401.36" r="1.75" fill="#fff" stroke="#ff0000" stroke-width="0.9"/><path d="M435.93 399.16A2.20 2.20 0 0 1 435.93 403.56Z" fill="#ff0000"/><circle cx="438.15" cy="399.54" r="1.75" fill="#fff" stroke="#ff0000" stroke-width="0.9"/><path d="M438.15 397.34A2.20 2.20 0 0 1 438.15 401.74Z" fill="#ff0000"/><circle cx="440.37" cy="401.36" r="1.75" fill="#fff" stroke="#ff0000" stroke-width="0.9"/><path d="M440.37 399.16A2.20 2.20 0 0 1 440.37 403.56Z" fill="#ff0000"/><circle cx="442.59" cy="400.10" r="1.75" fill="#fff" stroke="#ff0000" stroke-width="0.9"/><path d="M442.59 397.90A2.20 2.20 0 0 1 442.59 402.30Z" fill="#ff0000"/><circle cx="444.81" cy="402.10" r="1.75" fill="#fff" stroke="#ff0000" stroke-width="0.9"/><path d="M444.81 399.90A2.20 2.20 0 0 1 444.81 404.30Z" fill="#ff0000"/><circle cx="447.02" cy="402.76" r="1.75" fill="#fff" stroke="#ff0000" stroke-width="0.9"/><path d="M447.02 400.56A2.20 2.20 0 0 1 447.02 404.96Z" fill="#ff0000"/><circle cx="449.24" cy="398.91" r="1.75" fill="#fff" stroke="#ff0000" stroke-width="0.9"/><path d="M449.24 396.71A2.20 2.20 0 0 1 449.24 401.11Z" fill="#ff0000"/><circle cx="451.46" cy="400.56" r="1.75" fill="#fff" stroke="#ff0000" stroke-width="0.9"/><path d="M451.46 398.36A2.20 2.20 0 0 1 451.46 402.76Z" fill="#ff0000"/><circle cx="453.68" cy="401.88" r="1.75" fill="#fff" stroke="#ff0000" stroke-width="0.9"/><path d="M453.68 399.68A2.20 2.20 0 0 1 453.68 404.08Z" fill="#ff0000"/><circle cx="455.90" cy="402.18" r="1.75" fill="#fff" stroke="#ff0000" stroke-width="0.9"/><path d="M455.90 399.98A2.20 2.20 0 0 1 455.90 404.38Z" fill="#ff0000"/><circle cx="458.12" cy="399.47" r="1.75" fill="#fff" stroke="#ff0000" stroke-width="0.9"/><path d="M458.12 397.27A2.20 2.20 0 0 1 458.12 401.67Z" fill="#ff0000"/><circle cx="460.34" cy="399.84" r="1.75" fill="#fff" stroke="#ff0000" stroke-width="0.9"/><path d="M460.34 397.64A2.20 2.20 0 0 1 460.34 402.04Z" fill="#ff0000"/><circle cx="462.56" cy="400.26" r="1.75" fill="#fff" stroke="#ff0000" stroke-width="0.9"/><path d="M462.56 398.06A2.20 2.20 0 0 1 462.56 402.46Z" fill="#ff0000"/><circle cx="464.78" cy="399.96" r="1.75" fill="#fff" stroke="#ff0000" stroke-width="0.9"/><path d="M464.78 397.76A2.20 2.20 0 0 1 464.78 402.16Z" fill="#ff0000"/><circle cx="467.00" cy="400.21" r="1.75" fill="#fff" stroke="#ff0000" stroke-width="0.9"/><path d="M467.00 398.01A2.20 2.20 0 0 1 467.00 402.41Z" fill="#ff0000"/><circle cx="469.22" cy="401.21" r="1.75" fill="#fff" stroke="#ff0000" stroke-width="0.9"/><path d="M469.22 399.01A2.20 2.20 0 0 1 469.22 403.41Z" fill="#ff0000"/><circle cx="471.43" cy="400.27" r="1.75" fill="#fff" stroke="#ff0000" stroke-width="0.9"/><path d="M471.43 398.07A2.20 2.20 0 0 1 471.43 402.47Z" fill="#ff0000"/><circle cx="473.65" cy="399.11" r="1.75" fill="#fff" stroke="#ff0000" stroke-width="0.9"/><path d="M473.65 396.91A2.20 2.20 0 0 1 473.65 401.31Z" fill="#ff0000"/><circle cx="475.87" cy="400.78" r="1.75" fill="#fff" stroke="#ff0000" stroke-width="0.9"/><path d="M475.87 398.58A2.20 2.20 0 0 1 475.87 402.98Z" fill="#ff0000"/><circle cx="478.09" cy="400.93" r="1.75" fill="#fff" stroke="#ff0000" stroke-width="0.9"/><path d="M478.09 398.73A2.20 2.20 0 0 1 478.09 403.13Z" fill="#ff0000"/><circle cx="480.31" cy="400.36" r="1.75" fill="#fff" stroke="#ff0000" stroke-width="0.9"/><path d="M480.31 398.16A2.20 2.20 0 0 1 480.31 402.56Z" fill="#ff0000"/><polygon points="282.82,480.72 283.53,482.64 285.58,482.73 283.98,484.00 284.52,485.97 282.82,484.84 281.11,485.97 281.66,484.00 280.06,482.73 282.10,482.64" fill="#0000ff"/><polygon points="285.04,393.77 285.75,395.68 287.80,395.77 286.20,397.04 286.74,399.01 285.04,397.88 283.33,399.01 283.88,397.04 282.28,395.77 284.32,395.68" fill="#0000ff"/><polygon points="287.26,393.53 287.97,395.45 290.02,395.54 288.42,396.81 288.96,398.78 287.26,397.65 285.55,398.78 286.10,396.81 284.50,395.54 286.54,395.45" fill="#0000ff"/><polygon points="289.48,393.43 290.19,395.34 292.23,395.43 290.63,396.70 291.18,398.67 289.48,397.55 287.77,398.67 288.32,396.70 286.72,395.43 288.76,395.34" fill="#0000ff"/><polygon points="291.70,395.50 292.41,397.41 294.45,397.50 292.85,398.77 293.40,400.74 291.70,399.62 289.99,400.74 290.54,398.77 288.94,397.50 290.98,397.41" fill="#0000ff"/><polygon points="293.91,396.16 294.63,398.07 296.67,398.16 295.07,399.43 295.62,401.40 293.91,400.28 292.21,401.40 292.76,399.43 291.16,398.16 293.20,398.07" fill="#0000ff"/><polygon points="296.13,395.56 296.85,397.48 298.89,397.57 297.29,398.84 297.84,400.81 296.13,399.68 294.43,400.81 294.97,398.84 293.37,397.57 295.42,397.48" fill="#0000ff"/><polygon points="298.35,398.48 299.07,400.39 301.11,400.48 299.51,401.75 300.06,403.72 298.35,402.59 296.65,403.72 297.19,401.75 295.59,400.48 297.64,400.39" fill="#0000ff"/><polygon points="300.57,397.05 301.29,398.97 303.33,399.06 301.73,400.33 302.28,402.30 300.57,401.17 298.87,402.30 299.41,400.33 297.81,399.06 299.86,398.97" fill="#0000ff"/><polygon points="302.79,395.49 303.51,397.41 305.55,397.50 303.95,398.77 304.49,400.74 302.79,399.61 301.09,400.74 301.63,398.77 300.03,397.50 302.07,397.41" fill="#0000ff"/><polygon points="305.01,396.45 305.72,398.37 307.77,398.46 306.17,399.73 306.71,401.70 305.01,400.57 303.30,401.70 303.85,399.73 302.25,398.46 304.29,398.37" fill="#0000ff"/><polygon points="307.23,395.63 307.94,397.55 309.99,397.64 308.39,398.91 308.93,400.88 307.23,399.75 305.52,400.88 306.07,398.91 304.47,397.64 306.51,397.55" fill="#0000ff"/><polygon points="309.45,398.20 310.16,400.12 312.21,400.20 310.61,401.48 311.15,403.45 309.45,402.32 307.74,403.45 308.29,401.48 306.69,400.20 308.73,400.12" fill="#0000ff"/><polygon points="311.67,397.77 312.38,399.68 314.42,399.77 312.82,401.04 313.37,403.01 311.67,401.88 309.96,403.01 310.51,401.04 308.91,399.77 310.95,399.68" fill="#0000ff"/><polygon points="313.88,396.70 314.60,398.61 316.64,398.70 315.04,399.98 315.59,401.95 313.88,400.82 312.18,401.95 312.73,399.98 311.13,398.70 313.17,398.61" fill="#0000ff"/><polygon points="316.10,397.86 316.82,399.78 318.86,399.87 317.26,401.14 317.81,403.11 316.10,401.98 314.40,403.11 314.95,401.14 313.35,399.87 315.39,399.78" fill="#0000ff"/><polygon points="318.32,395.58 319.04,397.50 321.08,397.59 319.48,398.86 320.03,400.83 318.32,399.70 316.62,400.83 317.16,398.86 315.56,397.59 317.61,397.50" fill="#0000ff"/><polygon points="320.54,398.05 321.26,399.96 323.30,400.05 321.70,401.33 322.25,403.30 320.54,402.17 318.84,403.30 319.38,401.33 317.78,400.05 319.83,399.96" fill="#0000ff"/><polygon points="322.76,398.12 323.48,400.03 325.52,400.12 323.92,401.39 324.47,403.36 322.76,402.24 321.06,403.36 321.60,401.39 320.00,400.12 322.05,400.03" fill="#0000ff"/><polygon points="324.98,398.16 325.70,400.07 327.74,400.16 326.14,401.43 326.68,403.40 324.98,402.27 323.28,403.40 323.82,401.43 322.22,400.16 324.26,400.07" fill="#0000ff"/><polygon points="327.20,395.73 327.91,397.64 329.96,397.73 328.36,399.01 328.90,400.98 327.20,399.85 325.49,400.98 326.04,399.01 324.44,397.73 326.48,397.64" fill="#0000ff"/><polygon points="329.42,397.87 330.13,399.78 332.18,399.87 330.58,401.14 331.12,403.11 329.42,401.99 327.71,403.11 328.26,401.14 326.66,399.87 328.70,399.78" fill="#0000ff"/><polygon points="331.64,395.73 332.35,397.64 334.40,397.73 332.80,399.00 333.34,400.97 331.64,399.84 329.93,400.97 330.48,399.00 328.88,397.73 330.92,397.64" fill="#0000ff"/><polygon points="333.86,395.44 334.57,397.35 336.61,397.44 335.01,398.71 335.56,400.68 333.86,399.55 332.15,400.68 332.70,398.71 331.10,397.44 333.14,397.35" fill="#0000ff"/><polygon points="336.08,396.36 336.79,398.27 338.83,398.36 337.23,399.64 337.78,401.61 336.08,400.48 334.37,401.61 334.92,399.64 333.32,398.36 335.36,398.27" fill="#0000ff"/><polygon points="338.29,395.50 339.01,397.42 341.05,397.51 339.45,398.78 340.00,400.75 338.29,399.62 336.59,400.75 337.14,398.78 335.54,397.51 337.58,397.42" fill="#0000ff"/><polygon points="340.51,401.83 341.23,403.74 343.27,403.83 341.67,405.11 342.22,407.08 340.51,405.95 338.81,407.08 339.35,405.11 337.75,403.83 339.80,403.74" fill="#0000ff"/><polygon points="342.73,406.72 343.45,408.63 345.49,408.72 343.89,410.00 344.44,411.97 342.73,410.84 341.03,411.97 341.57,410.00 339.97,408.72 342.02,408.63" fill="#0000ff"/><polygon points="344.95,418.46 345.67,420.37 347.71,420.46 346.11,421.73 346.66,423.70 344.95,422.57 343.25,423.70 343.79,421.73 342.19,420.46 344.24,420.37" fill="#0000ff"/><polygon points="347.17,398.14 347.89,400.05 349.93,400.14 348.33,401.41 348.87,403.38 347.17,402.25 345.47,403.38 346.01,401.41 344.41,400.14 346.45,400.05" fill="#0000ff"/><polygon points="349.39,398.98 350.10,400.89 352.15,400.98 350.55,402.25 351.09,404.22 349.39,403.10 347.68,404.22 348.23,402.25 346.63,400.98 348.67,400.89" fill="#0000ff"/><polygon points="351.61,398.37 352.32,400.28 354.37,400.37 352.77,401.65 353.31,403.62 351.61,402.49 349.90,403.62 350.45,401.65 348.85,400.37 350.89,400.28" fill="#0000ff"/><polygon points="353.83,399.53 354.54,401.45 356.59,401.54 354.99,402.81 355.53,404.78 353.83,403.65 352.12,404.78 352.67,402.81 351.07,401.54 353.11,401.45" fill="#0000ff"/><polygon points="356.05,398.23 356.76,400.14 358.80,400.23 357.20,401.50 357.75,403.47 356.05,402.34 354.34,403.47 354.89,401.50 353.29,400.23 355.33,400.14" fill="#0000ff"/><polygon points="358.26,396.35 358.98,398.26 361.02,398.35 359.42,399.62 359.97,401.59 358.26,400.46 356.56,401.59 357.11,399.62 355.51,398.35 357.55,398.26" fill="#0000ff"/><polygon points="360.48,398.31 361.20,400.23 363.24,400.32 361.64,401.59 362.19,403.56 360.48,402.43 358.78,403.56 359.33,401.59 357.73,400.32 359.77,400.23" fill="#0000ff"/><polygon points="362.70,396.79 363.42,398.71 365.46,398.80 363.86,400.07 364.41,402.04 362.70,400.91 361.00,402.04 361.54,400.07 359.94,398.80 361.99,398.71" fill="#0000ff"/><polygon points="364.92,395.73 365.64,397.65 367.68,397.74 366.08,399.01 366.63,400.98 364.92,399.85 363.22,400.98 363.76,399.01 362.16,397.74 364.21,397.65" fill="#0000ff"/><polygon points="367.14,396.61 367.86,398.53 369.90,398.62 368.30,399.89 368.85,401.86 367.14,400.73 365.44,401.86 365.98,399.89 364.38,398.62 366.43,398.53" fill="#0000ff"/><polygon points="369.36,399.48 370.08,401.39 372.12,401.48 370.52,402.75 371.06,404.72 369.36,403.60 367.66,404.72 368.20,402.75 366.60,401.48 368.64,401.39" fill="#0000ff"/><polygon points="371.58,398.12 372.29,400.03 374.34,400.12 372.74,401.39 373.28,403.36 371.58,402.23 369.87,403.36 370.42,401.39 368.82,400.12 370.86,400.03" fill="#0000ff"/><polygon points="373.80,399.51 374.51,401.43 376.56,401.52 374.96,402.79 375.50,404.76 373.80,403.63 372.09,404.76 372.64,402.79 371.04,401.52 373.08,401.43" fill="#0000ff"/><polygon points="376.02,398.84 376.73,400.75 378.78,400.84 377.18,402.12 377.72,404.09 376.02,402.96 374.31,404.09 374.86,402.12 373.26,400.84 375.30,400.75" fill="#0000ff"/><polygon points="378.24,398.78 378.95,400.69 380.99,400.78 379.39,402.06 379.94,404.03 378.24,402.90 376.53,404.03 377.08,402.06 375.48,400.78 377.52,400.69" fill="#0000ff"/><polygon points="380.46,395.91 381.17,397.83 383.21,397.92 381.61,399.19 382.16,401.16 380.46,400.03 378.75,401.16 379.30,399.19 377.70,397.92 379.74,397.83" fill="#0000ff"/><polygon points="382.67,398.20 383.39,400.12 385.43,400.20 383.83,401.48 384.38,403.45 382.67,402.32 380.97,403.45 381.52,401.48 379.92,400.20 381.96,400.12" fill="#0000ff"/><polygon points="384.89,397.50 385.61,399.41 387.65,399.50 386.05,400.77 386.60,402.74 384.89,401.61 383.19,402.74 383.73,400.77 382.13,399.50 384.18,399.41" fill="#0000ff"/><polygon points="387.11,399.13 387.83,401.04 389.87,401.13 388.27,402.40 388.82,404.37 387.11,403.24 385.41,404.37 385.95,402.40 384.35,401.13 386.40,401.04" fill="#0000ff"/><polygon points="389.33,396.43 390.05,398.34 392.09,398.43 390.49,399.71 391.04,401.68 389.33,400.55 387.63,401.68 388.17,399.71 386.57,398.43 388.62,398.34" fill="#0000ff"/><polygon points="391.55,399.40 392.27,401.32 394.31,401.41 392.71,402.68 393.25,404.65 391.55,403.52 389.85,404.65 390.39,402.68 388.79,401.41 390.83,401.32" fill="#0000ff"/><polygon points="393.77,399.19 394.48,401.11 396.53,401.20 394.93,402.47 395.47,404.44 393.77,403.31 392.06,404.44 392.61,402.47 391.01,401.20 393.05,401.11" fill="#0000ff"/><polygon points="395.99,397.16 396.70,399.07 398.75,399.16 397.15,400.43 397.69,402.40 395.99,401.28 394.28,402.40 394.83,400.43 393.23,399.16 395.27,399.07" fill="#0000ff"/><polygon points="398.21,398.22 398.92,400.13 400.97,400.22 399.37,401.49 399.91,403.46 398.21,402.34 396.50,403.46 397.05,401.49 395.45,400.22 397.49,400.13" fill="#0000ff"/><polygon points="400.43,397.42 401.14,399.33 403.18,399.42 401.58,400.69 402.13,402.66 400.43,401.53 398.72,402.66 399.27,400.69 397.67,399.42 399.71,399.33" fill="#0000ff"/><polygon points="402.64,398.31 403.36,400.22 405.40,400.31 403.80,401.59 404.35,403.55 402.64,402.43 400.94,403.55 401.49,401.59 399.89,400.31 401.93,400.22" fill="#0000ff"/><polygon points="404.86,399.24 405.58,401.16 407.62,401.25 406.02,402.52 406.57,404.49 404.86,403.36 403.16,404.49 403.71,402.52 402.11,401.25 404.15,401.16" fill="#0000ff"/><polygon points="407.08,396.85 407.80,398.77 409.84,398.86 408.24,400.13 408.79,402.10 407.08,400.97 405.38,402.10 405.92,400.13 404.32,398.86 406.37,398.77" fill="#0000ff"/><polygon points="409.30,398.92 410.02,400.83 412.06,400.92 410.46,402.19 411.01,404.16 409.30,403.03 407.60,404.16 408.14,402.19 406.54,400.92 408.59,400.83" fill="#0000ff"/><polygon points="411.52,395.69 412.24,397.60 414.28,397.69 412.68,398.96 413.23,400.93 411.52,399.81 409.82,400.93 410.36,398.96 408.76,397.69 410.81,397.60" fill="#0000ff"/><polygon points="413.74,397.96 414.46,399.87 416.50,399.96 414.90,401.24 415.44,403.21 413.74,402.08 412.04,403.21 412.58,401.24 410.98,399.96 413.02,399.87" fill="#0000ff"/><polygon points="415.96,397.22 416.67,399.14 418.72,399.23 417.12,400.50 417.66,402.47 415.96,401.34 414.25,402.47 414.80,400.50 413.20,399.23 415.24,399.14" fill="#0000ff"/><polygon points="418.18,397.77 418.89,399.68 420.94,399.77 419.34,401.04 419.88,403.01 418.18,401.88 416.47,403.01 417.02,401.04 415.42,399.77 417.46,399.68" fill="#0000ff"/><polygon points="420.40,399.33 421.11,401.24 423.16,401.33 421.56,402.61 422.10,404.58 420.40,403.45 418.69,404.58 419.24,402.61 417.64,401.33 419.68,401.24" fill="#0000ff"/><polygon points="422.62,399.42 423.33,401.33 425.37,401.42 423.77,402.70 424.32,404.67 422.62,403.54 420.91,404.67 421.46,402.70 419.86,401.42 421.90,401.33" fill="#0000ff"/><polygon points="424.84,396.27 425.55,398.18 427.59,398.27 425.99,399.54 426.54,401.51 424.84,400.39 423.13,401.51 423.68,399.54 422.08,398.27 424.12,398.18" fill="#0000ff"/><polygon points="427.05,396.69 427.77,398.60 429.81,398.69 428.21,399.96 428.76,401.93 427.05,400.80 425.35,401.93 425.90,399.96 424.30,398.69 426.34,398.60" fill="#0000ff"/><polygon points="429.27,397.08 429.99,399.00 432.03,399.09 430.43,400.36 430.98,402.33 429.27,401.20 427.57,402.33 428.11,400.36 426.51,399.09 428.56,399.00" fill="#0000ff"/><polygon points="431.49,399.13 432.21,401.05 434.25,401.13 432.65,402.41 433.20,404.38 431.49,403.25 429.79,404.38 430.33,402.41 428.73,401.13 430.78,401.05" fill="#0000ff"/><polygon points="433.71,398.96 434.43,400.88 436.47,400.97 434.87,402.24 435.42,404.21 433.71,403.08 432.01,404.21 432.55,402.24 430.95,400.97 433.00,400.88" fill="#0000ff"/><polygon points="435.93,398.39 436.65,400.31 438.69,400.40 437.09,401.67 437.63,403.64 435.93,402.51 434.23,403.64 434.77,401.67 433.17,400.40 435.21,400.31" fill="#0000ff"/><polygon points="438.15,395.64 438.86,397.55 440.91,397.64 439.31,398.92 439.85,400.88 438.15,399.76 436.44,400.88 436.99,398.92 435.39,397.64 437.43,397.55" fill="#0000ff"/><polygon points="440.37,395.73 441.08,397.64 443.13,397.73 441.53,399.01 442.07,400.98 440.37,399.85 438.66,400.98 439.21,399.01 437.61,397.73 439.65,397.64" fill="#0000ff"/><polygon points="442.59,397.64 443.30,399.55 445.35,399.64 443.75,400.91 444.29,402.88 442.59,401.76 440.88,402.88 441.43,400.91 439.83,399.64 441.87,399.55" fill="#0000ff"/><polygon points="444.81,397.67 445.52,399.59 447.56,399.68 445.96,400.95 446.51,402.92 444.81,401.79 443.10,402.92 443.65,400.95 442.05,399.68 444.09,399.59" fill="#0000ff"/><polygon points="447.02,397.97 447.74,399.88 449.78,399.97 448.18,401.24 448.73,403.21 447.02,402.09 445.32,403.21 445.87,401.24 444.27,399.97 446.31,399.88" fill="#0000ff"/><polygon points="449.24,398.07 449.96,399.99 452.00,400.08 450.40,401.35 450.95,403.32 449.24,402.19 447.54,403.32 448.09,401.35 446.49,400.08 448.53,399.99" fill="#0000ff"/><polygon points="451.46,395.79 452.18,397.71 454.22,397.80 452.62,399.07 453.17,401.04 451.46,399.91 449.76,401.04 450.30,399.07 448.70,397.80 450.75,397.71" fill="#0000ff"/><polygon points="453.68,397.59 454.40,399.51 456.44,399.60 454.84,400.87 455.39,402.84 453.68,401.71 451.98,402.84 452.52,400.87 450.92,399.60 452.97,399.51" fill="#0000ff"/><polygon points="455.90,399.20 456.62,401.11 458.66,401.20 457.06,402.48 457.61,404.45 455.90,403.32 454.20,404.45 454.74,402.48 453.14,401.20 455.19,401.11" fill="#0000ff"/><polygon points="458.12,396.49 458.84,398.40 460.88,398.49 459.28,399.77 459.82,401.73 458.12,400.61 456.42,401.73 456.96,399.77 455.36,398.49 457.40,398.40" fill="#0000ff"/><polygon points="460.34,398.13 461.05,400.05 463.10,400.14 461.50,401.41 462.04,403.38 460.34,402.25 458.63,403.38 459.18,401.41 457.58,400.14 459.62,400.05" fill="#0000ff"/><polygon points="462.56,396.52 463.27,398.43 465.32,398.52 463.72,399.79 464.26,401.76 462.56,400.63 460.85,401.76 461.40,399.79 459.80,398.52 461.84,398.43" fill="#0000ff"/><polygon points="464.78,396.95 465.49,398.86 467.54,398.95 465.94,400.23 466.48,402.20 464.78,401.07 463.07,402.20 463.62,400.23 462.02,398.95 464.06,398.86" fill="#0000ff"/><polygon points="467.00,398.13 467.71,400.04 469.75,400.13 468.15,401.40 468.70,403.37 467.00,402.24 465.29,403.37 465.84,401.40 464.24,400.13 466.28,400.04" fill="#0000ff"/><polygon points="469.22,398.45 469.93,400.36 471.97,400.45 470.37,401.73 470.92,403.70 469.22,402.57 467.51,403.70 468.06,401.73 466.46,400.45 468.50,400.36" fill="#0000ff"/><polygon points="471.43,396.54 472.15,398.45 474.19,398.54 472.59,399.81 473.14,401.78 471.43,400.65 469.73,401.78 470.28,399.81 468.68,398.54 470.72,398.45" fill="#0000ff"/><polygon points="473.65,398.40 474.37,400.31 476.41,400.40 474.81,401.67 475.36,403.64 473.65,402.52 471.95,403.64 472.49,401.67 470.89,400.40 472.94,400.31" fill="#0000ff"/><polygon points="475.87,397.01 476.59,398.92 478.63,399.01 477.03,400.28 477.58,402.25 475.87,401.12 474.17,402.25 474.71,400.28 473.11,399.01 475.16,398.92" fill="#0000ff"/><polygon points="478.09,399.50 478.81,401.42 480.85,401.51 479.25,402.78 479.80,404.75 478.09,403.62 476.39,404.75 476.93,402.78 475.33,401.51 477.38,401.42" fill="#0000ff"/><polygon points="480.31,398.57 481.03,400.48 483.07,400.57 481.47,401.84 482.01,403.81 480.31,402.69 478.61,403.81 479.15,401.84 477.55,400.57 479.59,400.48" fill="#0000ff"/>
<path d="M280.60 421.63L282.82 421.45L285.04 421.87L287.26 421.93L289.48 422.66L291.70 422.55L293.91 423.17L296.13 423.80L298.35 425.07L300.57 425.24L302.79 425.61L305.01 424.90L307.23 423.66L309.45 422.76L311.67 424.55L313.88 425.82L316.10 427.52L318.32 427.60L320.54 428.20L322.76 429.45L324.98 428.39L327.20 426.53L329.42 427.83L331.64 429.78L333.86 429.79L336.08 429.27L338.29 428.43L340.51 428.20L342.73 428.43L344.95 428.72L347.17 429.33L349.39 429.50L351.61 430.54L353.83 430.65L356.05 430.59L358.26 430.61L360.48 431.33L362.70 431.04L364.92 431.33L367.14 432.23L369.36 431.97L371.58 432.48L373.80 432.91L376.02 433.05L378.24 433.08L380.46 433.47L382.67 433.70L384.89 434.12L387.11 433.88L389.33 434.22L391.55 434.20L393.77 434.47L395.99 435.11L398.21 434.60L400.43 435.86L402.64 435.34L404.86 435.41L407.08 435.20L409.30 435.46L411.52 434.59L413.74 435.04L415.96 435.35L418.18 434.63L420.40 435.15L422.62 434.58L424.84 434.74L427.05 434.76L429.27 434.62L431.49 435.06L433.71 435.80L435.93 435.65L438.15 436.13L440.37 436.72L442.59 437.26L444.81 437.04L447.02 437.36L449.24 437.21L451.46 437.42L453.68 438.04L455.90 438.55L458.12 438.16L460.34 439.39L462.56 439.49L464.78 439.20L467.00 439.36L469.22 440.12L471.43 439.79L473.65 439.72L475.87 440.52L478.09 440.68L480.31 441.08" stroke="#ff0000" stroke-width="0.8" fill="none"/>
<circle cx="280.60" cy="421.63" r="2.35" fill="#ff0000"/><circle cx="282.82" cy="421.45" r="2.35" fill="#ff0000"/><circle cx="285.04" cy="421.87" r="2.35" fill="#ff0000"/><circle cx="287.26" cy="421.93" r="2.35" fill="#ff0000"/><circle cx="289.48" cy="422.66" r="2.35" fill="#ff0000"/><circle cx="291.70" cy="422.55" r="2.35" fill="#ff0000"/><circle cx="293.91" cy="423.17" r="2.35" fill="#ff0000"/><circle cx="296.13" cy="423.80" r="2.35" fill="#ff0000"/><circle cx="298.35" cy="425.07" r="2.35" fill="#ff0000"/><circle cx="300.57" cy="425.24" r="2.35" fill="#ff0000"/><circle cx="302.79" cy="425.61" r="2.35" fill="#ff0000"/><circle cx="305.01" cy="424.90" r="2.35" fill="#ff0000"/><circle cx="307.23" cy="423.66" r="2.35" fill="#ff0000"/><circle cx="309.45" cy="422.76" r="2.35" fill="#ff0000"/><circle cx="311.67" cy="424.55" r="2.35" fill="#ff0000"/><circle cx="313.88" cy="425.82" r="2.35" fill="#ff0000"/><circle cx="316.10" cy="427.52" r="2.35" fill="#ff0000"/><circle cx="318.32" cy="427.60" r="2.35" fill="#ff0000"/><circle cx="320.54" cy="428.20" r="2.35" fill="#ff0000"/><circle cx="322.76" cy="429.45" r="2.35" fill="#ff0000"/><circle cx="324.98" cy="428.39" r="2.35" fill="#ff0000"/><circle cx="327.20" cy="426.53" r="2.35" fill="#ff0000"/><circle cx="329.42" cy="427.83" r="2.35" fill="#ff0000"/><circle cx="331.64" cy="429.78" r="2.35" fill="#ff0000"/><circle cx="333.86" cy="429.79" r="2.35" fill="#ff0000"/><circle cx="336.08" cy="429.27" r="2.35" fill="#ff0000"/><circle cx="338.29" cy="428.43" r="2.35" fill="#ff0000"/><circle cx="340.51" cy="428.20" r="2.35" fill="#ff0000"/><circle cx="342.73" cy="428.43" r="2.35" fill="#ff0000"/><circle cx="344.95" cy="428.72" r="2.35" fill="#ff0000"/><circle cx="347.17" cy="429.33" r="2.35" fill="#ff0000"/><circle cx="349.39" cy="429.50" r="2.35" fill="#ff0000"/><circle cx="351.61" cy="430.54" r="2.35" fill="#ff0000"/><circle cx="353.83" cy="430.65" r="2.35" fill="#ff0000"/><circle cx="356.05" cy="430.59" r="2.35" fill="#ff0000"/><circle cx="358.26" cy="430.61" r="2.35" fill="#ff0000"/><circle cx="360.48" cy="431.33" r="2.35" fill="#ff0000"/><circle cx="362.70" cy="431.04" r="2.35" fill="#ff0000"/><circle cx="364.92" cy="431.33" r="2.35" fill="#ff0000"/><circle cx="367.14" cy="432.23" r="2.35" fill="#ff0000"/><circle cx="369.36" cy="431.97" r="2.35" fill="#ff0000"/><circle cx="371.58" cy="432.48" r="2.35" fill="#ff0000"/><circle cx="373.80" cy="432.91" r="2.35" fill="#ff0000"/><circle cx="376.02" cy="433.05" r="2.35" fill="#ff0000"/><circle cx="378.24" cy="433.08" r="2.35" fill="#ff0000"/><circle cx="380.46" cy="433.47" r="2.35" fill="#ff0000"/><circle cx="382.67" cy="433.70" r="2.35" fill="#ff0000"/><circle cx="384.89" cy="434.12" r="2.35" fill="#ff0000"/><circle cx="387.11" cy="433.88" r="2.35" fill="#ff0000"/><circle cx="389.33" cy="434.22" r="2.35" fill="#ff0000"/><circle cx="391.55" cy="434.20" r="2.35" fill="#ff0000"/><circle cx="393.77" cy="434.47" r="2.35" fill="#ff0000"/><circle cx="395.99" cy="435.11" r="2.35" fill="#ff0000"/><circle cx="398.21" cy="434.60" r="2.35" fill="#ff0000"/><circle cx="400.43" cy="435.86" r="2.35" fill="#ff0000"/><circle cx="402.64" cy="435.34" r="2.35" fill="#ff0000"/><circle cx="404.86" cy="435.41" r="2.35" fill="#ff0000"/><circle cx="407.08" cy="435.20" r="2.35" fill="#ff0000"/><circle cx="409.30" cy="435.46" r="2.35" fill="#ff0000"/><circle cx="411.52" cy="434.59" r="2.35" fill="#ff0000"/><circle cx="413.74" cy="435.04" r="2.35" fill="#ff0000"/><circle cx="415.96" cy="435.35" r="2.35" fill="#ff0000"/><circle cx="418.18" cy="434.63" r="2.35" fill="#ff0000"/><circle cx="420.40" cy="435.15" r="2.35" fill="#ff0000"/><circle cx="422.62" cy="434.58" r="2.35" fill="#ff0000"/><circle cx="424.84" cy="434.74" r="2.35" fill="#ff0000"/><circle cx="427.05" cy="434.76" r="2.35" fill="#ff0000"/><circle cx="429.27" cy="434.62" r="2.35" fill="#ff0000"/><circle cx="431.49" cy="435.06" r="2.35" fill="#ff0000"/><circle cx="433.71" cy="435.80" r="2.35" fill="#ff0000"/><circle cx="435.93" cy="435.65" r="2.35" fill="#ff0000"/><circle cx="438.15" cy="436.13" r="2.35" fill="#ff0000"/><circle cx="440.37" cy="436.72" r="2.35" fill="#ff0000"/><circle cx="442.59" cy="437.26" r="2.35" fill="#ff0000"/><circle cx="444.81" cy="437.04" r="2.35" fill="#ff0000"/><circle cx="447.02" cy="437.36" r="2.35" fill="#ff0000"/><circle cx="449.24" cy="437.21" r="2.35" fill="#ff0000"/><circle cx="451.46" cy="437.42" r="2.35" fill="#ff0000"/><circle cx="453.68" cy="438.04" r="2.35" fill="#ff0000"/><circle cx="455.90" cy="438.55" r="2.35" fill="#ff0000"/><circle cx="458.12" cy="438.16" r="2.35" fill="#ff0000"/><circle cx="460.34" cy="439.39" r="2.35" fill="#ff0000"/><circle cx="462.56" cy="439.49" r="2.35" fill="#ff0000"/><circle cx="464.78" cy="439.20" r="2.35" fill="#ff0000"/><circle cx="467.00" cy="439.36" r="2.35" fill="#ff0000"/><circle cx="469.22" cy="440.12" r="2.35" fill="#ff0000"/><circle cx="471.43" cy="439.79" r="2.35" fill="#ff0000"/><circle cx="473.65" cy="439.72" r="2.35" fill="#ff0000"/><circle cx="475.87" cy="440.52" r="2.35" fill="#ff0000"/><circle cx="478.09" cy="440.68" r="2.35" fill="#ff0000"/><circle cx="480.31" cy="441.08" r="2.35" fill="#ff0000"/>
<path d="M280.60 435.97L282.82 434.01L285.04 433.77L287.26 431.94L289.48 430.96L291.70 431.62L293.91 432.30L296.13 431.86L298.35 433.79L300.57 435.16L302.79 436.56L305.01 436.97L307.23 438.98L309.45 440.61L311.67 440.91L313.88 438.80L316.10 435.53L318.32 434.28L320.54 435.54L322.76 435.94L324.98 436.94L327.20 438.98L329.42 439.21L331.64 440.51L333.86 440.59L336.08 441.78L338.29 443.49L340.51 445.94L342.73 450.07L344.95 447.60L347.17 452.94L349.39 452.57L351.61 453.70L353.83 453.12L356.05 453.72L358.26 453.41L360.48 457.40L362.70 453.33L364.92 454.87L367.14 458.07L369.36 463.70L371.58 463.19L373.80 461.14L376.02 460.67L378.24 460.42L380.46 458.74L382.67 460.65L384.89 464.82L387.11 465.58L389.33 466.41L391.55 463.49L393.77 463.33L395.99 464.94L398.21 468.70L400.43 465.15L402.64 467.76L404.86 467.55L407.08 466.87L409.30 466.07L411.52 465.70L413.74 468.26L415.96 473.34L418.18 474.18L420.40 472.46L422.62 475.59L424.84 473.51L427.05 472.76L429.27 479.33L431.49 474.98L433.71 475.78L435.93 479.33L438.15 482.22L440.37 481.50L442.59 481.93L444.81 487.43L447.02 486.70L449.24 487.47L451.46 488.93L453.68 491.03L455.90 493.49L458.12 492.51L460.34 491.57L462.56 495.35L464.78 494.03L467.00 492.86L469.22 495.16L471.43 497.93L473.65 503.30L475.87 501.15L478.09 501.15L480.31 502.28" stroke="#0000ff" stroke-width="0.8" fill="none"/>
<polygon points="280.60,432.97 281.34,434.95 283.45,435.05 281.80,436.36 282.36,438.40 280.60,437.23 278.84,438.40 279.40,436.36 277.75,435.05 279.86,434.95" fill="#0000ff"/><polygon points="282.82,431.01 283.56,432.99 285.67,433.08 284.02,434.40 284.58,436.43 282.82,435.27 281.06,436.43 281.62,434.40 279.97,433.08 282.08,432.99" fill="#0000ff"/><polygon points="285.04,430.77 285.78,432.75 287.89,432.84 286.24,434.16 286.80,436.19 285.04,435.03 283.27,436.19 283.84,434.16 282.18,432.84 284.30,432.75" fill="#0000ff"/><polygon points="287.26,428.94 288.00,430.92 290.11,431.01 288.46,432.32 289.02,434.36 287.26,433.20 285.49,434.36 286.06,432.32 284.40,431.01 286.52,430.92" fill="#0000ff"/><polygon points="289.48,427.96 290.22,429.94 292.33,430.03 290.67,431.35 291.24,433.38 289.48,432.22 287.71,433.38 288.28,431.35 286.62,430.03 288.74,429.94" fill="#0000ff"/><polygon points="291.70,428.62 292.44,430.60 294.55,430.69 292.89,432.01 293.46,434.04 291.70,432.88 289.93,434.04 290.50,432.01 288.84,430.69 290.95,430.60" fill="#0000ff"/><polygon points="293.91,429.30 294.65,431.28 296.77,431.37 295.11,432.69 295.68,434.73 293.91,433.56 292.15,434.73 292.72,432.69 291.06,431.37 293.17,431.28" fill="#0000ff"/><polygon points="296.13,428.86 296.87,430.85 298.99,430.94 297.33,432.25 297.90,434.29 296.13,433.12 294.37,434.29 294.93,432.25 293.28,430.94 295.39,430.85" fill="#0000ff"/><polygon points="298.35,430.79 299.09,432.77 301.21,432.86 299.55,434.18 300.12,436.21 298.35,435.05 296.59,436.21 297.15,434.18 295.50,432.86 297.61,432.77" fill="#0000ff"/><polygon points="300.57,432.16 301.31,434.14 303.42,434.23 301.77,435.55 302.33,437.59 300.57,436.42 298.81,437.59 299.37,435.55 297.72,434.23 299.83,434.14" fill="#0000ff"/><polygon points="302.79,433.56 303.53,435.54 305.64,435.63 303.99,436.95 304.55,438.99 302.79,437.82 301.03,438.99 301.59,436.95 299.94,435.63 302.05,435.54" fill="#0000ff"/><polygon points="305.01,433.97 305.75,435.95 307.86,436.04 306.21,437.36 306.77,439.40 305.01,438.23 303.25,439.40 303.81,437.36 302.16,436.04 304.27,435.95" fill="#0000ff"/><polygon points="307.23,435.98 307.97,437.96 310.08,438.06 308.43,439.37 308.99,441.41 307.23,440.24 305.46,441.41 306.03,439.37 304.37,438.06 306.49,437.96" fill="#0000ff"/><polygon points="309.45,437.61 310.19,439.59 312.30,439.68 310.65,441.00 311.21,443.03 309.45,441.87 307.68,443.03 308.25,441.00 306.59,439.68 308.71,439.59" fill="#0000ff"/><polygon points="311.67,437.91 312.41,439.89 314.52,439.99 312.86,441.30 313.43,443.34 311.67,442.17 309.90,443.34 310.47,441.30 308.81,439.99 310.93,439.89" fill="#0000ff"/><polygon points="313.88,435.80 314.63,437.78 316.74,437.88 315.08,439.19 315.65,441.23 313.88,440.06 312.12,441.23 312.69,439.19 311.03,437.88 313.14,437.78" fill="#0000ff"/><polygon points="316.10,432.53 316.84,434.52 318.96,434.61 317.30,435.92 317.87,437.96 316.10,436.79 314.34,437.96 314.91,435.92 313.25,434.61 315.36,434.52" fill="#0000ff"/><polygon points="318.32,431.28 319.06,433.26 321.18,433.35 319.52,434.67 320.09,436.71 318.32,435.54 316.56,436.71 317.12,434.67 315.47,433.35 317.58,433.26" fill="#0000ff"/><polygon points="320.54,432.54 321.28,434.52 323.40,434.62 321.74,435.93 322.31,437.97 320.54,436.80 318.78,437.97 319.34,435.93 317.69,434.62 319.80,434.52" fill="#0000ff"/><polygon points="322.76,432.94 323.50,434.92 325.61,435.02 323.96,436.33 324.52,438.37 322.76,437.20 321.00,438.37 321.56,436.33 319.91,435.02 322.02,434.92" fill="#0000ff"/><polygon points="324.98,433.94 325.72,435.92 327.83,436.01 326.18,437.33 326.74,439.37 324.98,438.20 323.22,439.37 323.78,437.33 322.13,436.01 324.24,435.92" fill="#0000ff"/><polygon points="327.20,435.98 327.94,437.96 330.05,438.05 328.40,439.37 328.96,441.40 327.20,440.24 325.44,441.40 326.00,439.37 324.35,438.05 326.46,437.96" fill="#0000ff"/><polygon points="329.42,436.21 330.16,438.19 332.27,438.28 330.62,439.60 331.18,441.63 329.42,440.47 327.65,441.63 328.22,439.60 326.56,438.28 328.68,438.19" fill="#0000ff"/><polygon points="331.64,437.51 332.38,439.49 334.49,439.58 332.84,440.90 333.40,442.94 331.64,441.77 329.87,442.94 330.44,440.90 328.78,439.58 330.90,439.49" fill="#0000ff"/><polygon points="333.86,437.59 334.60,439.57 336.71,439.67 335.05,440.98 335.62,443.02 333.86,441.85 332.09,443.02 332.66,440.98 331.00,439.67 333.12,439.57" fill="#0000ff"/><polygon points="336.08,438.78 336.82,440.76 338.93,440.85 337.27,442.17 337.84,444.21 336.08,443.04 334.31,444.21 334.88,442.17 333.22,440.85 335.33,440.76" fill="#0000ff"/><polygon points="338.29,440.49 339.03,442.47 341.15,442.56 339.49,443.88 340.06,445.92 338.29,444.75 336.53,445.92 337.10,443.88 335.44,442.56 337.55,442.47" fill="#0000ff"/><polygon points="340.51,442.94 341.25,444.92 343.37,445.01 341.71,446.33 342.28,448.36 340.51,447.20 338.75,448.36 339.31,446.33 337.66,445.01 339.77,444.92" fill="#0000ff"/><polygon points="342.73,447.07 343.47,449.05 345.59,449.14 343.93,450.45 344.50,452.49 342.73,451.33 340.97,452.49 341.53,450.45 339.88,449.14 341.99,449.05" fill="#0000ff"/><polygon points="344.95,444.60 345.69,446.58 347.80,446.68 346.15,447.99 346.71,450.03 344.95,448.86 343.19,450.03 343.75,447.99 342.10,446.68 344.21,446.58" fill="#0000ff"/><polygon points="347.17,449.94 347.91,451.92 350.02,452.01 348.37,453.33 348.93,455.36 347.17,454.20 345.41,455.36 345.97,453.33 344.32,452.01 346.43,451.92" fill="#0000ff"/><polygon points="349.39,449.57 350.13,451.55 352.24,451.64 350.59,452.96 351.15,455.00 349.39,453.83 347.63,455.00 348.19,452.96 346.54,451.64 348.65,451.55" fill="#0000ff"/><polygon points="351.61,450.70 352.35,452.68 354.46,452.77 352.81,454.09 353.37,456.13 351.61,454.96 349.84,456.13 350.41,454.09 348.75,452.77 350.87,452.68" fill="#0000ff"/><polygon points="353.83,450.12 354.57,452.10 356.68,452.19 355.03,453.51 355.59,455.54 353.83,454.38 352.06,455.54 352.63,453.51 350.97,452.19 353.09,452.10" fill="#0000ff"/><polygon points="356.05,450.72 356.79,452.70 358.90,452.80 357.24,454.11 357.81,456.15 356.05,454.98 354.28,456.15 354.85,454.11 353.19,452.80 355.31,452.70" fill="#0000ff"/><polygon points="358.26,450.41 359.01,452.39 361.12,452.48 359.46,453.80 360.03,455.83 358.26,454.67 356.50,455.83 357.07,453.80 355.41,452.48 357.52,452.39" fill="#0000ff"/><polygon points="360.48,454.40 361.22,456.38 363.34,456.48 361.68,457.79 362.25,459.83 360.48,458.66 358.72,459.83 359.29,457.79 357.63,456.48 359.74,456.38" fill="#0000ff"/><polygon points="362.70,450.33 363.44,452.31 365.56,452.41 363.90,453.72 364.47,455.76 362.70,454.59 360.94,455.76 361.50,453.72 359.85,452.41 361.96,452.31" fill="#0000ff"/><polygon points="364.92,451.87 365.66,453.85 367.78,453.94 366.12,455.26 366.69,457.30 364.92,456.13 363.16,457.30 363.72,455.26 362.07,453.94 364.18,453.85" fill="#0000ff"/><polygon points="367.14,455.07 367.88,457.05 369.99,457.14 368.34,458.46 368.90,460.50 367.14,459.33 365.38,460.50 365.94,458.46 364.29,457.14 366.40,457.05" fill="#0000ff"/><polygon points="369.36,460.70 370.10,462.68 372.21,462.77 370.56,464.09 371.12,466.12 369.36,464.96 367.60,466.12 368.16,464.09 366.51,462.77 368.62,462.68" fill="#0000ff"/><polygon points="371.58,460.19 372.32,462.17 374.43,462.26 372.78,463.57 373.34,465.61 371.58,464.45 369.82,465.61 370.38,463.57 368.73,462.26 370.84,462.17" fill="#0000ff"/><polygon points="373.80,458.14 374.54,460.12 376.65,460.21 375.00,461.53 375.56,463.56 373.80,462.40 372.03,463.56 372.60,461.53 370.94,460.21 373.06,460.12" fill="#0000ff"/><polygon points="376.02,457.67 376.76,459.65 378.87,459.75 377.22,461.06 377.78,463.10 376.02,461.93 374.25,463.10 374.82,461.06 373.16,459.75 375.28,459.65" fill="#0000ff"/><polygon points="378.24,457.42 378.98,459.40 381.09,459.49 379.43,460.81 380.00,462.85 378.24,461.68 376.47,462.85 377.04,460.81 375.38,459.49 377.50,459.40" fill="#0000ff"/><polygon points="380.46,455.74 381.20,457.72 383.31,457.81 381.65,459.13 382.22,461.16 380.46,460.00 378.69,461.16 379.26,459.13 377.60,457.81 379.71,457.72" fill="#0000ff"/><polygon points="382.67,457.65 383.41,459.63 385.53,459.72 383.87,461.04 384.44,463.08 382.67,461.91 380.91,463.08 381.48,461.04 379.82,459.72 381.93,459.63" fill="#0000ff"/><polygon points="384.89,461.82 385.63,463.80 387.75,463.90 386.09,465.21 386.66,467.25 384.89,466.08 383.13,467.25 383.69,465.21 382.04,463.90 384.15,463.80" fill="#0000ff"/><polygon points="387.11,462.58 387.85,464.56 389.97,464.65 388.31,465.97 388.88,468.01 387.11,466.84 385.35,468.01 385.91,465.97 384.26,464.65 386.37,464.56" fill="#0000ff"/><polygon points="389.33,463.41 390.07,465.39 392.18,465.48 390.53,466.80 391.09,468.84 389.33,467.67 387.57,468.84 388.13,466.80 386.48,465.48 388.59,465.39" fill="#0000ff"/><polygon points="391.55,460.49 392.29,462.47 394.40,462.56 392.75,463.88 393.31,465.91 391.55,464.75 389.79,465.91 390.35,463.88 388.70,462.56 390.81,462.47" fill="#0000ff"/><polygon points="393.77,460.33 394.51,462.31 396.62,462.40 394.97,463.72 395.53,465.76 393.77,464.59 392.01,465.76 392.57,463.72 390.92,462.40 393.03,462.31" fill="#0000ff"/><polygon points="395.99,461.94 396.73,463.92 398.84,464.01 397.19,465.33 397.75,467.37 395.99,466.20 394.22,467.37 394.79,465.33 393.13,464.01 395.25,463.92" fill="#0000ff"/><polygon points="398.21,465.70 398.95,467.68 401.06,467.77 399.41,469.09 399.97,471.13 398.21,469.96 396.44,471.13 397.01,469.09 395.35,467.77 397.47,467.68" fill="#0000ff"/><polygon points="400.43,462.15 401.17,464.13 403.28,464.22 401.62,465.54 402.19,467.58 400.43,466.41 398.66,467.58 399.23,465.54 397.57,464.22 399.69,464.13" fill="#0000ff"/><polygon points="402.64,464.76 403.39,466.74 405.50,466.83 403.84,468.15 404.41,470.18 402.64,469.02 400.88,470.18 401.45,468.15 399.79,466.83 401.90,466.74" fill="#0000ff"/><polygon points="404.86,464.55 405.60,466.53 407.72,466.62 406.06,467.94 406.63,469.98 404.86,468.81 403.10,469.98 403.67,467.94 402.01,466.62 404.12,466.53" fill="#0000ff"/><polygon points="407.08,463.87 407.82,465.85 409.94,465.95 408.28,467.26 408.85,469.30 407.08,468.13 405.32,469.30 405.88,467.26 404.23,465.95 406.34,465.85" fill="#0000ff"/><polygon points="409.30,463.07 410.04,465.05 412.16,465.15 410.50,466.46 411.07,468.50 409.30,467.33 407.54,468.50 408.10,466.46 406.45,465.15 408.56,465.05" fill="#0000ff"/><polygon points="411.52,462.70 412.26,464.68 414.37,464.77 412.72,466.09 413.28,468.12 411.52,466.96 409.76,468.12 410.32,466.09 408.67,464.77 410.78,464.68" fill="#0000ff"/><polygon points="413.74,465.26 414.48,467.24 416.59,467.33 414.94,468.65 415.50,470.69 413.74,469.52 411.98,470.69 412.54,468.65 410.89,467.33 413.00,467.24" fill="#0000ff"/><polygon points="415.96,470.34 416.70,472.32 418.81,472.41 417.16,473.73 417.72,475.77 415.96,474.60 414.20,475.77 414.76,473.73 413.11,472.41 415.22,472.32" fill="#0000ff"/><polygon points="418.18,471.18 418.92,473.16 421.03,473.25 419.38,474.57 419.94,476.60 418.18,475.44 416.41,476.60 416.98,474.57 415.32,473.25 417.44,473.16" fill="#0000ff"/><polygon points="420.40,469.46 421.14,471.44 423.25,471.53 421.60,472.84 422.16,474.88 420.40,473.72 418.63,474.88 419.20,472.84 417.54,471.53 419.66,471.44" fill="#0000ff"/><polygon points="422.62,472.59 423.36,474.57 425.47,474.67 423.81,475.98 424.38,478.02 422.62,476.85 420.85,478.02 421.42,475.98 419.76,474.67 421.88,474.57" fill="#0000ff"/><polygon points="424.84,470.51 425.58,472.49 427.69,472.59 426.03,473.90 426.60,475.94 424.84,474.77 423.07,475.94 423.64,473.90 421.98,472.59 424.09,472.49" fill="#0000ff"/><polygon points="427.05,469.76 427.79,471.74 429.91,471.83 428.25,473.15 428.82,475.19 427.05,474.02 425.29,475.19 425.86,473.15 424.20,471.83 426.31,471.74" fill="#0000ff"/><polygon points="429.27,476.33 430.01,478.31 432.13,478.40 430.47,479.72 431.04,481.75 429.27,480.59 427.51,481.75 428.07,479.72 426.42,478.40 428.53,478.31" fill="#0000ff"/><polygon points="431.49,471.98 432.23,473.96 434.35,474.05 432.69,475.37 433.26,477.41 431.49,476.24 429.73,477.41 430.29,475.37 428.64,474.05 430.75,473.96" fill="#0000ff"/><polygon points="433.71,472.78 434.45,474.76 436.56,474.85 434.91,476.17 435.47,478.21 433.71,477.04 431.95,478.21 432.51,476.17 430.86,474.85 432.97,474.76" fill="#0000ff"/><polygon points="435.93,476.33 436.67,478.31 438.78,478.40 437.13,479.71 437.69,481.75 435.93,480.59 434.17,481.75 434.73,479.71 433.08,478.40 435.19,478.31" fill="#0000ff"/><polygon points="438.15,479.22 438.89,481.20 441.00,481.29 439.35,482.61 439.91,484.65 438.15,483.48 436.39,484.65 436.95,482.61 435.30,481.29 437.41,481.20" fill="#0000ff"/><polygon points="440.37,478.50 441.11,480.48 443.22,480.57 441.57,481.89 442.13,483.93 440.37,482.76 438.60,483.93 439.17,481.89 437.51,480.57 439.63,480.48" fill="#0000ff"/><polygon points="442.59,478.93 443.33,480.91 445.44,481.01 443.79,482.32 444.35,484.36 442.59,483.19 440.82,484.36 441.39,482.32 439.73,481.01 441.85,480.91" fill="#0000ff"/><polygon points="444.81,484.43 445.55,486.41 447.66,486.50 446.00,487.82 446.57,489.86 444.81,488.69 443.04,489.86 443.61,487.82 441.95,486.50 444.07,486.41" fill="#0000ff"/><polygon points="447.02,483.70 447.77,485.68 449.88,485.78 448.22,487.09 448.79,489.13 447.02,487.96 445.26,489.13 445.83,487.09 444.17,485.78 446.28,485.68" fill="#0000ff"/><polygon points="449.24,484.47 449.98,486.45 452.10,486.54 450.44,487.86 451.01,489.90 449.24,488.73 447.48,489.90 448.05,487.86 446.39,486.54 448.50,486.45" fill="#0000ff"/><polygon points="451.46,485.93 452.20,487.91 454.32,488.00 452.66,489.32 453.23,491.35 451.46,490.19 449.70,491.35 450.26,489.32 448.61,488.00 450.72,487.91" fill="#0000ff"/><polygon points="453.68,488.03 454.42,490.02 456.54,490.11 454.88,491.42 455.45,493.46 453.68,492.29 451.92,493.46 452.48,491.42 450.83,490.11 452.94,490.02" fill="#0000ff"/><polygon points="455.90,490.49 456.64,492.47 458.75,492.57 457.10,493.88 457.66,495.92 455.90,494.75 454.14,495.92 454.70,493.88 453.05,492.57 455.16,492.47" fill="#0000ff"/><polygon points="458.12,489.51 458.86,491.49 460.97,491.58 459.32,492.90 459.88,494.94 458.12,493.77 456.36,494.94 456.92,492.90 455.27,491.58 457.38,491.49" fill="#0000ff"/><polygon points="460.34,488.57 461.08,490.55 463.19,490.64 461.54,491.96 462.10,494.00 460.34,492.83 458.58,494.00 459.14,491.96 457.49,490.64 459.60,490.55" fill="#0000ff"/><polygon points="462.56,492.35 463.30,494.33 465.41,494.43 463.76,495.74 464.32,497.78 462.56,496.61 460.79,497.78 461.36,495.74 459.70,494.43 461.82,494.33" fill="#0000ff"/><polygon points="464.78,491.03 465.52,493.01 467.63,493.10 465.98,494.42 466.54,496.46 464.78,495.29 463.01,496.46 463.58,494.42 461.92,493.10 464.04,493.01" fill="#0000ff"/><polygon points="467.00,489.86 467.74,491.84 469.85,491.93 468.19,493.24 468.76,495.28 467.00,494.12 465.23,495.28 465.80,493.24 464.14,491.93 466.26,491.84" fill="#0000ff"/><polygon points="469.22,492.16 469.96,494.15 472.07,494.24 470.41,495.55 470.98,497.59 469.22,496.42 467.45,497.59 468.02,495.55 466.36,494.24 468.47,494.15" fill="#0000ff"/><polygon points="471.43,494.93 472.17,496.91 474.29,497.00 472.63,498.32 473.20,500.35 471.43,499.19 469.67,500.35 470.24,498.32 468.58,497.00 470.69,496.91" fill="#0000ff"/><polygon points="473.65,500.30 474.39,502.28 476.51,502.38 474.85,503.69 475.42,505.73 473.65,504.56 471.89,505.73 472.45,503.69 470.80,502.38 472.91,502.28" fill="#0000ff"/><polygon points="475.87,498.15 476.61,500.13 478.73,500.22 477.07,501.54 477.64,503.57 475.87,502.41 474.11,503.57 474.67,501.54 473.02,500.22 475.13,500.13" fill="#0000ff"/><polygon points="478.09,498.15 478.83,500.13 480.94,500.23 479.29,501.54 479.85,503.58 478.09,502.41 476.33,503.58 476.89,501.54 475.24,500.23 477.35,500.13" fill="#0000ff"/><polygon points="480.31,499.28 481.05,501.26 483.16,501.35 481.51,502.67 482.07,504.70 480.31,503.54 478.55,504.70 479.11,502.67 477.46,501.35 479.57,501.26" fill="#0000ff"/>
<rect x="280.60" y="370.80" width="199.70" height="146.70" fill="none" stroke="#333" stroke-width="1.2"/>
<path d="M280.60 517.50h3.00M280.60 506.22h3.00M280.60 494.93h3.00M280.60 483.65h3.00M280.60 472.36h3.00M280.60 461.08h3.00M280.60 449.80h3.00M280.60 438.51h3.00M280.60 427.23h3.00M280.60 415.94h3.00M280.60 404.66h3.00M280.60 393.38h3.00M280.60 382.09h3.00M280.60 370.81h3.00" stroke="#222" stroke-width="0.9" fill="none"/>
<path d="M480.30 517.20h-3.00M480.30 484.60h-3.00M480.30 452.00h-3.00M480.30 419.40h-3.00M480.30 386.80h-3.00" stroke="#222" stroke-width="0.9" fill="none"/>
<path d="M480.30 500.90h-1.80M480.30 468.30h-1.80M480.30 435.70h-1.80M480.30 403.10h-1.80M480.30 370.50h-1.80" stroke="#222" stroke-width="0.9" fill="none"/>
<path d="M280.60 517.50v-3.00M302.79 517.50v-3.00M324.98 517.50v-3.00M347.17 517.50v-3.00M369.36 517.50v-3.00M391.55 517.50v-3.00M413.74 517.50v-3.00M435.93 517.50v-3.00M458.12 517.50v-3.00M480.31 517.50v-3.00" stroke="#222" stroke-width="0.9" fill="none"/>
<path d="M291.70 517.50v-1.80M313.88 517.50v-1.80M336.08 517.50v-1.80M358.26 517.50v-1.80M380.46 517.50v-1.80M402.64 517.50v-1.80M424.84 517.50v-1.80M447.02 517.50v-1.80M469.22 517.50v-1.80" stroke="#222" stroke-width="0.9" fill="none"/>
<text x="277.20" y="520.10" style="font-family:'Liberation Serif',serif;font-size:7.8px;font-weight:normal" text-anchor="end" fill="#222">0</text>
<text x="277.20" y="508.82" style="font-family:'Liberation Serif',serif;font-size:7.8px;font-weight:normal" text-anchor="end" fill="#222">20</text>
<text x="277.20" y="497.53" style="font-family:'Liberation Serif',serif;font-size:7.8px;font-weight:normal" text-anchor="end" fill="#222">40</text>
<text x="277.20" y="486.25" style="font-family:'Liberation Serif',serif;font-size:7.8px;font-weight:normal" text-anchor="end" fill="#222">60</text>
<text x="277.20" y="474.96" style="font-family:'Liberation Serif',serif;font-size:7.8px;font-weight:normal" text-anchor="end" fill="#222">80</text>
<text x="277.20" y="463.68" style="font-family:'Liberation Serif',serif;font-size:7.8px;font-weight:normal" text-anchor="end" fill="#222">100</text>
<text x="277.20" y="452.40" style="font-family:'Liberation Serif',serif;font-size:7.8px;font-weight:normal" text-anchor="end" fill="#222">120</text>
<text x="277.20" y="441.11" style="font-family:'Liberation Serif',serif;font-size:7.8px;font-weight:normal" text-anchor="end" fill="#222">140</text>
<text x="277.20" y="429.83" style="font-family:'Liberation Serif',serif;font-size:7.8px;font-weight:normal" text-anchor="end" fill="#222">160</text>
<text x="277.20" y="418.54" style="font-family:'Liberation Serif',serif;font-size:7.8px;font-weight:normal" text-anchor="end" fill="#222">180</text>
<text x="277.20" y="407.26" style="font-family:'Liberation Serif',serif;font-size:7.8px;font-weight:normal" text-anchor="end" fill="#222">200</text>
<text x="277.20" y="395.98" style="font-family:'Liberation Serif',serif;font-size:7.8px;font-weight:normal" text-anchor="end" fill="#222">220</text>
<text x="277.20" y="384.69" style="font-family:'Liberation Serif',serif;font-size:7.8px;font-weight:normal" text-anchor="end" fill="#222">240</text>
<text x="277.20" y="373.41" style="font-family:'Liberation Serif',serif;font-size:7.8px;font-weight:normal" text-anchor="end" fill="#222">260</text>
<text x="484.30" y="519.80" style="font-family:'Liberation Serif',serif;font-size:7.8px;font-weight:normal" text-anchor="start" fill="#222">60</text>
<text x="484.30" y="487.20" style="font-family:'Liberation Serif',serif;font-size:7.8px;font-weight:normal" text-anchor="start" fill="#222">70</text>
<text x="484.30" y="454.60" style="font-family:'Liberation Serif',serif;font-size:7.8px;font-weight:normal" text-anchor="start" fill="#222">80</text>
<text x="484.30" y="422.00" style="font-family:'Liberation Serif',serif;font-size:7.8px;font-weight:normal" text-anchor="start" fill="#222">90</text>
<text x="484.30" y="389.40" style="font-family:'Liberation Serif',serif;font-size:7.8px;font-weight:normal" text-anchor="start" fill="#222">100</text>
<text x="280.60" y="526.80" style="font-family:'Liberation Serif',serif;font-size:7.8px;font-weight:normal" text-anchor="middle" fill="#222">0</text>
<text x="302.79" y="526.80" style="font-family:'Liberation Serif',serif;font-size:7.8px;font-weight:normal" text-anchor="middle" fill="#222">10</text>
<text x="324.98" y="526.80" style="font-family:'Liberation Serif',serif;font-size:7.8px;font-weight:normal" text-anchor="middle" fill="#222">20</text>
<text x="347.17" y="526.80" style="font-family:'Liberation Serif',serif;font-size:7.8px;font-weight:normal" text-anchor="middle" fill="#222">30</text>
<text x="369.36" y="526.80" style="font-family:'Liberation Serif',serif;font-size:7.8px;font-weight:normal" text-anchor="middle" fill="#222">40</text>
<text x="391.55" y="526.80" style="font-family:'Liberation Serif',serif;font-size:7.8px;font-weight:normal" text-anchor="middle" fill="#222">50</text>
<text x="413.74" y="526.80" style="font-family:'Liberation Serif',serif;font-size:7.8px;font-weight:normal" text-anchor="middle" fill="#222">60</text>
<text x="435.93" y="526.80" style="font-family:'Liberation Serif',serif;font-size:7.8px;font-weight:normal" text-anchor="middle" fill="#222">70</text>
<text x="458.12" y="526.80" style="font-family:'Liberation Serif',serif;font-size:7.8px;font-weight:normal" text-anchor="middle" fill="#222">80</text>
<text x="480.31" y="526.80" style="font-family:'Liberation Serif',serif;font-size:7.8px;font-weight:normal" text-anchor="middle" fill="#222">90</text>
<polygon points="294.60,477.20 295.29,479.05 297.26,479.13 295.72,480.36 296.25,482.27 294.60,481.18 292.95,482.27 293.48,480.36 291.94,479.13 293.91,479.05" fill="#0000ff"/>
<circle cx="294.60" cy="489.20" r="1.85" fill="#fff" stroke="#ff0000" stroke-width="0.9"/><path d="M294.60 486.90A2.30 2.30 0 0 1 294.60 491.50Z" fill="#ff0000"/>
<path d="M286.5 500.5H302.7" stroke="#777" stroke-width="0.8"/><circle cx="294.60" cy="500.50" r="2.50" fill="#ff0000"/>
<path d="M286.5 509.8H302.7" stroke="#4040ff" stroke-width="0.8"/><polygon points="294.60,507.00 295.29,508.85 297.26,508.93 295.72,510.16 296.25,512.07 294.60,510.98 292.95,512.07 293.48,510.16 291.94,508.93 293.91,508.85" fill="#0000ff"/>
<text x="304.10" y="482.60" style="font-family:'Liberation Serif',serif;font-size:8.0px;font-weight:normal" text-anchor="start" fill="#222" textLength="107.00" lengthAdjust="spacingAndGlyphs">Coulombic efficiency of Li|NCM811</text>
<text x="304.10" y="491.60" style="font-family:'Liberation Serif',serif;font-size:8.0px;font-weight:normal" text-anchor="start" fill="#222" textLength="129.80" lengthAdjust="spacingAndGlyphs">Coulombic efficiency of Li<tspan font-size="4.0" dy="2.2">0.98</tspan><tspan dy="-2.2">Sn</tspan><tspan font-size="4.0" dy="2.2">0.02</tspan><tspan dy="-2.2">|NCM811</tspan></text>
<text x="304.10" y="502.60" style="font-family:'Liberation Serif',serif;font-size:8.0px;font-weight:normal" text-anchor="start" fill="#222" textLength="99.10" lengthAdjust="spacingAndGlyphs">Discharge capacity of Li|NCM811</text>
<text x="304.10" y="511.50" style="font-family:'Liberation Serif',serif;font-size:8.0px;font-weight:normal" text-anchor="start" fill="#222" textLength="122.70" lengthAdjust="spacingAndGlyphs">Discharge capacity of Li<tspan font-size="4.0" dy="2.2">0.98</tspan><tspan dy="-2.2">Sn</tspan><tspan font-size="4.0" dy="2.2">0.02</tspan><tspan dy="-2.2">|NCM811</tspan></text>
<text x="354.50" y="541.30" style="font-family:'Liberation Serif',serif;font-size:9.6px;font-weight:normal" text-anchor="start" fill="#222" textLength="50.90" lengthAdjust="spacingAndGlyphs">Cycle number</text>
<text x="259.80" y="510.50" style="font-family:'Liberation Serif',serif;font-size:10.4px;font-weight:normal" text-anchor="start" fill="#222" transform="rotate(-90 259.80 510.50)" textLength="119.30" lengthAdjust="spacingAndGlyphs">Discharge capacity (mAh g<tspan font-size="6" dy="-4">-1</tspan><tspan dy="4">)</tspan></text>
<text x="500.40" y="499.00" style="font-family:'Liberation Serif',serif;font-size:9.8px;font-weight:normal" text-anchor="start" fill="#222" transform="rotate(-90 500.40 499.00)" textLength="98.00" lengthAdjust="spacingAndGlyphs">Coulombic efficiency (%)</text>
<text x="249.00" y="368.30" style="font-family:'Liberation Serif',serif;font-size:18.8px;font-weight:normal" text-anchor="start" fill="#111">(f)</text>
</svg></body></html>
